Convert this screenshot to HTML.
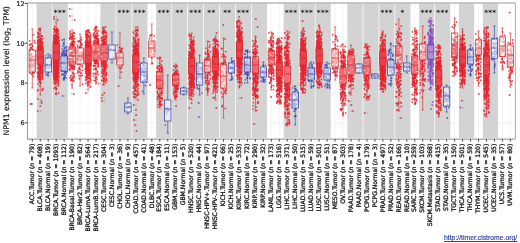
<!DOCTYPE html>
<html><head><meta charset="utf-8"><title>NPM1 expression</title>
<style>
html,body{margin:0;padding:0;background:#fff;}
body{width:520px;height:243px;position:relative;overflow:hidden;}
a.src{position:absolute;left:444px;top:233.8px;font-family:"Liberation Sans",Arial,sans-serif;font-size:6.84px;color:#2a3f9e;text-decoration:underline;text-decoration-skip-ink:none;-webkit-text-stroke:0.15px #2a3f9e;white-space:nowrap;}
</style></head><body>
<svg width="520" height="243" viewBox="0 0 520 243" style="position:absolute;left:0;top:0;filter:blur(0.4px)">
<rect x="0" y="0" width="520" height="243" fill="#fff"/>
<path d="M32.30 3.0V139.2M40.27 3.0V139.2M48.24 3.0V139.2M56.20 3.0V139.2M64.17 3.0V139.2M72.14 3.0V139.2M80.11 3.0V139.2M88.08 3.0V139.2M96.04 3.0V139.2M104.01 3.0V139.2M111.98 3.0V139.2M119.95 3.0V139.2M127.92 3.0V139.2M135.88 3.0V139.2M143.85 3.0V139.2M151.82 3.0V139.2M159.79 3.0V139.2M167.76 3.0V139.2M175.72 3.0V139.2M183.69 3.0V139.2M191.66 3.0V139.2M199.63 3.0V139.2M207.60 3.0V139.2M215.56 3.0V139.2M223.53 3.0V139.2M231.50 3.0V139.2M239.47 3.0V139.2M247.44 3.0V139.2M255.40 3.0V139.2M263.37 3.0V139.2M271.34 3.0V139.2M279.31 3.0V139.2M287.28 3.0V139.2M295.24 3.0V139.2M303.21 3.0V139.2M311.18 3.0V139.2M319.15 3.0V139.2M327.12 3.0V139.2M335.08 3.0V139.2M343.05 3.0V139.2M351.02 3.0V139.2M358.99 3.0V139.2M366.96 3.0V139.2M374.92 3.0V139.2M382.89 3.0V139.2M390.86 3.0V139.2M398.83 3.0V139.2M406.80 3.0V139.2M414.76 3.0V139.2M422.73 3.0V139.2M430.70 3.0V139.2M438.67 3.0V139.2M446.64 3.0V139.2M454.60 3.0V139.2M462.57 3.0V139.2M470.54 3.0V139.2M478.51 3.0V139.2M486.48 3.0V139.2M494.44 3.0V139.2M502.41 3.0V139.2M510.38 3.0V139.2" stroke="#f1f1f1" stroke-width="0.8" fill="none"/>
<path d="M27.5 122.75H515.0" stroke="#ececec" stroke-width="0.8"/>
<path d="M27.5 83.00H515.0" stroke="#ececec" stroke-width="0.8"/>
<path d="M27.5 43.25H515.0" stroke="#ececec" stroke-width="0.8"/>
<rect x="36.63" y="3.0" width="15.24" height="134.90" fill="#d3d3d3"/>
<rect x="52.57" y="3.0" width="15.24" height="134.90" fill="#d3d3d3"/>
<rect x="100.38" y="3.0" width="15.24" height="134.90" fill="#d3d3d3"/>
<rect x="116.31" y="3.0" width="15.24" height="134.90" fill="#d3d3d3"/>
<rect x="132.25" y="3.0" width="15.24" height="134.90" fill="#d3d3d3"/>
<rect x="156.15" y="3.0" width="15.24" height="134.90" fill="#d3d3d3"/>
<rect x="172.09" y="3.0" width="15.24" height="134.90" fill="#d3d3d3"/>
<rect x="188.03" y="3.0" width="15.24" height="134.90" fill="#d3d3d3"/>
<rect x="203.96" y="3.0" width="15.24" height="134.90" fill="#d3d3d3"/>
<rect x="219.90" y="3.0" width="15.24" height="134.90" fill="#d3d3d3"/>
<rect x="235.83" y="3.0" width="15.24" height="134.90" fill="#d3d3d3"/>
<rect x="251.77" y="3.0" width="15.24" height="134.90" fill="#d3d3d3"/>
<rect x="283.64" y="3.0" width="15.24" height="134.90" fill="#d3d3d3"/>
<rect x="299.58" y="3.0" width="15.24" height="134.90" fill="#d3d3d3"/>
<rect x="315.51" y="3.0" width="15.24" height="134.90" fill="#d3d3d3"/>
<rect x="347.39" y="3.0" width="15.24" height="134.90" fill="#d3d3d3"/>
<rect x="363.32" y="3.0" width="15.24" height="134.90" fill="#d3d3d3"/>
<rect x="379.26" y="3.0" width="15.24" height="134.90" fill="#d3d3d3"/>
<rect x="395.19" y="3.0" width="15.24" height="134.90" fill="#d3d3d3"/>
<rect x="419.10" y="3.0" width="15.24" height="134.90" fill="#d3d3d3"/>
<rect x="435.03" y="3.0" width="15.24" height="134.90" fill="#d3d3d3"/>
<rect x="458.94" y="3.0" width="15.24" height="134.90" fill="#d3d3d3"/>
<rect x="482.84" y="3.0" width="15.24" height="134.90" fill="#d3d3d3"/>
<path d="M30.3 59.8h0M34.3 59.3h0M32.6 71.4h0M34.3 64.1h0M31.5 48.0h0M30.4 66.2h0M30.9 54.5h0M31.0 61.6h0M31.6 64.6h0M33.3 76.5h0M33.3 56.8h0M33.8 61.1h0M31.7 58.2h0M33.0 72.3h0M30.7 65.6h0M29.9 73.0h0M30.1 61.1h0M34.3 61.5h0M31.0 67.6h0M30.3 65.1h0M32.1 67.2h0M30.2 51.3h0M34.1 72.9h0M34.7 64.0h0M32.5 46.0h0M34.9 42.9h0M31.0 43.9h0M41.0 47.7h0M42.6 59.1h0M39.4 79.7h0M42.8 65.1h0M39.2 48.0h0M38.5 60.0h0M42.5 66.6h0M42.5 66.7h0M38.3 51.1h0M39.4 65.3h0M39.0 76.6h0M41.6 59.4h0M40.4 42.2h0M37.9 36.4h0M38.2 59.8h0M42.2 46.8h0M38.9 50.3h0M42.7 72.9h0M37.7 50.3h0M42.4 47.2h0M37.6 90.5h0M42.0 44.5h0M38.9 73.4h0M40.4 66.3h0M41.5 48.6h0M40.0 60.3h0M41.8 40.9h0M41.1 49.5h0M38.9 41.9h0M38.2 58.6h0M40.7 59.4h0M40.8 60.4h0M40.1 41.0h0M42.3 51.2h0M38.9 53.3h0M39.2 56.2h0M41.2 40.7h0M41.2 56.5h0M37.8 42.9h0M41.3 50.0h0M41.6 56.0h0M42.8 48.6h0M38.8 52.4h0M39.2 61.9h0M38.6 62.8h0M41.2 38.9h0M39.7 65.7h0M38.3 53.3h0M39.7 50.5h0M41.5 52.6h0M39.3 75.4h0M41.6 54.8h0M39.6 72.4h0M38.5 79.2h0M39.5 55.9h0M42.8 58.8h0M42.0 66.6h0M37.8 56.6h0M42.5 49.0h0M42.4 75.0h0M42.0 59.2h0M37.8 58.7h0M39.0 53.3h0M39.4 48.5h0M40.9 52.6h0M39.3 57.4h0M41.6 60.4h0M42.7 49.8h0M40.1 71.4h0M39.7 66.5h0M40.2 59.0h0M41.9 61.7h0M41.7 43.6h0M39.3 46.1h0M38.0 68.5h0M38.9 39.8h0M40.6 54.6h0M42.3 60.5h0M38.0 59.8h0M41.4 35.5h0M39.8 57.5h0M41.6 58.9h0M38.2 89.9h0M40.6 54.2h0M38.6 56.6h0M38.4 66.7h0M39.3 55.7h0M40.3 62.5h0M41.1 67.7h0M40.1 73.7h0M42.5 46.0h0M38.2 48.4h0M40.7 69.0h0M42.2 54.0h0M41.8 42.7h0M40.8 50.6h0M39.6 68.6h0M38.9 42.2h0M38.7 53.8h0M41.2 58.3h0M38.7 65.3h0M37.9 44.3h0M40.5 79.6h0M38.5 42.1h0M39.1 75.9h0M39.3 62.0h0M39.8 62.8h0M39.5 54.8h0M38.7 48.3h0M39.9 44.8h0M42.3 56.5h0M37.6 72.4h0M42.5 54.8h0M39.6 39.3h0M39.1 43.2h0M38.2 75.1h0M42.8 59.2h0M42.7 63.0h0M37.9 56.0h0M42.5 54.1h0M38.4 52.3h0M39.8 30.7h0M38.6 48.2h0M40.4 58.1h0M38.9 57.7h0M37.8 50.9h0M37.8 56.4h0M40.8 78.0h0M39.2 30.5h0M39.9 85.9h0M39.9 47.9h0M40.2 58.7h0M41.8 65.8h0M40.1 72.0h0M39.9 81.8h0M40.3 83.1h0M38.0 99.0h0M40.3 106.0h0M54.0 53.7h0M56.5 42.0h0M58.7 53.2h0M56.9 40.0h0M56.4 93.8h0M55.2 58.2h0M56.3 74.9h0M57.2 56.6h0M58.3 55.4h0M55.1 60.2h0M54.5 70.5h0M56.8 62.1h0M56.9 74.4h0M57.8 53.5h0M53.5 63.7h0M56.7 61.8h0M56.2 58.0h0M57.0 60.2h0M56.6 38.3h0M54.4 56.8h0M54.0 44.7h0M57.9 30.3h0M53.8 47.9h0M55.2 44.9h0M54.4 61.2h0M58.4 29.7h0M55.9 63.3h0M58.3 43.0h0M55.9 66.3h0M53.7 73.2h0M55.2 55.7h0M55.1 37.6h0M56.2 59.5h0M55.6 67.6h0M55.2 38.3h0M57.8 55.5h0M55.4 65.3h0M55.1 37.3h0M56.4 81.4h0M53.9 58.7h0M55.4 50.2h0M55.0 52.8h0M57.1 47.6h0M57.3 70.5h0M58.0 41.2h0M58.0 54.5h0M55.4 64.8h0M58.7 62.7h0M56.2 58.0h0M54.2 58.8h0M58.4 61.8h0M54.8 56.6h0M58.2 50.8h0M56.4 60.5h0M55.6 37.2h0M55.2 58.6h0M54.5 62.0h0M57.1 64.8h0M55.5 62.4h0M53.9 60.0h0M54.2 58.1h0M55.7 54.5h0M58.3 85.2h0M55.0 54.8h0M57.1 63.7h0M57.1 52.8h0M58.1 80.6h0M54.5 57.3h0M57.5 76.6h0M53.7 42.9h0M55.1 49.6h0M55.2 61.6h0M58.0 53.6h0M54.9 51.2h0M55.4 53.2h0M57.7 60.9h0M58.1 66.7h0M54.8 78.7h0M54.6 58.3h0M54.0 45.2h0M57.5 51.1h0M54.0 57.6h0M58.5 48.1h0M58.0 66.8h0M53.8 49.6h0M56.3 51.5h0M57.6 63.0h0M57.9 51.0h0M58.7 51.2h0M54.9 50.2h0M55.7 66.1h0M54.2 56.3h0M54.8 55.7h0M55.9 62.5h0M55.1 60.2h0M56.5 60.2h0M56.5 59.6h0M57.1 39.9h0M57.6 58.5h0M55.1 55.5h0M53.8 63.7h0M57.3 59.6h0M55.3 42.7h0M54.4 49.6h0M58.9 60.0h0M57.4 38.5h0M54.1 40.4h0M54.5 40.8h0M58.5 66.8h0M58.6 45.1h0M54.8 66.0h0M57.7 50.1h0M54.5 28.8h0M58.5 43.5h0M58.0 42.8h0M54.5 44.7h0M55.5 54.3h0M58.0 57.5h0M56.6 55.9h0M57.3 55.4h0M56.2 63.2h0M55.1 56.2h0M57.2 28.3h0M58.7 60.8h0M55.9 63.2h0M53.5 47.9h0M57.8 53.7h0M57.1 42.6h0M55.3 44.6h0M58.0 73.2h0M55.1 75.7h0M55.4 56.7h0M55.3 57.8h0M58.4 57.3h0M58.7 58.6h0M53.8 38.9h0M55.1 53.7h0M56.1 58.4h0M55.4 42.0h0M54.5 73.9h0M54.0 62.6h0M56.6 58.8h0M56.6 78.5h0M54.5 69.8h0M54.1 39.4h0M54.0 61.3h0M56.1 43.1h0M56.6 68.4h0M56.7 65.8h0M53.9 69.7h0M56.5 68.1h0M54.1 57.9h0M54.1 45.6h0M54.4 63.3h0M57.7 72.0h0M53.8 55.1h0M53.6 45.3h0M55.1 71.4h0M58.3 59.5h0M56.5 49.2h0M54.4 48.2h0M57.6 58.1h0M54.2 62.0h0M58.6 51.0h0M56.8 65.1h0M57.8 74.4h0M57.2 46.5h0M55.9 42.3h0M54.1 53.6h0M57.8 53.3h0M55.1 58.3h0M54.3 43.2h0M57.2 31.2h0M53.6 43.9h0M56.2 46.6h0M53.7 37.2h0M57.2 61.6h0M54.4 72.2h0M58.2 73.5h0M55.3 56.5h0M56.7 62.0h0M55.5 60.7h0M55.6 55.6h0M56.6 32.9h0M56.0 57.7h0M54.3 88.5h0M55.0 58.9h0M56.6 58.6h0M58.9 57.1h0M57.7 62.1h0M56.9 52.4h0M55.0 58.0h0M58.6 60.6h0M57.6 69.0h0M56.9 65.6h0M55.7 65.4h0M55.2 52.7h0M55.5 44.0h0M55.4 62.0h0M58.2 66.0h0M56.6 61.3h0M53.9 54.0h0M57.4 46.0h0M55.3 46.6h0M53.9 28.6h0M58.8 55.9h0M55.8 53.9h0M56.1 30.8h0M54.9 42.7h0M55.0 66.0h0M55.7 41.9h0M58.2 56.9h0M57.5 69.6h0M53.9 59.7h0M55.3 37.8h0M56.4 53.5h0M58.5 39.8h0M57.6 70.2h0M57.2 49.3h0M55.7 58.7h0M55.3 44.8h0M54.9 57.2h0M58.5 58.3h0M53.8 58.7h0M55.3 41.8h0M54.3 50.4h0M57.9 64.1h0M56.7 45.7h0M56.8 56.3h0M54.9 61.1h0M57.7 66.1h0M58.8 69.1h0M56.3 81.2h0M53.6 58.3h0M57.7 30.8h0M54.7 34.8h0M53.7 64.9h0M56.2 61.6h0M58.6 66.2h0M54.5 48.4h0M54.4 52.1h0M54.8 54.6h0M56.9 74.3h0M56.0 65.2h0M54.1 65.6h0M57.0 59.2h0M53.8 76.0h0M58.5 63.2h0M54.7 61.1h0M55.8 73.0h0M57.6 52.1h0M58.9 51.3h0M54.4 66.9h0M54.9 64.8h0M55.0 76.2h0M58.3 60.1h0M56.7 79.2h0M58.3 52.7h0M55.4 78.0h0M54.5 47.4h0M55.1 40.1h0M58.8 63.7h0M54.3 50.6h0M54.4 50.1h0M55.3 53.9h0M58.3 63.3h0M54.8 61.9h0M53.7 56.4h0M55.8 60.3h0M58.9 66.1h0M54.2 54.6h0M55.8 50.7h0M54.3 63.9h0M54.1 78.8h0M58.5 62.6h0M58.7 49.3h0M55.0 67.6h0M53.9 61.9h0M55.7 38.1h0M53.6 71.1h0M56.4 57.3h0M58.8 51.2h0M55.7 52.9h0M58.8 40.8h0M55.7 64.5h0M53.5 66.3h0M54.9 59.6h0M54.8 56.2h0M58.1 46.9h0M53.8 56.0h0M57.0 55.4h0M58.8 52.1h0M58.1 49.0h0M58.9 57.0h0M57.5 35.5h0M55.6 42.2h0M57.2 61.1h0M56.4 64.3h0M54.9 54.3h0M57.4 57.8h0M54.7 47.7h0M56.4 76.5h0M57.9 53.4h0M57.9 47.2h0M58.0 65.6h0M53.7 61.4h0M57.9 48.1h0M54.9 68.1h0M57.8 68.1h0M54.0 76.6h0M57.3 64.6h0M57.8 78.7h0M57.2 45.4h0M54.8 26.7h0M55.6 53.3h0M56.6 47.2h0M57.4 62.4h0M54.8 77.5h0M56.9 28.9h0M55.8 75.8h0M55.5 60.7h0M55.5 54.8h0M55.7 49.3h0M55.4 29.8h0M58.5 67.0h0M57.3 31.9h0M55.3 56.2h0M55.6 60.7h0M58.4 64.4h0M56.7 57.2h0M58.0 50.4h0M58.3 52.2h0M56.3 44.0h0M57.5 46.8h0M57.2 65.6h0M57.7 55.4h0M53.9 76.2h0M54.0 47.1h0M53.8 56.2h0M56.1 79.4h0M55.8 58.6h0M57.9 56.5h0M55.3 87.3h0M58.8 51.1h0M55.2 42.1h0M56.5 37.3h0M53.8 36.6h0M57.8 50.1h0M54.6 74.6h0M55.5 44.8h0M56.7 53.3h0M54.6 68.5h0M53.8 66.1h0M55.7 53.8h0M55.0 52.9h0M57.3 65.3h0M56.0 59.7h0M58.2 42.8h0M57.0 71.3h0M53.9 73.1h0M58.5 69.2h0M56.2 71.9h0M55.1 83.7h0M54.3 29.2h0M54.0 17.0h0M58.6 93.0h0M73.9 73.7h0M70.1 63.5h0M72.7 43.3h0M72.7 68.5h0M70.6 61.2h0M73.1 66.3h0M71.4 80.0h0M74.0 44.5h0M72.8 51.6h0M69.8 58.9h0M73.8 55.4h0M70.0 34.8h0M71.3 66.5h0M70.6 64.7h0M74.0 74.5h0M69.6 70.2h0M72.2 44.2h0M72.8 47.0h0M71.6 67.1h0M70.7 80.0h0M73.8 49.4h0M74.8 61.9h0M70.2 55.5h0M73.3 61.2h0M70.5 65.2h0M70.5 53.8h0M71.8 49.4h0M70.5 45.7h0M73.2 72.5h0M74.6 38.8h0M73.3 51.0h0M69.5 62.4h0M72.8 58.5h0M70.3 66.5h0M71.1 55.0h0M71.4 59.1h0M71.9 85.1h0M70.3 64.9h0M74.8 50.0h0M72.0 61.3h0M70.0 64.6h0M70.6 80.3h0M74.3 42.1h0M74.7 61.7h0M71.5 39.0h0M70.2 46.0h0M72.6 45.9h0M73.9 48.8h0M69.7 62.6h0M69.8 77.8h0M74.2 69.0h0M70.6 37.7h0M71.5 63.3h0M70.1 31.1h0M72.6 57.3h0M71.8 48.4h0M69.7 59.3h0M73.1 77.6h0M72.9 43.1h0M70.2 63.5h0M69.8 32.4h0M70.7 80.4h0M73.9 32.5h0M69.6 9.0h0M73.8 94.0h0M78.8 58.2h0M79.2 60.1h0M82.7 51.9h0M81.5 58.5h0M81.5 53.2h0M79.6 63.9h0M82.2 66.9h0M81.6 73.3h0M81.7 57.8h0M81.9 44.7h0M79.4 48.3h0M78.3 50.2h0M80.3 58.2h0M82.3 65.6h0M77.9 58.7h0M82.3 53.5h0M81.3 55.8h0M79.8 55.3h0M81.4 54.0h0M78.8 57.9h0M78.5 41.7h0M80.9 61.5h0M80.6 45.9h0M77.8 46.9h0M79.4 41.0h0M80.1 72.5h0M78.9 75.7h0M89.8 58.0h0M86.6 67.5h0M86.6 54.7h0M87.7 50.8h0M90.4 59.7h0M87.2 37.9h0M88.3 63.5h0M86.1 51.4h0M88.4 51.4h0M90.3 59.9h0M90.1 46.2h0M86.5 60.0h0M90.2 77.2h0M88.1 70.5h0M86.2 55.4h0M87.7 54.6h0M86.9 52.8h0M87.9 46.7h0M87.2 46.7h0M86.7 44.7h0M86.3 43.3h0M86.5 58.5h0M89.4 36.6h0M86.8 58.9h0M85.7 57.1h0M85.8 58.6h0M89.0 70.0h0M88.8 59.3h0M89.5 77.2h0M86.2 50.8h0M87.0 56.0h0M85.8 49.1h0M88.1 67.7h0M87.8 50.7h0M90.5 60.6h0M88.6 60.3h0M85.8 56.3h0M87.6 43.3h0M87.3 54.6h0M86.2 70.0h0M85.4 69.2h0M87.3 48.7h0M87.5 61.9h0M88.4 72.0h0M90.5 56.2h0M90.0 58.0h0M89.0 30.1h0M88.3 66.3h0M86.0 57.0h0M85.5 57.4h0M88.1 59.7h0M87.3 55.5h0M88.8 50.0h0M87.5 70.8h0M86.8 67.7h0M87.3 55.5h0M86.9 37.4h0M86.2 62.5h0M86.4 59.5h0M86.2 53.2h0M86.8 56.2h0M90.3 48.5h0M90.4 42.6h0M87.7 52.9h0M90.0 81.5h0M90.1 56.9h0M90.7 80.0h0M86.0 62.8h0M88.8 47.0h0M86.4 61.7h0M90.6 63.8h0M87.7 53.6h0M86.6 48.4h0M89.2 46.6h0M86.2 37.1h0M85.7 64.6h0M85.6 45.1h0M88.5 56.3h0M88.6 50.8h0M90.5 49.9h0M88.4 63.6h0M87.4 62.8h0M89.7 43.9h0M85.4 61.6h0M89.0 65.0h0M87.6 44.8h0M90.4 63.2h0M87.4 43.6h0M89.7 58.5h0M90.7 52.2h0M89.5 78.6h0M86.2 44.5h0M86.9 62.5h0M90.4 64.5h0M89.5 70.3h0M88.5 51.1h0M85.8 54.0h0M86.9 56.0h0M87.8 64.4h0M89.3 74.9h0M88.0 77.3h0M88.9 54.2h0M90.3 50.0h0M87.7 56.8h0M89.5 58.3h0M87.5 42.1h0M86.0 54.0h0M89.0 55.9h0M88.3 62.3h0M88.8 44.1h0M89.8 62.0h0M85.8 64.7h0M85.6 62.8h0M89.3 60.9h0M90.4 60.7h0M89.8 52.6h0M88.1 54.8h0M90.4 51.4h0M86.7 57.4h0M90.3 40.9h0M89.5 58.5h0M90.0 47.3h0M90.3 58.6h0M89.4 58.4h0M89.8 73.6h0M86.2 58.8h0M87.6 54.9h0M87.9 47.5h0M87.4 65.5h0M88.6 52.3h0M87.4 49.7h0M86.1 46.1h0M87.5 47.9h0M85.5 50.5h0M86.9 65.2h0M90.5 51.2h0M90.5 60.3h0M90.0 82.4h0M88.6 65.5h0M86.7 74.2h0M85.4 42.3h0M88.1 81.9h0M89.0 58.7h0M90.7 59.2h0M85.4 68.6h0M90.6 65.2h0M85.4 60.6h0M88.6 61.6h0M86.5 75.8h0M85.9 60.8h0M90.1 36.3h0M90.6 49.0h0M85.7 73.2h0M86.0 63.4h0M86.2 62.5h0M90.5 46.9h0M88.7 51.2h0M89.3 66.8h0M90.2 76.5h0M86.2 39.1h0M89.7 68.8h0M88.5 67.2h0M88.3 51.2h0M87.7 82.3h0M86.7 71.3h0M85.9 83.3h0M87.2 35.0h0M89.0 48.8h0M88.1 49.9h0M86.4 60.4h0M87.2 35.6h0M87.7 74.4h0M90.4 39.4h0M87.0 42.5h0M89.2 73.8h0M85.6 58.0h0M88.9 61.2h0M85.7 58.1h0M85.9 57.5h0M88.1 43.3h0M87.7 49.1h0M90.3 46.9h0M87.5 46.0h0M89.1 52.9h0M86.8 41.4h0M87.5 68.3h0M86.2 80.8h0M90.7 80.7h0M98.1 44.6h0M96.7 58.5h0M93.8 52.6h0M94.0 57.6h0M95.1 63.3h0M95.2 46.6h0M95.3 51.4h0M96.9 60.5h0M95.5 57.5h0M95.8 47.9h0M97.3 42.1h0M98.5 57.5h0M96.0 27.0h0M94.3 65.9h0M94.7 60.2h0M96.7 63.4h0M95.0 40.5h0M96.0 27.4h0M95.0 27.8h0M96.7 37.6h0M94.5 62.4h0M96.4 53.7h0M95.8 51.7h0M96.9 58.1h0M93.5 73.4h0M97.3 42.5h0M94.3 45.2h0M93.4 35.8h0M97.8 38.8h0M98.0 40.6h0M95.2 63.2h0M93.7 54.4h0M94.0 34.0h0M94.8 48.5h0M98.0 56.5h0M97.6 33.4h0M97.7 47.2h0M93.8 69.5h0M96.7 37.4h0M97.1 32.1h0M95.8 37.0h0M94.9 42.3h0M94.7 50.7h0M94.6 73.8h0M95.3 73.5h0M93.5 59.7h0M98.1 56.5h0M95.2 38.4h0M95.5 54.6h0M98.3 64.1h0M97.6 40.7h0M95.3 53.0h0M94.8 36.6h0M95.4 69.0h0M95.7 68.7h0M94.7 62.9h0M96.6 38.5h0M97.5 54.5h0M97.6 58.0h0M95.7 61.3h0M94.4 44.6h0M96.1 73.9h0M98.0 42.7h0M94.3 56.2h0M95.9 58.2h0M96.1 60.7h0M98.4 66.7h0M97.5 52.2h0M94.5 51.8h0M97.3 57.6h0M96.8 58.6h0M93.7 76.1h0M94.2 80.3h0M101.9 73.2h0M102.7 49.9h0M102.0 52.9h0M103.1 53.7h0M103.7 37.0h0M102.2 46.6h0M101.7 50.0h0M103.9 31.3h0M103.5 74.5h0M104.5 69.0h0M104.0 81.7h0M104.0 51.9h0M106.7 60.3h0M101.4 65.1h0M103.6 44.1h0M106.5 57.1h0M104.4 56.5h0M102.7 72.9h0M104.2 40.0h0M103.5 40.6h0M105.6 48.1h0M104.5 71.1h0M105.4 67.1h0M104.9 68.8h0M105.8 47.8h0M104.4 42.1h0M105.4 68.9h0M104.2 65.8h0M106.2 47.4h0M101.5 62.5h0M105.2 42.0h0M103.9 50.4h0M105.1 64.4h0M103.0 33.2h0M105.6 51.9h0M105.6 56.8h0M102.5 32.2h0M104.6 60.5h0M106.5 79.0h0M102.6 69.8h0M103.2 63.0h0M104.3 51.8h0M101.4 50.1h0M106.4 65.7h0M103.5 63.6h0M101.7 53.9h0M102.0 57.7h0M104.4 58.9h0M104.1 62.8h0M105.7 52.7h0M105.7 48.4h0M106.0 56.9h0M105.5 36.6h0M105.8 44.5h0M105.8 57.1h0M105.0 50.1h0M104.4 65.1h0M104.2 64.8h0M106.1 52.5h0M104.9 61.2h0M105.5 49.7h0M102.8 51.9h0M105.7 47.3h0M103.2 59.2h0M101.7 65.6h0M104.9 46.6h0M104.9 57.9h0M103.7 64.8h0M102.6 36.8h0M105.5 65.7h0M102.0 58.8h0M102.8 45.2h0M103.1 46.3h0M104.8 75.3h0M106.3 52.3h0M104.4 52.0h0M102.7 43.6h0M105.5 56.5h0M106.7 64.7h0M105.8 64.0h0M102.0 59.7h0M106.3 49.8h0M104.1 70.3h0M103.8 40.8h0M106.3 62.8h0M102.1 41.2h0M106.0 55.1h0M101.4 62.2h0M103.3 55.9h0M105.4 39.4h0M102.4 63.8h0M101.8 80.4h0M103.3 71.0h0M106.1 60.4h0M103.3 45.6h0M104.1 51.7h0M106.6 72.3h0M103.6 40.7h0M104.5 41.7h0M102.7 27.6h0M103.7 78.8h0M102.4 95.0h0M120.7 49.9h0M118.5 57.1h0M119.6 55.1h0M121.1 51.6h0M121.1 48.4h0M119.1 59.4h0M121.7 56.7h0M122.6 64.5h0M117.4 62.6h0M121.4 60.5h0M121.5 49.6h0M119.9 62.8h0M118.4 86.0h0M135.1 58.0h0M137.8 62.6h0M135.1 69.2h0M137.5 89.9h0M134.2 87.8h0M137.6 61.3h0M136.1 55.9h0M133.7 78.1h0M133.9 69.4h0M137.5 65.3h0M133.5 73.5h0M137.4 69.2h0M137.3 50.0h0M138.0 58.2h0M135.8 86.4h0M137.4 55.8h0M137.1 78.5h0M135.1 83.1h0M135.6 59.0h0M136.0 56.0h0M138.0 57.3h0M137.8 50.8h0M137.0 61.4h0M138.6 70.2h0M133.8 75.1h0M134.9 74.8h0M133.6 67.9h0M136.2 69.2h0M136.4 76.2h0M138.3 55.6h0M133.6 69.7h0M133.9 40.7h0M137.7 94.2h0M134.4 78.8h0M133.5 56.1h0M136.8 57.9h0M134.8 68.3h0M137.0 50.4h0M134.7 56.2h0M136.5 44.4h0M137.9 83.6h0M135.8 41.5h0M137.2 43.2h0M133.2 51.1h0M136.4 61.9h0M135.0 61.8h0M134.8 88.9h0M136.4 73.4h0M136.1 62.1h0M138.2 69.8h0M138.6 54.0h0M134.6 56.4h0M134.6 63.0h0M136.3 84.0h0M137.9 68.4h0M133.3 50.4h0M134.6 50.7h0M134.5 65.3h0M133.7 74.0h0M136.9 70.1h0M133.6 54.4h0M135.7 49.4h0M138.2 42.8h0M136.0 53.2h0M136.8 76.9h0M136.2 82.0h0M137.8 40.1h0M136.3 30.2h0M135.6 44.3h0M136.4 63.4h0M133.7 74.4h0M134.6 48.9h0M137.9 72.9h0M137.3 64.9h0M133.3 47.2h0M136.4 54.8h0M133.6 65.5h0M134.4 49.1h0M134.9 74.3h0M134.1 61.8h0M134.9 45.8h0M133.7 71.8h0M138.1 56.5h0M136.8 45.7h0M136.5 61.8h0M135.7 41.1h0M135.5 82.1h0M136.2 74.6h0M136.2 85.2h0M136.6 70.3h0M136.9 54.9h0M138.3 53.4h0M137.9 49.4h0M138.5 74.7h0M135.8 47.0h0M138.2 76.6h0M133.6 74.2h0M133.3 50.7h0M134.3 56.1h0M138.4 61.2h0M136.1 57.4h0M133.2 65.7h0M137.9 78.6h0M134.8 41.2h0M133.8 53.2h0M136.0 81.3h0M138.5 48.7h0M137.2 73.5h0M133.4 46.1h0M136.6 68.7h0M138.2 44.8h0M135.0 57.1h0M138.5 73.2h0M133.2 57.1h0M137.1 74.7h0M137.5 68.3h0M133.7 47.5h0M136.0 68.7h0M133.8 57.4h0M138.5 64.7h0M137.5 75.0h0M137.4 79.2h0M133.6 88.0h0M134.9 71.4h0M133.5 59.5h0M138.6 61.6h0M136.0 62.1h0M135.4 68.9h0M138.0 57.6h0M137.2 52.3h0M136.2 91.1h0M134.9 63.5h0M137.1 65.4h0M134.3 58.0h0M136.5 59.9h0M135.3 40.8h0M137.9 71.9h0M134.1 80.9h0M133.5 47.2h0M135.8 59.0h0M136.6 76.0h0M135.2 43.8h0M137.5 78.3h0M134.4 90.8h0M133.3 49.9h0M134.6 55.5h0M133.2 69.5h0M134.9 46.4h0M134.9 76.9h0M137.2 72.4h0M134.4 94.3h0M134.3 94.5h0M133.8 105.0h0M133.8 120.0h0M150.7 50.8h0M150.6 54.9h0M150.6 50.0h0M149.7 48.0h0M149.5 49.2h0M153.0 45.1h0M153.9 47.9h0M151.7 34.7h0M150.5 54.3h0M149.4 38.7h0M152.2 49.1h0M151.7 44.4h0M150.5 47.7h0M151.9 44.1h0M154.3 44.4h0M153.8 41.5h0M149.9 85.0h0M160.1 80.8h0M161.8 93.7h0M158.1 79.7h0M159.6 66.3h0M160.6 73.5h0M157.5 90.9h0M162.1 77.1h0M160.9 68.5h0M160.0 74.8h0M158.9 83.2h0M159.6 58.6h0M160.9 105.4h0M159.7 85.9h0M158.6 101.9h0M161.3 95.6h0M159.7 80.7h0M157.3 71.8h0M159.7 76.5h0M158.1 80.6h0M158.8 85.9h0M159.8 63.1h0M159.2 78.6h0M159.0 69.5h0M162.0 80.7h0M161.7 91.0h0M160.6 88.6h0M158.5 76.0h0M161.2 67.0h0M159.3 81.4h0M161.8 86.8h0M160.0 102.7h0M159.0 96.9h0M159.8 96.9h0M160.7 68.1h0M162.0 80.7h0M159.9 76.3h0M157.5 79.7h0M161.2 64.6h0M162.1 85.3h0M161.7 67.7h0M160.6 101.4h0M160.4 81.5h0M161.9 66.2h0M161.3 80.2h0M157.5 68.3h0M159.1 79.2h0M158.1 97.3h0M160.1 88.5h0M161.2 84.9h0M161.4 95.1h0M160.0 75.6h0M160.5 88.1h0M158.9 77.3h0M161.3 72.3h0M157.4 77.1h0M157.5 68.2h0M159.2 82.0h0M160.5 79.2h0M162.3 99.7h0M159.7 104.8h0M159.8 58.1h0M175.5 77.7h0M176.6 78.1h0M173.2 74.7h0M173.5 73.9h0M177.8 71.3h0M177.1 69.7h0M176.2 84.4h0M175.8 85.6h0M175.2 85.8h0M176.8 86.0h0M176.0 75.7h0M173.5 70.0h0M177.7 76.3h0M177.4 85.1h0M174.0 78.8h0M176.9 65.4h0M177.7 75.0h0M174.2 85.0h0M175.0 75.5h0M173.1 81.9h0M176.0 96.7h0M173.4 74.8h0M177.6 83.0h0M174.5 92.5h0M174.7 73.7h0M174.3 78.5h0M175.8 92.0h0M176.0 89.0h0M176.3 78.9h0M174.0 76.1h0M177.4 92.1h0M174.6 78.6h0M176.0 86.8h0M174.5 73.3h0M175.6 80.9h0M173.9 77.3h0M174.7 98.0h0M175.0 73.0h0M178.2 83.0h0M177.1 79.7h0M173.1 81.6h0M173.5 92.6h0M177.0 80.8h0M177.6 82.5h0M177.9 73.3h0M173.9 90.3h0M174.1 93.0h0M177.2 71.8h0M173.5 79.0h0M176.4 96.9h0M175.2 96.4h0M192.8 45.3h0M191.2 74.0h0M191.8 66.5h0M190.8 94.7h0M193.3 66.0h0M193.5 66.4h0M189.0 79.1h0M194.1 67.6h0M191.6 63.3h0M191.8 42.2h0M189.2 84.4h0M194.3 77.7h0M193.2 61.3h0M189.1 53.3h0M193.5 57.5h0M193.7 51.3h0M189.2 77.0h0M189.6 60.5h0M192.1 65.9h0M189.3 34.4h0M191.5 81.2h0M190.1 68.5h0M192.4 44.6h0M193.1 78.5h0M192.6 76.9h0M191.6 68.0h0M191.3 73.2h0M194.1 86.1h0M194.2 86.4h0M189.5 89.1h0M193.9 50.1h0M194.1 75.1h0M192.2 50.1h0M193.0 64.8h0M192.0 71.0h0M193.7 82.1h0M193.4 56.0h0M191.3 58.3h0M193.7 77.9h0M190.1 72.4h0M193.2 63.9h0M192.8 65.7h0M193.5 80.9h0M191.3 44.8h0M191.8 56.7h0M189.3 58.7h0M192.7 43.5h0M189.1 77.3h0M192.0 84.3h0M191.8 75.8h0M194.2 61.4h0M192.5 67.0h0M193.5 68.0h0M192.6 70.8h0M193.4 72.0h0M193.2 75.3h0M191.1 73.3h0M189.3 59.5h0M192.8 69.0h0M192.9 86.0h0M193.8 68.7h0M191.6 57.1h0M190.5 81.9h0M189.8 53.3h0M192.9 63.8h0M191.0 49.5h0M194.3 68.1h0M189.1 57.9h0M192.5 67.5h0M190.4 71.0h0M191.8 58.3h0M189.4 56.7h0M193.1 64.7h0M193.6 66.4h0M189.0 79.1h0M191.4 54.4h0M190.2 77.0h0M189.3 63.7h0M190.5 63.9h0M191.0 54.2h0M189.7 63.2h0M191.4 55.8h0M193.7 75.8h0M189.6 73.9h0M191.3 59.3h0M194.2 87.0h0M192.4 78.6h0M193.7 59.4h0M189.9 87.8h0M193.1 53.4h0M189.1 34.2h0M190.7 80.9h0M194.4 66.6h0M190.7 58.7h0M190.9 61.9h0M191.3 74.5h0M192.9 59.2h0M193.6 49.5h0M193.3 80.5h0M192.8 65.0h0M194.1 79.3h0M189.0 70.4h0M189.0 91.9h0M194.0 66.4h0M193.2 69.1h0M191.6 63.5h0M193.1 72.0h0M193.3 81.8h0M191.6 79.2h0M190.8 57.7h0M192.6 51.8h0M194.0 56.8h0M190.9 72.7h0M189.1 77.9h0M189.3 61.4h0M194.3 69.5h0M193.0 96.1h0M193.6 63.3h0M190.1 61.3h0M190.9 67.6h0M194.3 59.9h0M193.9 60.0h0M191.0 78.1h0M193.0 66.5h0M191.0 48.3h0M192.4 67.3h0M189.0 55.5h0M192.4 54.0h0M191.0 74.3h0M192.9 91.3h0M191.2 74.5h0M191.2 49.0h0M194.3 60.5h0M192.4 66.9h0M193.7 68.4h0M190.1 75.4h0M192.4 64.4h0M190.0 61.0h0M192.1 75.2h0M190.7 81.9h0M190.9 61.4h0M191.0 44.3h0M191.9 49.7h0M191.9 54.3h0M194.2 64.8h0M193.9 76.3h0M189.0 65.9h0M192.1 58.5h0M193.5 69.9h0M189.2 84.3h0M191.8 94.0h0M190.5 61.3h0M190.9 42.5h0M189.2 72.0h0M189.7 70.2h0M189.3 64.4h0M189.8 35.5h0M189.4 91.4h0M193.9 54.3h0M192.1 68.4h0M191.6 80.0h0M190.6 87.5h0M194.2 83.5h0M191.1 70.1h0M193.2 68.8h0M190.5 57.9h0M189.6 62.4h0M192.5 82.5h0M190.2 63.6h0M193.8 69.3h0M191.1 52.8h0M191.4 62.4h0M191.1 35.2h0M190.6 99.1h0M207.5 60.0h0M208.7 61.6h0M208.7 73.5h0M207.4 75.3h0M205.4 73.6h0M209.9 58.9h0M208.4 56.2h0M207.9 91.0h0M207.5 78.7h0M206.2 83.6h0M205.2 59.1h0M207.2 61.3h0M209.4 56.9h0M207.3 60.0h0M209.4 73.4h0M206.6 65.4h0M207.7 51.7h0M209.5 72.5h0M205.1 61.2h0M205.6 72.2h0M205.2 59.0h0M207.9 53.2h0M206.7 63.0h0M209.1 41.7h0M207.4 53.9h0M206.8 69.5h0M205.0 77.4h0M207.8 76.1h0M208.1 54.2h0M208.8 59.6h0M209.0 71.9h0M208.9 89.2h0M208.6 88.7h0M217.5 75.0h0M215.2 61.4h0M216.8 68.4h0M215.6 70.4h0M216.0 73.1h0M218.2 65.1h0M213.4 81.7h0M214.2 57.3h0M216.7 63.8h0M217.1 68.3h0M215.7 77.2h0M215.9 79.1h0M213.2 98.0h0M215.0 66.8h0M214.9 79.6h0M216.2 80.6h0M216.5 58.9h0M215.8 63.1h0M214.0 40.8h0M214.9 73.7h0M216.5 54.2h0M217.8 50.6h0M218.2 66.6h0M214.2 66.0h0M214.1 73.5h0M216.2 56.8h0M214.3 79.3h0M212.9 77.0h0M214.5 62.1h0M215.8 60.7h0M217.6 62.7h0M217.8 51.1h0M213.6 75.5h0M214.9 73.8h0M216.1 54.2h0M217.1 57.3h0M217.0 54.4h0M214.0 56.1h0M214.9 70.6h0M214.3 56.7h0M215.2 73.8h0M213.7 59.5h0M215.9 68.4h0M217.9 63.1h0M215.1 67.1h0M214.3 40.7h0M217.7 51.4h0M213.6 53.3h0M214.5 74.5h0M215.7 64.4h0M214.3 68.3h0M217.1 62.4h0M213.6 65.0h0M213.4 56.3h0M214.3 62.7h0M217.8 65.4h0M214.1 75.0h0M214.5 76.8h0M213.1 53.7h0M213.7 83.7h0M216.2 60.3h0M217.0 64.8h0M217.9 79.2h0M215.8 83.3h0M215.5 65.9h0M217.7 74.1h0M214.9 58.9h0M215.8 76.3h0M213.0 61.2h0M217.5 83.6h0M215.7 51.4h0M218.0 74.9h0M216.1 57.4h0M217.9 49.2h0M215.8 76.4h0M215.0 86.9h0M216.6 52.3h0M217.8 73.5h0M213.9 43.7h0M214.8 67.7h0M214.7 55.5h0M212.9 58.2h0M217.6 73.3h0M215.2 67.1h0M218.0 69.1h0M213.2 78.9h0M216.8 55.0h0M218.0 65.5h0M217.0 63.8h0M215.0 70.3h0M217.8 74.8h0M213.8 68.6h0M214.3 55.4h0M215.9 52.0h0M213.5 58.0h0M218.1 44.8h0M215.2 48.2h0M217.3 77.0h0M213.4 64.9h0M213.9 58.7h0M214.0 65.0h0M212.9 62.6h0M213.0 63.7h0M215.4 47.4h0M214.0 52.9h0M217.3 58.9h0M214.9 71.4h0M217.1 77.8h0M215.3 72.2h0M214.7 46.8h0M217.6 61.5h0M216.1 50.5h0M216.1 52.7h0M215.9 65.5h0M216.8 57.0h0M214.9 65.0h0M214.1 85.8h0M213.8 39.2h0M214.9 74.2h0M215.7 66.8h0M215.8 74.6h0M215.6 89.2h0M214.0 64.1h0M213.1 67.8h0M213.5 72.6h0M216.2 68.2h0M216.5 56.9h0M214.3 62.2h0M214.1 79.0h0M213.5 39.9h0M213.1 61.2h0M216.5 71.0h0M214.6 75.0h0M212.9 76.7h0M217.7 61.5h0M217.7 45.0h0M213.3 58.9h0M216.2 60.5h0M217.3 41.3h0M215.1 41.1h0M216.5 108.0h0M225.5 62.7h0M222.5 66.7h0M222.0 56.7h0M224.4 56.7h0M225.5 76.5h0M222.1 71.7h0M226.0 83.4h0M222.6 54.5h0M226.1 88.9h0M223.5 75.0h0M223.2 79.2h0M222.4 71.2h0M221.7 81.2h0M221.4 63.5h0M225.3 91.8h0M224.5 85.9h0M221.5 48.9h0M222.8 72.3h0M222.1 106.8h0M225.9 71.4h0M223.5 75.4h0M222.1 105.4h0M240.0 31.6h0M241.8 37.5h0M237.2 53.7h0M238.5 53.8h0M237.0 47.2h0M238.4 30.9h0M241.1 42.7h0M241.9 47.6h0M242.1 42.1h0M241.6 44.6h0M236.9 27.0h0M236.8 66.1h0M239.9 39.8h0M239.2 57.3h0M242.0 48.6h0M241.1 60.9h0M238.6 21.0h0M240.7 36.1h0M240.7 59.9h0M237.7 46.0h0M240.4 40.9h0M238.0 30.4h0M238.7 59.3h0M241.1 33.8h0M240.5 62.2h0M238.9 46.0h0M240.3 48.2h0M241.4 57.8h0M241.3 48.7h0M237.6 47.7h0M237.4 44.1h0M239.8 49.9h0M241.6 46.5h0M240.0 58.4h0M238.0 58.2h0M236.9 45.0h0M241.4 42.7h0M241.4 50.5h0M240.6 44.9h0M237.6 49.7h0M241.7 65.4h0M239.6 74.6h0M239.5 72.2h0M239.0 47.2h0M239.7 61.3h0M238.6 38.3h0M242.2 31.9h0M239.2 74.8h0M239.7 73.6h0M238.7 35.8h0M238.1 57.6h0M239.8 49.5h0M239.6 52.8h0M239.0 51.0h0M241.5 53.3h0M239.1 74.5h0M237.9 39.6h0M238.2 62.2h0M240.1 55.9h0M241.0 48.2h0M240.1 46.0h0M241.3 58.1h0M240.2 55.8h0M241.3 68.5h0M238.9 38.8h0M241.4 47.8h0M238.1 59.3h0M237.3 48.0h0M239.4 35.9h0M238.1 20.3h0M238.2 44.3h0M238.3 72.3h0M238.0 67.6h0M238.9 39.2h0M237.7 51.4h0M240.2 63.0h0M239.5 47.7h0M239.6 65.2h0M238.8 41.4h0M241.1 50.9h0M238.2 30.4h0M238.9 47.1h0M241.4 44.7h0M239.1 68.6h0M238.2 35.8h0M240.7 54.4h0M241.9 57.7h0M238.7 59.8h0M241.3 81.3h0M239.0 35.4h0M237.7 68.6h0M239.0 78.1h0M237.0 48.7h0M237.1 55.8h0M240.3 33.9h0M239.4 44.5h0M239.9 33.5h0M237.5 45.6h0M239.3 67.7h0M239.9 50.8h0M237.2 70.6h0M239.0 58.1h0M239.1 86.5h0M237.6 72.7h0M238.8 59.9h0M237.5 50.0h0M242.1 42.3h0M240.5 52.7h0M237.6 44.6h0M238.4 28.1h0M241.8 64.1h0M239.7 32.7h0M240.6 38.3h0M238.1 42.3h0M238.0 55.9h0M240.3 71.0h0M239.0 63.2h0M237.3 46.7h0M237.0 60.6h0M240.1 60.7h0M239.1 56.6h0M237.6 44.5h0M238.6 63.8h0M237.8 60.9h0M239.5 65.0h0M239.2 67.8h0M240.5 60.9h0M237.2 63.5h0M239.3 37.0h0M238.1 59.7h0M238.0 61.0h0M239.3 57.4h0M241.4 32.6h0M238.0 22.1h0M241.8 44.9h0M241.9 83.3h0M238.2 26.2h0M242.1 46.6h0M239.4 33.0h0M241.6 47.4h0M239.5 51.3h0M241.5 38.3h0M241.7 61.8h0M241.1 36.0h0M240.5 36.4h0M241.1 72.5h0M238.8 39.9h0M241.4 63.5h0M238.2 57.7h0M236.8 50.8h0M240.0 55.7h0M237.2 53.1h0M239.1 57.7h0M238.0 78.0h0M240.6 64.3h0M238.3 48.4h0M241.7 49.4h0M237.3 63.4h0M240.6 36.2h0M237.6 37.1h0M238.3 49.1h0M237.7 61.1h0M240.2 26.5h0M238.4 61.4h0M240.3 48.1h0M237.0 49.7h0M237.8 55.7h0M240.4 42.0h0M241.7 63.7h0M240.5 73.7h0M241.8 49.4h0M238.1 68.9h0M237.4 30.7h0M238.4 46.2h0M242.1 59.8h0M241.2 40.1h0M237.1 22.1h0M241.4 78.6h0M253.3 53.3h0M257.6 79.2h0M255.3 74.5h0M255.6 54.5h0M253.1 105.8h0M253.7 52.4h0M257.5 62.9h0M256.8 52.8h0M254.7 51.6h0M255.9 82.0h0M254.6 64.1h0M255.1 93.8h0M256.1 96.5h0M256.2 70.4h0M256.3 73.8h0M254.7 59.8h0M257.7 96.4h0M254.6 71.3h0M257.5 75.5h0M256.4 52.8h0M253.4 79.8h0M253.9 68.1h0M255.6 81.9h0M253.9 72.8h0M258.0 62.0h0M253.3 83.0h0M253.2 88.0h0M258.0 89.5h0M252.7 88.7h0M257.5 67.5h0M254.5 69.7h0M257.7 70.6h0M254.1 71.5h0M254.3 61.7h0M252.7 90.3h0M253.6 79.8h0M256.7 76.6h0M254.4 62.7h0M253.8 88.3h0M257.9 69.8h0M256.8 70.5h0M257.4 61.8h0M253.7 51.3h0M254.9 52.2h0M253.8 68.3h0M254.1 57.6h0M254.8 92.6h0M257.9 72.7h0M253.7 69.1h0M258.0 69.7h0M253.8 78.4h0M253.2 65.8h0M254.2 80.2h0M256.8 97.5h0M253.4 63.6h0M253.1 60.0h0M257.6 52.8h0M255.5 42.3h0M255.2 58.5h0M255.1 62.2h0M256.7 70.0h0M253.1 78.9h0M256.8 67.0h0M256.9 78.7h0M255.3 63.1h0M257.6 81.3h0M256.6 73.7h0M257.9 75.5h0M258.0 96.3h0M255.7 94.7h0M255.8 58.0h0M257.6 60.0h0M255.7 76.9h0M253.3 78.9h0M257.2 78.0h0M255.4 64.2h0M255.8 65.1h0M256.3 83.7h0M253.8 66.9h0M253.8 79.8h0M253.7 80.4h0M256.5 59.7h0M254.9 73.2h0M256.7 90.9h0M254.7 71.4h0M252.8 40.9h0M257.2 64.4h0M256.5 82.3h0M253.5 77.9h0M253.6 94.8h0M252.8 63.2h0M257.5 78.6h0M257.3 89.2h0M254.3 68.2h0M257.3 69.7h0M253.5 102.7h0M256.3 41.6h0M257.7 27.0h0M269.9 64.9h0M273.4 76.0h0M272.6 49.5h0M268.7 76.2h0M271.1 56.8h0M269.8 67.0h0M271.3 78.7h0M272.7 51.5h0M268.9 55.2h0M270.7 37.6h0M270.3 49.7h0M270.6 68.8h0M273.5 40.8h0M270.9 81.2h0M269.4 58.3h0M269.0 48.2h0M272.3 64.9h0M270.9 38.9h0M270.9 57.9h0M270.5 49.0h0M271.2 46.1h0M273.2 57.8h0M270.3 40.6h0M270.6 65.5h0M273.3 68.6h0M268.8 42.1h0M271.3 58.7h0M270.7 59.2h0M273.6 89.6h0M272.6 36.1h0M269.2 52.3h0M271.2 87.1h0M269.7 71.6h0M274.0 53.8h0M271.4 45.8h0M270.3 63.0h0M270.7 37.2h0M274.0 75.4h0M271.7 73.9h0M271.9 54.6h0M272.2 72.7h0M272.2 58.0h0M271.7 58.8h0M268.6 59.7h0M269.7 61.2h0M271.1 66.3h0M273.2 68.9h0M272.4 63.8h0M270.3 57.3h0M268.9 73.9h0M273.9 70.5h0M270.5 40.5h0M273.0 64.1h0M270.1 48.8h0M271.3 54.7h0M269.7 57.4h0M272.3 33.5h0M269.6 82.8h0M278.6 49.6h0M282.0 85.6h0M276.6 91.5h0M278.2 101.5h0M278.6 75.0h0M280.2 57.3h0M278.0 64.7h0M280.2 67.8h0M278.8 52.0h0M281.9 71.1h0M281.2 89.4h0M278.9 48.5h0M278.1 47.8h0M281.7 82.1h0M280.2 78.3h0M279.7 66.9h0M279.8 68.8h0M281.8 65.6h0M279.0 49.8h0M278.5 56.0h0M281.8 65.7h0M276.7 53.9h0M276.8 64.4h0M281.6 68.1h0M280.4 70.1h0M281.6 42.6h0M281.1 65.2h0M277.3 80.5h0M278.4 71.1h0M281.0 48.5h0M279.4 75.8h0M277.5 83.7h0M279.4 55.2h0M276.7 81.2h0M280.6 76.5h0M278.4 82.8h0M277.1 61.4h0M279.7 95.4h0M279.4 69.5h0M280.2 102.3h0M277.0 60.2h0M277.4 63.7h0M281.6 74.2h0M277.1 53.0h0M280.1 67.4h0M281.0 54.6h0M281.8 82.8h0M278.8 86.1h0M279.3 68.6h0M279.1 91.1h0M279.2 79.7h0M280.4 77.1h0M281.3 84.6h0M277.6 63.5h0M277.1 49.0h0M280.3 63.0h0M278.1 68.3h0M281.2 51.1h0M279.4 65.9h0M277.0 43.5h0M276.6 55.0h0M280.7 83.8h0M278.6 76.1h0M278.3 56.7h0M278.7 43.1h0M278.5 56.0h0M280.3 76.9h0M278.8 101.7h0M276.7 48.1h0M276.8 59.8h0M277.4 74.7h0M279.6 80.7h0M277.7 67.1h0M277.7 88.2h0M278.2 74.3h0M278.7 77.2h0M281.7 48.4h0M278.7 85.6h0M280.5 60.4h0M278.6 72.4h0M282.0 83.1h0M279.2 71.1h0M279.7 58.8h0M278.1 89.9h0M277.6 49.9h0M278.5 52.3h0M279.4 50.4h0M278.7 79.0h0M281.3 68.9h0M277.9 67.2h0M280.3 85.8h0M281.4 85.4h0M281.7 64.5h0M278.3 94.1h0M280.3 60.8h0M279.7 50.4h0M281.7 78.1h0M278.5 67.2h0M277.8 74.9h0M280.0 63.1h0M281.3 96.8h0M276.7 51.9h0M276.6 63.4h0M281.3 74.4h0M277.1 94.2h0M280.9 96.9h0M279.0 55.8h0M278.3 61.1h0M278.6 75.3h0M279.3 65.7h0M278.9 58.2h0M278.5 70.0h0M281.5 74.7h0M277.3 55.1h0M280.7 65.7h0M278.8 90.0h0M278.8 73.7h0M279.0 73.5h0M279.6 81.9h0M278.3 50.8h0M277.6 68.4h0M277.2 67.3h0M281.5 61.9h0M277.4 90.8h0M280.7 77.1h0M279.0 56.2h0M277.4 72.8h0M281.9 82.8h0M280.3 101.5h0M276.6 57.2h0M279.5 89.1h0M279.5 84.9h0M281.6 57.3h0M280.5 72.6h0M280.3 91.6h0M280.2 88.1h0M277.4 51.2h0M279.8 91.2h0M280.1 99.7h0M277.8 64.8h0M281.3 59.6h0M279.8 62.7h0M280.8 89.8h0M277.7 75.2h0M281.8 53.0h0M279.2 72.2h0M278.7 101.8h0M277.6 78.6h0M279.4 69.0h0M280.7 73.7h0M281.6 63.3h0M279.1 69.7h0M281.7 73.5h0M276.9 86.3h0M276.9 81.2h0M276.8 86.0h0M280.5 49.9h0M278.3 52.6h0M279.9 63.8h0M279.3 74.5h0M280.0 68.2h0M279.3 71.1h0M279.8 48.5h0M279.3 80.2h0M277.2 41.7h0M279.5 79.2h0M276.7 63.0h0M281.8 75.0h0M280.2 63.2h0M279.2 71.7h0M277.8 40.2h0M277.9 101.5h0M287.1 95.6h0M286.1 47.6h0M284.8 62.1h0M287.8 77.0h0M288.8 54.5h0M284.9 33.0h0M285.5 66.7h0M289.6 100.0h0M285.9 81.0h0M286.4 45.2h0M288.0 48.0h0M286.3 62.3h0M287.8 45.2h0M286.5 73.4h0M285.7 97.8h0M286.4 90.8h0M287.6 80.6h0M288.1 77.4h0M285.1 58.3h0M287.1 43.4h0M286.0 42.4h0M284.7 106.8h0M286.2 117.9h0M288.3 73.2h0M287.5 94.4h0M288.5 58.5h0M289.0 71.6h0M284.6 54.9h0M287.0 68.3h0M289.4 94.8h0M288.6 36.6h0M288.1 75.3h0M287.5 56.4h0M285.8 77.0h0M286.9 68.0h0M286.2 72.0h0M287.4 88.2h0M285.5 99.0h0M284.9 68.5h0M287.8 64.5h0M287.7 72.9h0M289.8 78.3h0M286.3 77.5h0M288.0 67.7h0M286.6 102.0h0M285.6 94.1h0M286.7 71.5h0M284.7 112.8h0M287.3 58.2h0M287.5 38.6h0M288.0 78.1h0M286.5 96.3h0M286.9 90.3h0M288.6 57.1h0M285.5 68.8h0M284.9 47.7h0M287.5 48.0h0M284.9 112.8h0M289.1 75.1h0M289.3 96.7h0M285.6 54.0h0M288.1 64.8h0M287.9 50.4h0M285.4 100.2h0M288.8 57.3h0M286.4 85.3h0M285.3 74.3h0M288.1 89.1h0M285.8 88.5h0M288.3 83.2h0M285.5 58.6h0M285.3 71.5h0M286.9 89.8h0M285.1 63.1h0M286.4 61.8h0M286.8 57.5h0M285.4 103.0h0M284.9 112.2h0M287.7 63.6h0M287.3 63.3h0M289.0 89.5h0M287.7 106.6h0M286.3 92.9h0M285.6 86.1h0M286.8 65.6h0M285.5 78.9h0M284.7 76.2h0M285.7 76.3h0M287.9 66.7h0M287.3 72.0h0M288.4 51.2h0M284.7 66.4h0M287.0 78.2h0M287.5 81.5h0M287.7 81.5h0M286.6 78.7h0M288.2 70.4h0M289.3 77.9h0M286.6 96.3h0M289.8 75.3h0M290.0 82.1h0M286.5 35.2h0M286.7 58.2h0M285.6 64.6h0M289.0 70.8h0M286.8 80.5h0M288.7 55.6h0M289.4 71.2h0M288.6 82.5h0M284.6 68.7h0M285.6 113.5h0M286.5 97.1h0M288.3 33.7h0M286.6 123.9h0M289.2 120.2h0M286.6 83.9h0M285.6 66.2h0M286.4 50.3h0M287.9 62.6h0M289.3 92.7h0M289.2 114.5h0M288.5 82.6h0M289.5 124.3h0M289.5 121.8h0M301.5 61.2h0M302.6 56.5h0M303.1 61.6h0M300.6 79.2h0M305.4 49.2h0M301.9 58.5h0M304.5 80.8h0M301.1 63.4h0M305.5 57.7h0M303.3 35.5h0M304.9 64.7h0M301.1 57.5h0M305.1 69.9h0M300.8 57.3h0M304.3 80.2h0M302.3 56.6h0M302.4 39.0h0M305.4 75.0h0M301.2 58.2h0M300.7 54.3h0M302.3 77.8h0M305.9 59.4h0M304.6 60.2h0M302.5 64.4h0M304.4 72.4h0M303.8 79.9h0M303.1 62.4h0M302.3 64.7h0M301.4 39.9h0M305.3 64.2h0M304.5 45.4h0M303.1 65.8h0M302.5 90.2h0M301.0 61.9h0M304.8 63.8h0M301.6 45.8h0M305.1 78.2h0M304.3 58.5h0M305.5 53.3h0M301.3 40.1h0M305.5 68.9h0M301.9 83.4h0M303.0 46.3h0M301.6 33.1h0M304.2 59.7h0M302.2 58.2h0M301.9 42.9h0M304.1 65.1h0M302.0 40.7h0M305.9 59.1h0M304.6 56.9h0M305.6 62.8h0M303.5 62.2h0M303.9 63.4h0M305.2 45.6h0M305.2 54.5h0M305.6 89.8h0M301.7 62.3h0M302.8 65.3h0M302.8 53.9h0M304.3 52.3h0M303.1 59.4h0M304.5 45.1h0M305.1 70.3h0M303.5 29.1h0M303.4 77.0h0M303.1 47.0h0M302.6 58.0h0M304.5 60.0h0M304.5 60.9h0M304.5 56.3h0M302.2 44.9h0M305.8 69.7h0M305.5 85.1h0M302.8 49.5h0M305.1 63.8h0M300.8 39.6h0M303.4 54.2h0M300.5 84.9h0M302.8 72.6h0M301.7 55.6h0M301.7 55.5h0M305.4 59.1h0M305.5 60.6h0M302.5 65.1h0M304.0 61.2h0M305.1 48.6h0M301.6 59.8h0M305.8 72.7h0M302.9 74.8h0M304.5 70.4h0M304.8 64.0h0M304.9 65.0h0M305.5 54.1h0M300.7 60.0h0M302.9 63.6h0M302.5 48.5h0M305.0 66.6h0M305.2 57.0h0M301.3 70.5h0M305.2 55.9h0M304.0 54.1h0M301.4 46.8h0M302.9 59.0h0M302.7 41.8h0M302.1 43.8h0M301.3 68.9h0M305.5 55.3h0M305.7 43.0h0M304.5 54.2h0M301.1 61.9h0M302.7 57.4h0M303.5 76.6h0M304.9 52.5h0M301.7 57.0h0M302.7 57.3h0M300.7 73.3h0M304.8 63.3h0M303.9 57.0h0M304.1 59.1h0M302.7 91.0h0M304.6 60.1h0M301.6 38.2h0M302.9 60.1h0M305.4 44.4h0M301.3 51.4h0M302.1 35.6h0M305.9 65.9h0M304.0 69.3h0M305.0 51.6h0M302.4 79.2h0M301.1 56.3h0M305.2 65.4h0M301.9 46.0h0M302.9 63.4h0M301.4 39.7h0M302.3 33.9h0M304.0 85.6h0M302.3 67.7h0M303.5 63.1h0M302.9 46.8h0M300.8 50.9h0M305.5 61.7h0M301.7 47.5h0M302.7 62.7h0M302.7 61.1h0M301.8 70.1h0M301.6 76.5h0M305.9 67.2h0M303.5 85.4h0M300.6 82.9h0M304.2 47.2h0M301.3 42.6h0M301.3 68.9h0M301.5 65.1h0M300.6 65.2h0M305.2 40.3h0M304.7 59.2h0M304.8 64.4h0M302.0 53.4h0M304.0 49.9h0M303.2 73.7h0M300.6 60.1h0M301.4 60.9h0M304.2 43.3h0M304.6 62.3h0M303.3 68.1h0M301.5 61.8h0M300.8 82.3h0M301.4 33.2h0M304.3 33.9h0M302.4 21.0h0M317.4 51.2h0M318.4 44.3h0M317.1 70.3h0M321.5 70.6h0M319.3 65.2h0M320.9 51.9h0M317.7 69.7h0M317.6 68.2h0M320.0 60.9h0M321.3 42.6h0M320.4 57.7h0M316.9 45.7h0M321.6 51.7h0M321.3 58.4h0M320.7 67.9h0M316.7 56.6h0M319.3 53.2h0M318.1 83.7h0M320.0 52.4h0M321.2 52.2h0M320.0 32.4h0M317.6 65.2h0M321.5 73.9h0M320.6 49.8h0M316.5 50.6h0M320.9 39.1h0M320.5 56.6h0M320.7 42.6h0M317.2 65.2h0M319.1 61.5h0M320.2 30.6h0M319.8 72.0h0M319.4 67.0h0M317.7 51.7h0M320.0 58.1h0M318.5 75.9h0M320.6 53.2h0M318.9 53.5h0M321.0 48.2h0M317.4 69.3h0M321.2 47.6h0M318.4 66.2h0M316.6 51.8h0M319.1 54.4h0M320.4 72.8h0M316.5 53.8h0M319.9 51.6h0M318.9 35.0h0M318.8 67.3h0M317.4 47.6h0M320.8 46.2h0M320.8 64.5h0M317.9 54.6h0M317.6 56.8h0M320.4 60.2h0M318.1 50.9h0M320.4 49.4h0M318.9 55.5h0M319.1 39.8h0M318.8 59.8h0M320.7 51.7h0M318.9 68.8h0M316.5 64.2h0M317.4 71.0h0M320.2 70.6h0M316.9 47.2h0M318.6 54.9h0M316.6 57.6h0M321.7 59.3h0M321.5 59.1h0M321.6 58.2h0M319.6 50.8h0M319.2 50.7h0M318.3 43.5h0M317.4 64.2h0M319.0 68.8h0M317.7 57.7h0M319.7 56.9h0M317.8 62.9h0M317.9 47.6h0M317.0 48.3h0M320.1 60.0h0M319.1 85.3h0M318.8 63.4h0M318.9 44.7h0M319.4 44.9h0M317.8 40.6h0M317.9 61.8h0M317.7 84.6h0M318.0 59.2h0M318.1 83.9h0M318.5 70.6h0M317.3 42.4h0M319.5 65.9h0M321.2 62.0h0M319.4 67.6h0M317.8 71.9h0M317.1 66.5h0M320.2 73.0h0M321.1 38.8h0M318.2 55.3h0M318.4 68.6h0M320.2 72.9h0M317.6 66.4h0M318.0 78.0h0M317.6 38.4h0M316.9 56.9h0M318.4 66.5h0M317.4 58.0h0M319.9 56.1h0M320.8 51.0h0M317.5 31.4h0M320.5 65.1h0M317.3 60.4h0M321.5 64.2h0M317.9 34.8h0M320.7 62.1h0M319.6 49.2h0M318.3 66.0h0M321.3 67.3h0M320.6 53.5h0M318.9 26.0h0M318.1 82.2h0M318.6 66.0h0M316.5 49.9h0M320.0 55.4h0M316.7 33.1h0M317.5 63.3h0M320.1 31.3h0M318.7 47.2h0M321.5 63.2h0M316.6 68.2h0M318.3 50.0h0M319.4 43.8h0M319.3 59.8h0M320.4 49.0h0M321.3 69.8h0M319.3 50.1h0M318.0 58.8h0M321.7 56.0h0M317.8 78.8h0M317.8 52.3h0M319.1 56.7h0M316.6 58.0h0M318.0 50.1h0M318.1 53.4h0M318.6 41.1h0M317.1 44.9h0M319.4 61.5h0M319.5 54.8h0M317.4 66.5h0M317.7 53.7h0M320.4 53.7h0M320.8 56.8h0M319.6 62.0h0M320.3 66.0h0M321.5 66.5h0M317.0 44.2h0M319.2 71.2h0M319.9 51.6h0M319.8 66.8h0M320.6 61.0h0M319.6 45.4h0M321.0 83.4h0M319.8 64.1h0M317.5 83.9h0M318.8 84.1h0M337.4 66.8h0M335.5 50.7h0M335.5 67.8h0M334.6 71.6h0M332.5 49.3h0M337.1 62.1h0M335.7 35.7h0M335.2 48.5h0M337.4 46.3h0M332.9 41.8h0M337.7 58.4h0M337.2 72.0h0M335.7 74.7h0M333.0 72.7h0M333.2 50.5h0M337.5 65.4h0M337.2 65.5h0M332.6 34.6h0M333.6 63.9h0M337.5 55.7h0M337.7 61.1h0M337.5 58.5h0M333.0 67.6h0M335.3 45.0h0M334.0 53.8h0M333.3 62.1h0M333.1 49.0h0M335.4 75.4h0M337.3 75.1h0M344.3 80.7h0M341.8 69.2h0M342.2 88.9h0M345.6 95.7h0M340.7 81.6h0M345.0 89.0h0M344.1 85.1h0M344.3 49.8h0M342.5 73.3h0M340.5 46.3h0M340.9 75.8h0M345.1 76.5h0M345.0 86.2h0M344.5 73.9h0M345.2 77.7h0M341.5 68.4h0M343.7 63.8h0M345.3 93.7h0M342.0 63.9h0M340.8 71.5h0M341.2 70.7h0M343.9 85.1h0M342.9 114.3h0M342.5 76.3h0M343.2 72.0h0M341.1 71.4h0M343.7 98.9h0M345.6 76.8h0M341.3 67.6h0M343.8 100.0h0M341.1 68.4h0M341.0 93.1h0M341.2 56.7h0M341.9 72.4h0M343.6 73.3h0M344.8 75.6h0M341.1 72.8h0M345.4 74.7h0M344.5 92.3h0M341.3 67.6h0M343.7 79.8h0M342.1 45.0h0M344.8 65.9h0M345.1 66.3h0M341.5 76.7h0M345.2 46.5h0M342.1 87.9h0M341.3 69.4h0M342.5 71.1h0M341.9 61.3h0M342.6 73.7h0M344.6 92.0h0M341.6 83.9h0M344.7 103.1h0M341.2 68.5h0M342.6 82.2h0M343.6 61.4h0M343.6 55.0h0M343.6 65.2h0M342.4 76.5h0M342.7 94.0h0M342.9 82.4h0M341.9 86.0h0M341.1 85.0h0M344.0 58.2h0M345.3 60.5h0M342.8 82.3h0M341.3 86.1h0M340.7 93.2h0M345.7 78.2h0M340.7 70.9h0M340.9 73.7h0M345.1 83.1h0M344.1 78.3h0M341.4 86.3h0M341.9 86.1h0M343.4 69.5h0M340.8 71.8h0M344.3 60.8h0M341.3 65.5h0M342.8 89.7h0M340.6 76.6h0M343.1 57.6h0M345.6 76.6h0M342.3 75.3h0M343.1 70.6h0M344.5 79.4h0M343.3 77.2h0M345.3 65.7h0M343.1 78.4h0M341.9 84.2h0M341.2 85.4h0M342.2 105.7h0M342.9 89.0h0M343.2 66.2h0M342.9 69.3h0M341.0 61.0h0M341.0 78.0h0M344.9 74.9h0M341.5 109.2h0M340.8 108.8h0M351.7 68.7h0M350.2 51.5h0M353.5 63.3h0M352.1 67.5h0M348.9 57.8h0M351.1 69.2h0M348.9 67.3h0M348.5 53.7h0M351.2 79.5h0M348.7 74.5h0M349.1 57.1h0M350.3 75.3h0M353.6 52.8h0M352.6 58.5h0M351.3 74.9h0M352.4 72.9h0M353.6 60.8h0M352.3 74.4h0M352.7 64.3h0M352.7 63.2h0M349.7 75.3h0M350.6 74.4h0M351.5 77.1h0M348.4 62.2h0M348.8 76.6h0M352.3 78.6h0M353.4 49.7h0M352.0 63.6h0M351.3 57.5h0M349.3 67.1h0M350.7 60.4h0M351.8 61.8h0M349.3 70.0h0M352.3 62.2h0M350.2 56.5h0M351.6 74.8h0M353.4 51.1h0M348.4 80.9h0M352.1 84.8h0M349.8 61.4h0M351.2 53.9h0M352.9 55.7h0M348.8 80.0h0M349.2 60.1h0M351.0 61.6h0M349.0 66.1h0M350.1 61.9h0M351.6 65.2h0M349.1 54.7h0M351.0 76.1h0M352.0 72.6h0M349.6 55.8h0M350.4 60.9h0M351.7 60.6h0M350.9 84.9h0M351.6 59.7h0M353.2 73.9h0M348.8 87.1h0M349.3 85.8h0M351.5 105.0h0M364.9 68.0h0M367.8 54.5h0M365.3 79.4h0M367.1 70.2h0M366.5 61.6h0M369.5 70.6h0M364.9 74.9h0M364.4 76.4h0M365.8 54.5h0M368.6 64.0h0M368.2 84.2h0M367.8 67.8h0M366.9 80.9h0M368.2 46.8h0M366.3 67.8h0M366.4 74.8h0M367.1 49.1h0M368.3 79.4h0M369.5 72.4h0M368.0 71.4h0M368.2 75.4h0M366.5 65.3h0M365.5 83.7h0M366.1 80.0h0M364.5 84.9h0M367.9 53.5h0M369.5 70.1h0M365.8 62.6h0M366.2 82.4h0M369.4 66.7h0M368.2 88.8h0M368.8 49.7h0M369.6 65.6h0M367.5 75.9h0M365.9 80.3h0M365.7 57.4h0M367.1 52.5h0M369.1 57.7h0M367.6 80.4h0M364.9 62.8h0M369.1 68.4h0M366.3 67.8h0M364.7 65.7h0M367.0 69.8h0M367.9 66.6h0M366.6 90.2h0M369.4 57.7h0M368.8 99.2h0M368.5 86.3h0M368.5 56.4h0M364.9 59.1h0M366.2 68.5h0M369.6 62.1h0M369.6 46.5h0M366.8 48.1h0M364.8 73.9h0M364.9 80.9h0M367.4 71.0h0M369.6 95.3h0M368.0 96.8h0M385.2 53.4h0M383.9 58.0h0M381.5 66.6h0M381.0 88.9h0M381.7 57.9h0M382.0 58.9h0M382.5 58.2h0M384.0 51.8h0M382.4 49.0h0M380.2 45.6h0M385.0 66.9h0M380.9 50.1h0M385.5 50.3h0M382.7 78.2h0M384.1 61.6h0M383.8 56.1h0M380.2 58.4h0M382.4 66.5h0M383.0 55.4h0M383.3 64.6h0M383.2 53.9h0M384.3 54.4h0M381.7 73.1h0M382.2 53.7h0M381.6 54.0h0M384.1 62.6h0M381.6 78.3h0M383.3 62.8h0M381.9 34.2h0M381.1 52.4h0M383.4 63.3h0M380.8 53.4h0M384.6 73.6h0M383.9 63.9h0M384.4 40.4h0M381.3 66.2h0M384.5 55.7h0M384.9 53.9h0M385.1 84.2h0M384.1 59.1h0M383.2 75.1h0M383.3 64.5h0M381.4 65.9h0M382.8 73.6h0M381.3 60.9h0M382.2 60.0h0M382.0 84.3h0M382.8 80.8h0M381.0 53.6h0M381.5 71.5h0M382.9 56.3h0M381.0 52.6h0M384.1 56.8h0M380.9 83.3h0M384.9 64.5h0M384.2 70.8h0M382.8 49.2h0M383.7 86.7h0M385.6 82.2h0M380.7 66.2h0M384.3 52.8h0M383.1 50.1h0M385.1 80.2h0M380.7 55.2h0M385.2 46.9h0M383.0 64.7h0M384.1 79.7h0M384.9 59.0h0M380.6 61.6h0M383.3 74.3h0M380.7 57.5h0M381.2 71.4h0M383.7 62.2h0M381.6 54.7h0M384.5 61.5h0M384.1 55.0h0M385.4 60.3h0M381.5 68.3h0M380.9 55.1h0M385.3 88.5h0M383.8 66.9h0M382.8 67.7h0M385.1 78.3h0M382.0 81.4h0M385.4 43.8h0M382.7 70.0h0M382.8 68.3h0M385.1 52.7h0M385.6 79.3h0M383.9 74.9h0M380.7 82.4h0M384.9 49.3h0M383.4 76.3h0M380.2 67.3h0M385.3 80.5h0M380.4 68.0h0M380.6 60.0h0M380.2 79.1h0M382.9 83.2h0M384.9 56.0h0M383.9 62.3h0M384.2 69.5h0M385.3 48.9h0M383.0 75.1h0M383.5 54.4h0M382.6 84.8h0M380.7 69.6h0M385.4 78.2h0M382.9 39.9h0M380.9 83.3h0M383.0 51.8h0M383.7 64.3h0M383.0 76.8h0M382.0 81.3h0M385.1 87.3h0M380.3 62.2h0M380.8 74.9h0M380.9 73.6h0M383.2 73.7h0M385.5 57.7h0M381.9 74.8h0M381.4 70.7h0M384.8 57.2h0M381.8 49.4h0M381.4 75.7h0M384.8 85.8h0M383.6 64.4h0M382.3 73.1h0M382.2 79.8h0M384.6 66.9h0M385.3 72.5h0M383.8 62.1h0M382.0 64.6h0M383.7 57.5h0M382.0 59.2h0M380.2 55.2h0M381.9 36.3h0M384.8 66.6h0M384.9 39.6h0M381.2 68.1h0M381.6 81.3h0M381.3 63.7h0M381.6 73.0h0M382.5 77.3h0M382.5 80.2h0M385.3 61.9h0M381.9 63.9h0M381.0 64.1h0M380.3 75.8h0M382.9 67.4h0M380.4 70.5h0M384.3 64.8h0M384.7 62.1h0M381.6 65.7h0M383.5 78.6h0M383.2 72.7h0M381.3 74.2h0M383.8 53.9h0M381.9 74.9h0M382.1 66.9h0M381.4 56.1h0M384.6 50.2h0M384.2 57.8h0M384.4 65.1h0M382.9 89.4h0M385.2 88.3h0M401.2 74.6h0M396.5 49.0h0M396.4 50.2h0M397.3 81.3h0M398.3 79.1h0M397.7 59.7h0M397.2 64.1h0M399.6 68.9h0M398.7 52.3h0M399.4 51.1h0M399.9 55.5h0M401.4 66.8h0M398.6 82.8h0M396.8 47.3h0M400.6 59.6h0M396.2 78.7h0M398.3 77.9h0M399.0 66.5h0M398.4 56.2h0M401.2 57.5h0M397.4 85.9h0M397.1 41.1h0M400.9 80.7h0M400.3 73.9h0M399.3 87.0h0M399.5 73.1h0M400.3 83.9h0M397.6 83.0h0M399.3 90.9h0M400.1 47.6h0M401.4 33.1h0M399.8 46.5h0M400.7 81.0h0M396.2 53.7h0M401.0 69.1h0M396.4 74.9h0M396.5 67.9h0M399.3 95.3h0M396.2 53.2h0M401.3 106.7h0M399.6 65.2h0M400.5 37.2h0M396.5 41.6h0M400.0 36.9h0M396.7 84.2h0M399.9 54.1h0M400.1 32.5h0M396.6 82.7h0M396.2 96.7h0M399.7 91.7h0M399.6 28.8h0M398.8 68.1h0M396.9 56.0h0M396.1 103.3h0M400.4 102.2h0M414.0 73.8h0M416.3 60.5h0M414.3 65.0h0M415.8 90.7h0M416.8 81.4h0M415.7 57.0h0M416.5 66.0h0M417.2 68.9h0M412.4 78.5h0M417.2 59.3h0M415.3 76.6h0M414.6 66.6h0M414.6 65.7h0M414.5 51.9h0M413.3 65.5h0M414.3 68.0h0M413.8 75.4h0M415.3 47.1h0M412.8 82.5h0M415.2 78.3h0M416.9 89.5h0M413.5 58.8h0M414.7 67.8h0M412.2 65.3h0M416.1 63.3h0M412.6 84.0h0M412.8 50.4h0M417.1 61.8h0M412.7 60.6h0M412.3 59.5h0M413.8 49.3h0M412.6 75.4h0M417.1 72.4h0M412.9 81.3h0M412.3 77.5h0M413.1 58.4h0M412.1 83.9h0M413.5 82.6h0M414.6 77.2h0M416.8 94.6h0M417.0 67.6h0M416.9 40.6h0M413.6 56.1h0M412.9 81.3h0M416.5 72.7h0M413.7 72.0h0M415.3 49.3h0M413.8 55.4h0M414.5 57.1h0M413.3 63.7h0M415.9 66.7h0M415.2 62.0h0M413.2 64.6h0M415.5 76.6h0M413.5 82.2h0M416.6 82.9h0M414.2 95.0h0M417.1 72.8h0M415.2 76.7h0M415.2 74.1h0M412.9 44.4h0M412.1 87.1h0M417.3 44.1h0M414.2 81.5h0M413.7 71.2h0M414.3 70.9h0M416.5 92.4h0M414.2 52.9h0M415.4 77.4h0M414.3 58.4h0M414.9 55.8h0M412.5 68.8h0M414.1 71.8h0M417.4 44.9h0M413.3 75.3h0M412.1 94.5h0M415.9 38.6h0M413.2 61.4h0M414.3 53.5h0M415.1 89.3h0M416.1 84.5h0M412.2 64.3h0M417.0 70.2h0M416.5 63.9h0M416.1 58.3h0M412.4 31.8h0M415.3 30.5h0M421.5 67.8h0M422.4 62.1h0M424.5 38.0h0M422.1 68.7h0M422.8 64.4h0M422.5 80.5h0M422.9 62.3h0M421.2 61.3h0M422.4 56.1h0M423.0 85.1h0M420.4 79.9h0M421.6 57.9h0M420.1 73.5h0M420.1 70.4h0M423.3 59.9h0M424.5 71.4h0M424.3 55.0h0M422.3 64.5h0M423.4 75.8h0M421.4 51.8h0M421.5 50.3h0M423.9 47.5h0M422.5 59.3h0M423.4 73.7h0M422.5 54.2h0M423.3 66.2h0M425.2 79.2h0M421.7 43.3h0M423.6 47.9h0M423.9 79.6h0M422.1 78.5h0M425.0 81.0h0M420.3 93.1h0M420.2 85.2h0M437.3 64.8h0M439.4 97.7h0M438.2 75.7h0M436.5 88.9h0M441.3 69.2h0M439.1 106.8h0M436.1 82.4h0M438.8 103.3h0M437.1 101.7h0M441.3 89.8h0M439.4 93.1h0M437.5 73.5h0M441.3 76.5h0M439.8 74.8h0M441.2 105.5h0M437.3 76.3h0M439.7 81.0h0M439.2 83.4h0M439.7 76.1h0M437.2 75.4h0M439.0 76.2h0M439.7 103.2h0M437.0 82.2h0M436.9 53.5h0M440.4 95.2h0M438.9 85.0h0M436.7 68.3h0M437.0 66.6h0M437.1 71.9h0M438.6 85.4h0M438.5 71.0h0M437.7 90.8h0M437.8 84.2h0M439.4 63.0h0M439.9 77.3h0M437.9 65.8h0M438.2 71.0h0M437.3 72.4h0M437.4 91.4h0M440.7 57.5h0M438.9 70.6h0M437.2 72.7h0M440.9 54.4h0M437.7 87.7h0M437.2 84.2h0M440.6 90.9h0M439.0 85.4h0M439.1 47.7h0M437.4 54.9h0M439.5 80.5h0M436.3 67.3h0M438.1 82.0h0M441.2 72.0h0M438.5 58.1h0M440.2 95.2h0M440.1 99.7h0M437.7 88.9h0M438.9 65.0h0M437.1 63.5h0M440.2 65.1h0M439.2 92.3h0M436.4 81.4h0M440.5 84.7h0M438.5 70.2h0M441.3 79.0h0M437.0 72.1h0M440.0 63.9h0M439.9 96.8h0M440.2 103.3h0M440.9 77.8h0M438.4 77.5h0M439.8 69.9h0M441.2 66.7h0M439.5 60.2h0M439.2 62.0h0M439.1 113.1h0M436.3 104.5h0M440.4 69.7h0M438.2 102.4h0M440.8 73.3h0M440.3 61.2h0M436.3 80.9h0M437.5 54.7h0M439.5 91.9h0M437.8 93.8h0M436.7 90.4h0M438.3 82.3h0M436.6 71.5h0M440.3 79.6h0M437.9 48.3h0M440.2 59.2h0M437.5 80.5h0M440.6 68.4h0M436.8 66.1h0M436.5 70.2h0M439.0 51.2h0M438.8 95.8h0M437.5 72.1h0M439.6 81.5h0M439.9 68.8h0M438.0 100.8h0M437.5 86.6h0M436.8 86.9h0M436.1 51.3h0M439.2 62.7h0M440.5 85.6h0M438.6 100.1h0M438.0 94.2h0M437.2 84.8h0M436.0 100.6h0M437.7 82.3h0M438.7 84.8h0M440.4 72.8h0M438.7 75.6h0M441.2 70.9h0M438.0 81.1h0M436.1 59.4h0M439.5 61.5h0M440.4 74.9h0M440.4 73.4h0M440.1 87.2h0M437.4 65.7h0M440.6 83.6h0M439.3 85.1h0M439.0 69.9h0M436.6 83.1h0M436.0 65.6h0M439.1 72.9h0M438.0 76.9h0M440.3 63.9h0M441.1 70.1h0M440.8 69.0h0M438.0 67.8h0M438.9 79.0h0M438.0 73.7h0M436.3 79.6h0M438.8 112.4h0M439.7 109.7h0M453.4 43.9h0M452.2 51.4h0M455.9 38.8h0M452.8 53.7h0M453.8 45.4h0M456.3 49.3h0M453.7 60.4h0M453.1 44.1h0M455.0 46.0h0M455.9 54.9h0M457.0 46.9h0M454.8 42.0h0M453.5 40.2h0M456.9 58.2h0M454.8 48.9h0M452.7 45.3h0M455.7 57.2h0M456.7 42.7h0M454.3 50.2h0M451.9 53.1h0M452.0 47.8h0M453.1 53.8h0M455.2 40.5h0M454.4 62.7h0M454.0 52.9h0M454.3 45.0h0M454.5 57.4h0M455.6 57.6h0M456.9 54.7h0M453.5 45.8h0M453.1 63.6h0M452.1 55.7h0M453.7 66.2h0M455.4 66.7h0M454.9 37.1h0M453.8 48.7h0M454.4 68.9h0M455.9 54.2h0M454.4 49.6h0M455.2 49.0h0M455.6 62.9h0M455.2 51.2h0M456.9 53.4h0M456.4 57.7h0M455.8 50.7h0M454.0 28.1h0M453.0 60.3h0M457.1 61.7h0M457.1 70.3h0M455.3 25.5h0M464.9 47.8h0M463.1 53.4h0M462.0 55.3h0M459.9 70.5h0M461.8 52.8h0M463.6 52.8h0M464.2 63.4h0M463.8 56.0h0M460.7 66.1h0M460.1 57.3h0M460.7 53.4h0M461.2 55.0h0M463.2 58.8h0M463.4 63.8h0M461.7 38.3h0M461.3 66.5h0M460.0 62.0h0M464.5 61.2h0M464.4 55.4h0M461.9 44.0h0M465.0 76.0h0M464.4 57.6h0M462.0 58.4h0M464.3 61.6h0M459.9 45.1h0M464.8 54.9h0M462.0 82.1h0M462.8 68.5h0M464.5 44.0h0M460.8 61.2h0M460.5 71.4h0M462.9 55.8h0M464.4 66.6h0M463.9 60.8h0M462.4 51.3h0M461.2 71.5h0M462.2 74.4h0M459.9 61.8h0M462.4 65.2h0M463.6 57.9h0M461.8 55.4h0M464.9 75.4h0M461.1 47.6h0M460.7 53.7h0M461.9 56.4h0M462.4 66.2h0M463.7 65.0h0M464.2 57.4h0M460.3 87.1h0M463.0 53.5h0M463.2 62.3h0M461.3 47.0h0M464.3 76.5h0M462.2 37.0h0M462.2 60.6h0M462.5 71.1h0M464.9 63.7h0M460.8 58.9h0M463.8 54.2h0M459.9 69.9h0M461.3 54.2h0M461.7 80.4h0M461.3 49.2h0M460.2 58.7h0M463.4 57.0h0M462.7 44.8h0M463.6 73.9h0M462.8 62.1h0M463.3 56.0h0M460.3 53.7h0M461.6 52.0h0M462.1 61.0h0M461.8 65.3h0M465.2 57.4h0M463.6 57.7h0M464.4 72.6h0M460.9 64.2h0M462.8 50.3h0M463.1 46.3h0M462.9 72.6h0M460.0 65.1h0M460.1 57.1h0M464.8 61.8h0M462.0 52.0h0M460.6 47.8h0M462.5 55.9h0M463.8 53.8h0M464.5 50.8h0M461.8 61.2h0M464.2 54.4h0M461.1 68.0h0M463.1 50.5h0M461.8 57.3h0M460.1 57.2h0M461.1 67.7h0M463.6 48.0h0M463.0 55.8h0M461.9 46.5h0M462.5 58.1h0M463.7 45.9h0M461.7 52.0h0M465.2 76.6h0M462.2 54.0h0M461.9 69.1h0M462.7 67.6h0M461.9 47.3h0M463.2 67.0h0M461.2 45.0h0M460.6 67.6h0M464.1 60.5h0M462.0 53.3h0M460.0 76.1h0M460.5 74.4h0M460.4 61.1h0M463.7 59.3h0M463.2 55.8h0M460.7 64.2h0M462.9 61.1h0M460.4 54.9h0M461.3 43.7h0M464.5 53.5h0M462.6 69.9h0M464.3 50.4h0M460.0 69.4h0M460.5 49.0h0M464.4 63.0h0M464.9 70.8h0M462.7 55.1h0M464.0 47.2h0M464.9 66.7h0M464.5 81.7h0M463.0 66.6h0M460.7 70.6h0M463.4 72.1h0M461.8 47.4h0M461.2 71.4h0M460.6 66.2h0M463.4 63.1h0M464.6 46.3h0M462.5 32.0h0M462.7 74.9h0M460.8 62.5h0M461.5 50.5h0M460.9 60.5h0M461.8 53.7h0M462.6 64.2h0M464.5 56.0h0M463.0 64.5h0M460.6 58.9h0M461.4 51.9h0M460.8 58.8h0M464.0 46.9h0M461.4 67.0h0M461.3 58.3h0M460.8 50.1h0M462.8 56.7h0M464.2 61.0h0M461.6 51.9h0M460.9 60.5h0M465.0 48.4h0M462.7 49.4h0M460.2 70.4h0M464.0 61.8h0M464.5 74.2h0M460.9 55.1h0M461.7 82.6h0M462.9 38.8h0M461.9 100.7h0M479.7 38.1h0M479.3 51.2h0M476.3 71.4h0M479.7 46.2h0M476.2 55.9h0M478.0 53.4h0M476.0 65.7h0M475.9 74.9h0M476.1 60.9h0M478.8 54.6h0M479.7 58.4h0M478.7 55.3h0M480.1 54.7h0M476.6 56.8h0M479.1 53.9h0M480.7 48.8h0M476.9 39.3h0M476.6 58.4h0M480.1 48.8h0M480.0 59.4h0M480.3 49.6h0M479.1 77.9h0M480.6 65.5h0M478.5 67.5h0M476.0 54.0h0M477.4 51.6h0M481.1 73.5h0M478.3 48.1h0M477.3 63.8h0M479.7 52.5h0M480.9 45.8h0M478.3 59.0h0M476.3 73.5h0M476.9 70.2h0M479.8 73.5h0M479.8 42.4h0M480.9 49.2h0M478.4 73.5h0M477.2 80.4h0M475.8 33.9h0M488.7 98.1h0M484.1 73.6h0M485.5 57.7h0M487.6 54.5h0M484.9 80.9h0M486.9 57.9h0M484.2 78.3h0M486.2 57.4h0M488.8 74.8h0M487.7 79.4h0M486.6 95.8h0M485.5 75.0h0M484.9 53.9h0M484.8 80.5h0M486.5 66.5h0M484.0 57.2h0M485.0 71.9h0M486.6 60.6h0M487.3 83.2h0M487.9 53.0h0M484.5 72.9h0M484.7 41.2h0M485.1 53.6h0M488.6 58.6h0M487.1 65.5h0M484.1 62.3h0M486.6 80.3h0M486.1 83.1h0M486.3 42.6h0M483.9 58.2h0M486.2 82.0h0M486.7 90.6h0M488.3 83.9h0M484.1 85.3h0M484.4 66.2h0M487.0 61.5h0M486.1 79.5h0M486.3 59.3h0M484.8 74.0h0M488.9 69.1h0M485.2 70.5h0M487.2 78.2h0M488.8 96.5h0M486.5 96.0h0M484.8 73.7h0M486.5 67.1h0M484.7 29.2h0M486.4 113.7h0M488.5 65.7h0M486.3 63.2h0M487.9 65.8h0M486.4 51.6h0M484.7 87.9h0M484.5 66.6h0M487.8 81.7h0M486.3 56.4h0M487.4 74.3h0M487.8 70.7h0M487.5 62.9h0M487.8 83.1h0M485.3 81.4h0M487.9 69.8h0M488.8 81.9h0M484.0 56.0h0M485.3 88.9h0M486.2 61.9h0M483.9 81.2h0M489.0 62.4h0M486.2 57.7h0M484.7 57.5h0M484.6 92.7h0M484.2 80.4h0M488.5 33.4h0M484.4 99.7h0M485.7 71.6h0M484.3 82.2h0M489.1 65.7h0M484.7 54.4h0M488.0 87.9h0M488.2 74.8h0M486.9 89.7h0M486.5 31.4h0M483.9 53.1h0M485.3 58.8h0M487.7 61.1h0M484.7 114.1h0M487.1 58.5h0M485.5 88.9h0M488.4 95.9h0M484.4 37.4h0M486.3 63.3h0M485.3 60.3h0M484.4 48.5h0M485.9 72.0h0M487.2 104.1h0M488.9 68.3h0M488.0 89.8h0M485.1 60.0h0M486.5 85.5h0M485.8 96.9h0M484.7 58.5h0M484.0 49.1h0M485.9 68.4h0M488.9 40.7h0M488.7 74.7h0M487.6 56.8h0M485.7 51.7h0M488.5 89.4h0M486.4 76.8h0M484.2 56.9h0M487.4 92.0h0M484.8 71.8h0M487.1 80.4h0M486.7 64.9h0M485.4 81.4h0M487.3 43.7h0M488.2 86.5h0M489.0 84.6h0M487.9 44.2h0M488.2 82.9h0M488.7 50.6h0M486.3 82.6h0M487.5 88.3h0M487.2 69.2h0M484.5 70.2h0M487.5 71.4h0M488.6 46.4h0M484.2 90.8h0M483.9 83.9h0M484.0 64.1h0M488.9 63.6h0M489.1 66.1h0M484.1 80.2h0M486.9 95.1h0M485.3 51.5h0M487.6 55.9h0M485.2 66.0h0M486.2 70.6h0M488.0 65.7h0M486.2 61.2h0M486.8 78.8h0M489.2 89.1h0M486.4 62.1h0M484.7 51.3h0M487.9 48.5h0M485.5 77.5h0M488.5 47.3h0M486.6 61.1h0M486.7 71.5h0M486.4 47.6h0M486.8 69.8h0M484.5 68.6h0M484.9 78.6h0M488.7 44.1h0M484.1 88.9h0M489.0 51.3h0M488.4 57.1h0M488.4 60.1h0M488.0 77.5h0M487.5 69.6h0M487.8 52.8h0M484.1 91.1h0M487.8 65.9h0M486.4 66.8h0M488.5 111.8h0M488.6 64.6h0M489.1 84.7h0M487.4 82.4h0M485.2 89.2h0M486.0 90.0h0M488.5 42.2h0M486.7 97.2h0M485.9 53.2h0M486.0 104.4h0M488.6 54.5h0M485.2 74.3h0M488.1 27.3h0M487.0 61.9h0M484.3 95.4h0M484.8 50.9h0M484.9 29.6h0M488.7 34.5h0M500.5 50.7h0M501.7 61.8h0M501.1 48.6h0M502.3 50.5h0M501.3 56.6h0M504.7 35.5h0M504.3 50.5h0M500.3 50.2h0M501.8 50.8h0M504.5 54.2h0M500.6 39.5h0M501.2 50.0h0M503.1 50.4h0M502.9 68.3h0M500.1 55.3h0M503.8 62.2h0M504.6 44.4h0M502.4 50.0h0M501.0 35.8h0M511.4 52.3h0M508.2 61.0h0M509.1 74.1h0M507.7 62.4h0M511.3 55.5h0M511.9 54.1h0M508.9 54.4h0M512.1 54.9h0M512.1 71.5h0M511.4 63.4h0M511.5 63.4h0M511.7 66.6h0M509.8 43.8h0M510.5 62.0h0M509.7 56.4h0M509.4 55.4h0M508.1 57.5h0M508.8 53.5h0M511.4 70.0h0M509.9 59.2h0M511.3 66.2h0M510.4 68.7h0M509.4 62.7h0M511.3 52.7h0M509.7 75.7h0M511.6 84.5h0M512.8 40.0h0" stroke="#e82430" stroke-opacity="0.85" stroke-width="1.8" stroke-linecap="round" fill="none"/>
<path d="M30.9 66.3h0M30.0 54.2h0M34.4 65.6h0M31.1 65.3h0M34.4 69.2h0M30.6 47.8h0M32.2 58.1h0M29.6 66.4h0M32.7 65.3h0M32.4 66.7h0M29.9 55.8h0M34.3 67.3h0M31.8 53.9h0M29.9 55.2h0M30.5 49.5h0M29.6 45.0h0M31.6 55.1h0M32.9 49.7h0M31.5 70.0h0M34.2 63.0h0M32.2 56.8h0M31.5 53.9h0M30.5 44.9h0M32.5 74.2h0M29.7 40.8h0M34.3 40.6h0M31.6 104.0h0M39.1 59.1h0M38.3 45.9h0M39.2 81.6h0M39.0 35.1h0M40.6 45.2h0M38.4 57.5h0M40.3 45.8h0M42.9 88.4h0M38.6 63.7h0M38.1 62.0h0M40.6 42.8h0M39.8 58.6h0M39.6 33.6h0M39.1 49.2h0M40.3 46.0h0M38.7 64.8h0M39.7 60.2h0M42.2 79.3h0M37.7 73.4h0M40.1 50.6h0M39.7 60.0h0M42.2 69.3h0M38.2 40.0h0M41.3 54.5h0M41.1 51.9h0M40.5 67.0h0M38.8 61.3h0M39.2 70.0h0M41.0 53.9h0M37.9 57.5h0M39.7 49.6h0M37.6 46.5h0M42.7 55.1h0M40.1 48.1h0M42.8 78.4h0M37.7 58.7h0M39.8 63.1h0M42.6 52.1h0M39.4 54.0h0M38.6 78.5h0M40.3 73.1h0M39.3 61.2h0M38.8 58.7h0M42.7 46.3h0M38.8 52.6h0M42.7 73.3h0M38.7 55.2h0M37.8 60.1h0M42.4 43.2h0M43.0 64.1h0M38.6 72.9h0M37.7 57.9h0M39.6 52.4h0M37.6 54.9h0M42.7 56.6h0M38.7 47.1h0M42.0 76.8h0M40.1 64.2h0M38.6 55.3h0M37.7 63.8h0M41.7 73.6h0M37.9 52.0h0M41.6 66.0h0M39.0 70.6h0M39.0 67.6h0M39.1 63.1h0M42.5 60.3h0M37.7 77.1h0M42.7 62.1h0M38.9 58.1h0M42.6 49.2h0M41.6 75.3h0M40.8 63.1h0M39.5 37.7h0M38.6 55.7h0M37.9 48.6h0M39.3 60.5h0M42.9 56.4h0M38.1 61.5h0M40.0 52.1h0M40.9 67.5h0M42.1 47.7h0M42.1 48.9h0M39.6 67.6h0M38.9 57.5h0M42.3 48.5h0M39.7 57.0h0M38.8 54.0h0M42.9 58.5h0M42.0 36.3h0M37.8 40.2h0M38.6 40.2h0M42.6 73.4h0M40.0 70.6h0M42.7 42.3h0M40.9 42.2h0M38.3 37.3h0M40.8 72.0h0M37.6 48.4h0M38.6 53.2h0M41.9 43.1h0M38.1 50.8h0M41.0 57.5h0M41.3 38.9h0M39.2 65.3h0M40.6 55.0h0M42.2 76.9h0M38.6 46.3h0M37.6 37.3h0M42.0 63.3h0M40.1 77.8h0M40.5 61.5h0M38.0 75.7h0M40.3 53.1h0M40.4 60.1h0M40.2 67.9h0M38.6 56.1h0M42.8 70.5h0M42.6 65.6h0M40.9 50.9h0M41.8 72.7h0M42.1 55.6h0M38.7 68.7h0M39.6 57.2h0M41.5 54.8h0M40.6 66.1h0M42.1 57.1h0M40.5 76.8h0M39.8 54.0h0M41.1 46.9h0M37.7 61.4h0M38.8 62.3h0M40.0 53.2h0M38.1 61.5h0M38.1 83.9h0M37.8 32.3h0M41.5 101.0h0M37.9 111.0h0M55.5 41.4h0M56.6 51.6h0M56.1 74.0h0M58.9 70.3h0M57.9 46.9h0M58.8 44.0h0M54.1 78.4h0M57.9 74.3h0M55.8 51.6h0M56.3 57.0h0M54.5 43.8h0M55.4 53.1h0M53.7 57.9h0M55.2 61.5h0M55.1 43.0h0M57.1 73.2h0M56.5 65.3h0M56.4 61.4h0M55.7 59.5h0M57.6 58.8h0M54.4 46.7h0M56.8 66.9h0M53.6 60.0h0M57.4 54.6h0M54.9 57.3h0M56.6 47.9h0M55.6 45.8h0M56.7 39.8h0M56.9 55.8h0M58.5 43.4h0M58.4 68.2h0M56.8 61.3h0M58.6 63.9h0M57.4 59.6h0M58.2 67.8h0M54.8 72.3h0M54.5 47.6h0M56.5 32.6h0M55.6 66.4h0M54.2 76.9h0M54.8 45.4h0M54.8 64.9h0M55.3 50.7h0M54.0 55.2h0M54.2 65.1h0M57.9 41.5h0M57.4 53.5h0M54.6 53.4h0M54.7 67.0h0M57.3 59.3h0M56.7 44.5h0M56.8 52.6h0M54.2 66.2h0M55.0 54.2h0M57.1 62.4h0M55.6 62.7h0M58.1 63.5h0M54.1 41.8h0M56.2 73.6h0M55.2 67.2h0M57.4 56.6h0M58.4 45.7h0M58.2 33.4h0M53.7 54.9h0M55.4 58.6h0M57.3 42.6h0M55.4 75.9h0M54.1 57.5h0M57.4 58.1h0M54.4 57.8h0M55.6 45.8h0M57.0 48.8h0M56.6 61.1h0M55.9 57.1h0M53.5 61.4h0M55.1 40.4h0M56.8 36.9h0M54.1 70.1h0M58.4 54.8h0M57.3 56.9h0M58.0 42.5h0M58.6 36.8h0M57.2 53.7h0M56.9 42.1h0M57.3 37.7h0M58.5 54.0h0M53.7 57.6h0M54.9 74.9h0M56.9 62.1h0M53.8 70.0h0M54.6 69.3h0M57.3 51.4h0M54.8 31.0h0M58.6 38.1h0M58.3 53.3h0M55.3 68.6h0M57.6 61.7h0M56.7 56.9h0M58.0 47.2h0M55.5 30.6h0M55.0 56.9h0M55.9 76.2h0M56.0 49.7h0M53.9 41.3h0M57.6 53.2h0M58.8 67.2h0M56.1 57.0h0M56.4 61.7h0M57.0 64.0h0M57.0 39.7h0M54.3 60.3h0M58.0 55.1h0M56.9 51.5h0M54.4 50.2h0M57.5 42.4h0M58.0 55.3h0M56.5 52.2h0M54.8 50.8h0M56.9 66.1h0M58.4 58.2h0M56.2 53.4h0M56.6 65.6h0M54.4 48.6h0M54.0 45.6h0M54.5 60.7h0M58.0 46.8h0M55.8 68.0h0M56.3 39.9h0M55.9 52.8h0M58.4 73.2h0M55.9 55.7h0M54.6 69.8h0M56.0 55.3h0M58.2 67.3h0M56.9 45.4h0M57.2 78.2h0M56.6 69.4h0M57.0 50.5h0M58.3 58.8h0M57.2 51.7h0M57.1 62.5h0M55.8 46.0h0M55.6 58.9h0M58.3 46.5h0M58.2 73.8h0M56.4 50.2h0M56.5 56.3h0M54.1 46.6h0M53.9 66.0h0M55.9 61.9h0M57.4 41.9h0M58.9 55.9h0M58.0 40.5h0M58.7 47.1h0M54.2 72.3h0M54.8 54.8h0M56.7 66.9h0M57.3 55.3h0M56.9 75.8h0M58.5 49.2h0M57.5 42.4h0M57.2 48.7h0M55.5 35.6h0M57.4 78.9h0M54.0 55.0h0M54.1 54.2h0M54.9 52.8h0M58.0 48.1h0M53.6 52.7h0M54.5 55.9h0M57.2 67.1h0M58.2 45.8h0M57.9 44.2h0M55.4 43.6h0M58.2 61.2h0M54.5 62.4h0M55.6 77.3h0M58.1 47.9h0M56.8 60.5h0M54.7 67.3h0M53.7 41.3h0M56.0 55.4h0M55.4 73.2h0M55.3 44.6h0M58.8 44.7h0M57.1 44.0h0M56.2 71.0h0M56.4 63.8h0M53.7 54.5h0M58.2 55.9h0M56.9 76.2h0M57.8 76.7h0M57.2 59.9h0M57.5 41.6h0M55.4 53.6h0M53.8 53.2h0M58.8 59.1h0M54.8 38.9h0M54.2 56.1h0M56.0 46.3h0M55.1 45.4h0M55.1 50.9h0M56.5 46.5h0M58.5 62.9h0M54.5 60.4h0M55.4 61.1h0M58.2 62.1h0M58.4 36.4h0M53.6 52.4h0M57.3 49.4h0M54.6 74.5h0M57.0 57.7h0M58.7 37.9h0M57.9 54.7h0M54.2 67.6h0M58.2 80.4h0M54.7 66.6h0M57.0 64.8h0M55.3 57.0h0M53.7 73.5h0M56.2 59.5h0M56.0 35.6h0M56.6 64.2h0M56.8 72.8h0M54.0 43.4h0M57.6 52.8h0M55.8 53.5h0M56.5 52.2h0M55.3 68.5h0M57.3 42.7h0M55.2 70.6h0M56.0 60.1h0M58.6 55.5h0M56.1 55.5h0M55.5 70.1h0M57.6 66.0h0M54.2 58.9h0M56.5 71.7h0M55.5 47.3h0M57.5 72.0h0M53.7 60.7h0M58.8 41.1h0M55.4 52.1h0M55.3 73.9h0M57.5 56.6h0M55.7 41.4h0M56.6 44.0h0M58.6 52.6h0M54.9 56.6h0M54.8 73.9h0M57.0 72.4h0M54.7 52.8h0M58.2 66.8h0M57.6 68.3h0M55.3 58.5h0M54.4 64.7h0M56.0 47.2h0M54.6 51.8h0M57.7 46.9h0M58.2 45.0h0M53.6 59.4h0M53.6 74.9h0M57.5 54.8h0M57.2 51.0h0M58.5 80.0h0M58.8 46.4h0M57.8 53.6h0M56.2 71.2h0M54.1 70.4h0M55.2 60.4h0M56.1 61.9h0M54.5 82.0h0M57.5 47.9h0M55.4 59.2h0M55.4 79.9h0M58.3 55.7h0M54.5 60.1h0M53.7 62.8h0M56.5 58.6h0M57.2 65.7h0M56.5 61.5h0M58.2 35.7h0M55.2 75.0h0M55.6 67.6h0M54.3 45.1h0M56.8 46.4h0M56.8 32.7h0M54.6 64.7h0M57.7 63.0h0M57.3 56.3h0M56.5 50.9h0M53.5 35.3h0M56.3 54.1h0M54.8 52.7h0M55.5 42.5h0M56.3 54.1h0M55.2 58.3h0M54.7 62.5h0M58.4 72.4h0M56.3 59.2h0M54.3 38.3h0M56.3 71.7h0M54.8 67.1h0M56.0 57.0h0M58.3 67.6h0M55.6 51.8h0M54.2 68.6h0M54.1 52.4h0M56.3 45.0h0M55.6 49.4h0M55.9 50.4h0M57.6 54.4h0M55.5 59.3h0M55.5 53.7h0M53.6 41.9h0M53.8 68.2h0M55.0 54.5h0M58.0 81.6h0M58.1 42.2h0M57.8 40.3h0M53.7 55.2h0M57.4 72.0h0M57.0 56.9h0M55.6 69.0h0M54.5 53.3h0M55.5 40.1h0M53.9 42.4h0M56.3 62.0h0M57.6 48.7h0M56.0 62.2h0M55.7 44.9h0M55.9 50.4h0M58.0 41.1h0M55.7 59.0h0M56.5 45.1h0M54.1 56.0h0M57.9 58.1h0M57.6 57.5h0M57.2 58.0h0M53.8 67.0h0M56.7 47.1h0M58.2 51.2h0M56.3 56.5h0M55.0 66.6h0M54.9 70.2h0M56.3 54.8h0M55.1 36.0h0M58.1 31.0h0M53.8 77.6h0M56.0 49.7h0M55.5 38.6h0M58.5 45.1h0M55.2 38.3h0M56.6 68.6h0M57.8 47.7h0M57.8 45.5h0M58.6 54.7h0M53.8 49.7h0M53.8 46.6h0M56.7 31.0h0M56.5 58.5h0M57.1 61.6h0M54.6 83.9h0M58.5 85.7h0M54.0 19.0h0M55.7 94.0h0M72.9 48.3h0M73.2 60.4h0M70.9 44.1h0M73.9 67.8h0M70.6 59.3h0M74.7 52.5h0M73.2 36.2h0M71.2 64.1h0M70.2 63.2h0M71.8 49.3h0M69.7 68.4h0M70.7 61.6h0M71.2 67.6h0M73.7 44.7h0M73.8 69.3h0M73.6 63.1h0M71.7 68.8h0M73.4 37.9h0M72.2 47.8h0M74.1 76.5h0M74.6 41.7h0M69.8 70.3h0M71.9 52.3h0M71.9 79.4h0M71.6 67.9h0M73.4 40.2h0M70.5 48.0h0M70.9 43.6h0M74.7 53.2h0M74.4 33.3h0M69.8 37.9h0M74.1 35.8h0M70.9 45.0h0M72.9 60.6h0M69.7 48.3h0M74.3 52.1h0M70.0 49.2h0M73.6 62.9h0M74.4 67.0h0M73.9 46.3h0M72.5 53.4h0M70.8 34.0h0M73.3 39.9h0M71.8 56.1h0M73.8 49.1h0M69.5 38.3h0M71.5 53.7h0M73.7 56.0h0M74.2 41.9h0M71.2 54.6h0M72.1 61.8h0M70.8 37.1h0M70.0 62.0h0M70.5 43.4h0M72.9 43.8h0M69.8 49.1h0M72.0 45.2h0M73.3 41.4h0M73.2 33.2h0M74.3 66.7h0M70.7 55.2h0M71.6 78.8h0M72.9 80.9h0M69.9 16.0h0M79.8 47.0h0M79.0 58.8h0M77.9 71.0h0M80.9 63.8h0M81.9 59.0h0M78.9 71.8h0M77.5 72.9h0M82.4 70.2h0M81.6 44.4h0M80.3 41.4h0M79.1 57.3h0M80.3 60.2h0M80.3 55.3h0M82.5 57.4h0M81.1 42.7h0M78.6 53.8h0M77.5 59.4h0M82.8 55.0h0M81.1 39.7h0M81.5 52.2h0M77.6 52.3h0M78.8 57.6h0M80.6 59.6h0M81.2 47.4h0M77.8 64.5h0M78.2 55.7h0M82.6 84.1h0M81.6 39.8h0M89.6 60.6h0M89.4 50.5h0M90.1 50.0h0M87.4 57.0h0M86.5 47.7h0M89.3 50.7h0M88.1 56.0h0M90.5 46.6h0M89.7 48.9h0M88.4 67.6h0M87.3 42.4h0M85.5 79.6h0M90.2 78.7h0M90.4 69.6h0M88.8 67.3h0M88.6 55.7h0M87.6 67.3h0M85.9 58.5h0M89.2 63.3h0M86.8 58.2h0M88.6 35.3h0M88.5 49.8h0M89.2 60.4h0M89.9 47.9h0M90.5 68.7h0M85.8 46.6h0M86.1 49.4h0M90.8 54.9h0M86.7 32.4h0M87.6 69.7h0M86.3 63.1h0M86.4 63.9h0M86.4 49.2h0M90.6 45.2h0M87.9 73.0h0M86.2 69.6h0M89.2 57.2h0M87.3 69.3h0M89.1 40.2h0M90.0 41.3h0M90.0 73.1h0M88.8 62.9h0M87.7 51.0h0M89.0 59.7h0M86.2 58.8h0M89.6 62.9h0M87.2 40.9h0M87.5 85.5h0M90.2 69.5h0M87.1 49.2h0M87.3 48.3h0M88.2 60.2h0M88.0 66.9h0M88.7 67.3h0M87.4 75.3h0M90.3 54.8h0M87.2 48.1h0M89.1 78.3h0M85.7 60.9h0M86.6 58.7h0M89.3 63.0h0M90.5 33.7h0M85.9 34.6h0M86.4 67.3h0M87.5 64.2h0M89.4 53.0h0M85.6 50.3h0M85.5 68.6h0M86.0 43.3h0M88.7 46.5h0M87.3 30.4h0M87.5 78.9h0M90.6 52.2h0M86.3 56.5h0M87.3 52.7h0M88.2 45.6h0M87.7 35.9h0M87.8 47.0h0M87.2 49.3h0M90.0 56.9h0M86.1 53.3h0M89.1 50.2h0M89.6 44.6h0M89.7 61.8h0M88.5 62.0h0M90.6 62.7h0M88.7 70.7h0M86.8 70.7h0M89.6 53.2h0M89.1 49.0h0M86.8 58.0h0M90.0 41.8h0M90.4 75.4h0M89.5 62.8h0M88.5 35.1h0M87.7 70.7h0M89.6 45.8h0M86.0 64.4h0M89.3 55.7h0M88.9 57.9h0M89.3 74.5h0M86.9 47.8h0M90.5 67.1h0M88.5 60.4h0M87.8 60.1h0M90.5 53.7h0M89.4 44.3h0M85.7 69.8h0M89.4 57.8h0M87.4 53.7h0M85.6 34.2h0M90.0 62.5h0M87.9 34.9h0M89.3 47.2h0M86.4 61.7h0M86.0 49.4h0M87.2 68.5h0M87.9 75.0h0M90.3 65.6h0M88.7 35.5h0M88.8 65.7h0M87.8 60.4h0M89.7 32.5h0M86.6 45.3h0M90.6 71.4h0M89.1 57.6h0M86.3 78.5h0M88.0 57.5h0M88.4 43.9h0M86.3 40.7h0M90.6 66.6h0M88.5 56.5h0M88.3 49.6h0M86.5 34.9h0M88.8 81.4h0M89.1 51.5h0M88.8 54.9h0M89.0 52.3h0M87.0 47.9h0M90.6 64.1h0M88.4 66.1h0M86.0 73.2h0M89.1 56.2h0M89.0 58.4h0M85.6 59.3h0M87.1 74.2h0M87.6 62.1h0M89.8 54.4h0M86.3 76.3h0M90.4 47.4h0M88.2 59.8h0M87.6 66.3h0M89.9 69.6h0M89.4 55.0h0M87.3 55.1h0M90.7 65.0h0M88.9 62.2h0M88.4 66.0h0M86.8 56.9h0M86.2 66.0h0M86.2 36.9h0M88.4 47.4h0M85.5 59.6h0M86.7 40.6h0M89.8 42.0h0M88.0 68.1h0M89.5 59.1h0M89.9 45.4h0M90.4 44.6h0M85.8 45.2h0M85.9 60.4h0M87.0 47.8h0M86.7 79.4h0M87.1 51.5h0M87.7 60.5h0M86.0 66.5h0M86.2 54.2h0M88.1 47.0h0M89.4 55.0h0M86.3 58.5h0M88.9 71.8h0M85.4 71.8h0M86.4 78.8h0M90.7 35.7h0M89.0 53.8h0M89.1 51.2h0M85.8 31.9h0M90.3 86.7h0M95.3 37.4h0M96.4 69.7h0M98.5 44.3h0M96.9 38.9h0M95.1 65.4h0M95.6 36.3h0M95.5 47.1h0M96.9 59.3h0M94.6 50.0h0M97.8 40.6h0M93.5 65.4h0M97.0 52.1h0M95.9 47.2h0M96.8 37.6h0M96.8 51.5h0M94.3 55.1h0M96.3 77.1h0M96.7 34.4h0M97.0 44.3h0M97.6 50.3h0M95.7 35.2h0M97.4 62.0h0M98.6 35.7h0M93.9 66.3h0M98.4 45.7h0M94.8 51.0h0M97.8 44.6h0M98.2 63.5h0M97.1 51.0h0M94.4 55.5h0M93.5 52.6h0M93.7 60.9h0M94.2 44.0h0M98.3 42.5h0M98.7 83.6h0M94.9 49.1h0M97.3 53.5h0M98.3 66.2h0M98.0 45.2h0M95.8 53.6h0M94.4 61.2h0M97.4 57.2h0M97.1 57.6h0M94.5 40.4h0M96.1 62.3h0M97.4 72.3h0M95.3 63.1h0M97.3 62.2h0M96.2 42.5h0M95.9 52.8h0M94.4 44.4h0M97.7 54.4h0M96.8 49.7h0M96.5 30.2h0M93.4 42.1h0M97.8 54.5h0M96.7 45.6h0M94.9 62.6h0M97.0 57.1h0M97.0 51.2h0M93.9 41.5h0M94.1 57.3h0M95.4 54.4h0M96.5 51.7h0M96.2 36.5h0M97.9 38.7h0M94.4 59.8h0M96.4 38.4h0M97.6 43.5h0M94.6 52.1h0M95.4 78.3h0M96.8 27.4h0M105.4 32.7h0M104.7 67.9h0M105.0 53.1h0M102.0 58.6h0M106.4 48.5h0M105.6 69.8h0M106.6 53.3h0M103.8 58.5h0M103.5 62.0h0M105.9 58.1h0M102.6 44.1h0M103.4 67.1h0M103.1 32.2h0M102.4 39.9h0M101.8 63.4h0M105.8 38.7h0M105.8 53.5h0M101.4 49.0h0M104.7 55.1h0M103.3 39.7h0M101.9 60.6h0M104.5 32.3h0M106.0 42.3h0M101.6 54.9h0M102.8 49.4h0M106.1 43.5h0M103.4 30.1h0M104.6 67.2h0M106.3 73.9h0M104.4 59.1h0M103.8 47.2h0M106.5 51.4h0M104.7 44.3h0M106.4 50.7h0M106.0 35.7h0M101.5 59.2h0M102.6 59.2h0M105.1 61.2h0M103.1 39.3h0M105.5 42.4h0M104.1 50.0h0M105.7 47.3h0M105.5 48.4h0M102.8 46.4h0M102.2 54.5h0M104.3 60.5h0M103.1 58.3h0M103.0 45.9h0M102.0 40.7h0M102.1 55.2h0M102.5 47.0h0M102.5 31.5h0M105.8 55.8h0M105.5 51.1h0M106.6 53.2h0M106.3 43.5h0M105.0 71.6h0M102.8 43.5h0M102.0 63.4h0M102.6 43.5h0M102.0 46.4h0M103.0 84.5h0M105.5 77.1h0M102.2 72.0h0M106.1 37.4h0M105.4 57.6h0M101.8 47.2h0M106.0 68.9h0M101.5 62.1h0M105.6 61.3h0M104.2 49.8h0M103.4 45.8h0M105.3 42.2h0M102.8 65.2h0M103.9 48.0h0M106.4 58.2h0M106.0 32.2h0M101.9 60.5h0M102.2 38.5h0M103.9 60.7h0M106.1 36.8h0M104.7 44.7h0M104.9 58.2h0M102.9 57.2h0M106.2 75.5h0M103.9 51.4h0M106.3 58.1h0M103.5 52.7h0M105.9 50.7h0M105.8 69.8h0M103.8 45.3h0M105.6 65.5h0M106.6 51.2h0M103.6 73.6h0M106.4 34.1h0M101.9 62.3h0M104.5 66.2h0M103.5 32.5h0M102.2 40.2h0M104.2 42.3h0M103.0 78.2h0M106.6 80.2h0M101.6 98.0h0M117.8 60.4h0M121.8 66.4h0M121.9 51.5h0M118.9 56.7h0M118.9 54.3h0M121.4 55.8h0M122.6 48.3h0M117.3 58.0h0M120.2 68.5h0M118.9 50.6h0M120.2 52.1h0M117.4 44.8h0M137.2 53.3h0M136.9 61.6h0M137.3 53.7h0M134.7 50.2h0M134.8 38.1h0M138.4 55.8h0M136.0 64.9h0M135.4 74.5h0M138.2 65.2h0M136.8 51.0h0M136.9 61.0h0M133.2 72.4h0M134.0 62.5h0M134.0 66.9h0M137.2 60.2h0M134.7 49.0h0M136.9 58.5h0M135.8 48.5h0M137.9 65.6h0M136.2 51.6h0M138.4 51.7h0M137.0 53.8h0M134.0 72.5h0M137.6 58.1h0M136.7 73.8h0M133.6 87.1h0M134.6 67.7h0M138.1 88.4h0M135.6 54.3h0M135.1 58.7h0M137.1 68.5h0M133.9 59.7h0M135.5 62.4h0M138.4 85.5h0M133.3 60.2h0M136.0 47.9h0M136.2 76.5h0M137.2 45.9h0M135.7 59.1h0M133.4 62.9h0M134.2 81.6h0M137.8 74.5h0M134.1 97.6h0M138.5 70.4h0M135.1 97.1h0M133.8 67.0h0M138.1 51.9h0M134.1 52.0h0M137.6 74.3h0M137.1 57.9h0M133.7 62.4h0M136.1 62.0h0M133.3 45.5h0M136.2 34.6h0M138.2 85.8h0M134.6 63.7h0M135.4 46.4h0M135.2 58.8h0M137.0 56.1h0M138.2 73.9h0M135.1 30.8h0M138.6 38.7h0M137.5 61.1h0M136.1 55.4h0M138.5 46.4h0M137.7 70.4h0M137.8 78.0h0M133.3 66.0h0M134.0 49.2h0M134.2 47.1h0M135.5 42.3h0M137.0 48.0h0M137.5 57.0h0M134.1 33.8h0M136.4 64.0h0M135.5 42.8h0M138.5 71.0h0M136.9 74.3h0M135.6 65.5h0M134.9 68.5h0M135.4 86.5h0M137.5 53.9h0M136.6 32.9h0M133.8 37.5h0M135.2 65.9h0M137.3 56.7h0M136.9 30.2h0M134.2 53.7h0M138.0 52.2h0M135.0 51.6h0M137.2 51.4h0M138.6 77.4h0M135.5 59.9h0M134.3 52.6h0M133.5 72.7h0M137.2 60.3h0M136.8 76.5h0M133.4 37.9h0M136.0 61.4h0M137.8 64.3h0M135.1 79.1h0M134.6 65.4h0M134.5 76.1h0M135.9 48.0h0M136.5 78.7h0M137.4 72.9h0M135.5 59.9h0M138.1 61.4h0M137.0 52.8h0M137.7 52.1h0M134.9 75.1h0M136.1 87.0h0M135.1 64.9h0M138.1 71.2h0M135.4 72.9h0M137.6 46.9h0M133.8 39.2h0M137.7 66.0h0M134.5 72.8h0M134.9 48.4h0M135.4 62.8h0M136.3 61.4h0M138.2 77.7h0M137.2 60.4h0M135.0 89.2h0M135.5 57.2h0M135.9 69.0h0M137.3 51.5h0M137.2 77.8h0M134.9 73.7h0M136.3 47.0h0M133.6 69.9h0M133.8 81.1h0M137.1 57.8h0M137.1 63.4h0M134.4 58.9h0M134.6 46.3h0M136.6 76.6h0M134.6 77.4h0M134.8 75.3h0M138.1 70.0h0M136.3 73.2h0M133.2 56.3h0M133.9 74.3h0M136.7 49.9h0M135.9 35.9h0M135.2 59.1h0M134.6 72.2h0M135.4 73.1h0M133.3 70.3h0M135.8 53.3h0M138.0 29.4h0M137.6 31.3h0M135.9 110.0h0M134.9 125.0h0M154.1 45.7h0M153.9 46.7h0M151.7 42.0h0M150.3 51.5h0M151.4 52.0h0M153.4 54.6h0M151.0 49.7h0M153.9 43.4h0M149.9 45.0h0M150.0 49.4h0M153.8 50.5h0M151.7 52.4h0M154.1 35.8h0M152.4 42.9h0M152.3 63.2h0M150.0 36.1h0M157.1 78.7h0M162.2 69.4h0M157.7 96.3h0M158.9 95.7h0M157.3 92.4h0M162.0 84.8h0M161.8 92.5h0M159.7 76.8h0M158.0 85.8h0M162.0 75.8h0M160.7 98.0h0M158.6 94.2h0M158.3 82.5h0M160.6 84.4h0M162.3 70.7h0M158.7 85.0h0M161.8 71.0h0M160.9 101.3h0M160.7 85.0h0M160.8 98.4h0M161.7 77.5h0M160.9 88.5h0M160.1 83.3h0M157.3 71.6h0M160.6 83.9h0M158.6 85.8h0M160.4 58.2h0M161.6 97.8h0M161.6 69.0h0M159.0 84.9h0M160.8 84.6h0M161.8 71.6h0M160.8 78.6h0M158.5 88.8h0M158.9 88.1h0M162.3 88.4h0M157.7 93.8h0M159.8 72.0h0M159.1 69.5h0M157.4 79.9h0M157.5 81.1h0M159.2 71.1h0M159.9 104.0h0M158.9 82.1h0M160.6 80.1h0M157.5 75.5h0M159.6 75.8h0M160.5 75.5h0M161.1 86.9h0M162.3 72.4h0M162.2 75.3h0M161.5 72.6h0M160.7 81.2h0M158.8 88.1h0M158.7 86.0h0M157.4 99.7h0M162.2 72.4h0M161.7 61.0h0M159.5 79.9h0M158.6 75.3h0M157.9 106.8h0M161.4 104.6h0M175.2 74.3h0M175.9 74.7h0M173.1 79.7h0M177.6 79.3h0M174.2 83.7h0M176.7 78.0h0M176.0 83.9h0M175.9 77.2h0M176.8 77.9h0M178.0 88.4h0M174.9 78.2h0M175.9 71.3h0M174.0 73.9h0M175.6 88.2h0M174.8 78.4h0M175.4 75.7h0M175.1 80.5h0M175.6 77.4h0M176.6 94.4h0M178.2 79.5h0M178.2 88.7h0M174.1 75.2h0M175.8 75.0h0M175.8 92.1h0M177.9 78.2h0M176.3 95.7h0M176.5 74.4h0M174.7 85.4h0M177.9 82.5h0M174.0 94.4h0M173.4 84.2h0M175.5 72.1h0M177.0 88.3h0M176.4 78.1h0M175.9 88.7h0M177.6 86.3h0M177.6 85.2h0M178.2 75.0h0M174.1 80.6h0M173.9 80.4h0M173.7 74.8h0M175.6 80.4h0M175.7 89.8h0M173.9 79.2h0M176.1 82.7h0M174.8 85.7h0M176.3 86.6h0M176.1 72.6h0M177.6 77.8h0M174.3 65.9h0M176.9 96.3h0M192.1 70.2h0M189.0 65.9h0M190.8 75.9h0M193.5 49.3h0M191.6 56.6h0M189.6 83.9h0M191.6 77.3h0M194.0 59.9h0M189.5 63.4h0M189.9 60.1h0M190.0 46.1h0M189.7 67.3h0M190.8 53.4h0M190.2 65.8h0M189.5 60.6h0M194.2 67.1h0M191.6 81.3h0M190.3 48.0h0M189.7 66.2h0M194.0 79.1h0M194.2 75.9h0M190.3 64.0h0M192.2 73.9h0M191.8 61.7h0M194.1 47.9h0M189.7 67.8h0M193.5 71.5h0M192.1 61.8h0M193.3 60.3h0M193.9 78.4h0M194.0 62.6h0M192.2 75.4h0M190.2 73.5h0M191.4 67.4h0M190.4 85.4h0M192.3 82.8h0M191.3 56.3h0M190.9 77.1h0M190.6 63.9h0M189.0 51.3h0M190.7 59.3h0M190.7 41.4h0M189.7 78.1h0M190.4 64.8h0M191.8 68.4h0M192.4 51.3h0M191.1 52.4h0M189.7 69.6h0M191.8 43.0h0M189.0 88.7h0M193.7 65.4h0M191.7 82.5h0M192.4 47.4h0M193.9 72.6h0M190.7 71.4h0M194.2 41.3h0M191.8 77.6h0M191.9 90.2h0M190.8 75.9h0M191.0 55.8h0M191.0 62.5h0M193.5 50.0h0M191.1 73.3h0M194.2 52.2h0M191.2 84.3h0M192.0 65.3h0M192.1 56.6h0M190.3 66.1h0M189.9 81.4h0M192.0 82.2h0M193.0 51.8h0M192.5 41.9h0M194.0 64.2h0M190.2 78.4h0M193.4 54.3h0M191.6 57.8h0M192.7 82.6h0M190.4 84.0h0M190.5 73.6h0M194.1 58.3h0M190.2 39.4h0M190.5 72.7h0M189.3 67.4h0M190.6 60.1h0M190.9 55.9h0M194.2 65.6h0M189.7 48.3h0M193.7 65.2h0M193.8 94.3h0M189.3 77.2h0M192.9 84.1h0M189.0 97.9h0M192.3 42.9h0M193.3 67.2h0M190.2 65.3h0M191.3 87.4h0M194.3 70.9h0M191.1 83.2h0M194.2 44.3h0M193.4 70.3h0M191.8 44.7h0M191.8 77.1h0M194.3 64.8h0M189.0 63.3h0M192.6 68.9h0M189.5 59.0h0M191.5 66.4h0M191.6 43.1h0M192.9 49.5h0M193.2 54.2h0M191.0 83.2h0M193.2 73.1h0M191.3 58.7h0M191.9 57.4h0M193.8 45.4h0M192.9 54.2h0M191.2 52.2h0M193.7 72.3h0M191.7 82.0h0M191.6 49.9h0M192.3 84.3h0M189.9 62.1h0M192.2 64.1h0M190.6 82.2h0M193.2 71.8h0M194.3 64.9h0M193.8 79.3h0M193.4 44.0h0M194.3 68.8h0M193.5 47.6h0M190.9 72.7h0M193.5 77.1h0M193.2 80.3h0M190.6 66.8h0M191.0 83.1h0M190.3 74.3h0M191.4 73.3h0M189.0 55.0h0M190.0 74.9h0M190.4 74.5h0M193.0 79.5h0M189.1 95.2h0M192.1 66.4h0M193.9 64.9h0M192.3 85.5h0M193.8 67.5h0M192.3 54.2h0M193.4 65.2h0M190.6 74.6h0M189.5 93.7h0M194.0 84.6h0M191.0 83.8h0M192.6 75.3h0M192.1 53.4h0M189.2 71.4h0M194.0 63.8h0M191.2 52.7h0M190.9 86.1h0M193.0 72.0h0M191.7 76.5h0M191.1 92.0h0M191.2 41.1h0M190.8 54.5h0M190.1 56.5h0M190.0 63.6h0M192.1 52.6h0M191.6 46.4h0M192.6 62.6h0M190.6 70.7h0M193.7 37.4h0M191.4 60.4h0M194.1 41.9h0M190.0 96.2h0M191.6 103.0h0M209.3 83.6h0M205.3 68.7h0M206.9 77.7h0M205.7 65.0h0M208.8 84.3h0M205.5 61.3h0M206.0 80.9h0M208.2 57.5h0M209.4 64.2h0M206.7 69.0h0M207.5 70.0h0M204.9 65.0h0M207.4 84.9h0M205.2 69.6h0M209.0 81.9h0M205.3 68.7h0M209.0 54.2h0M210.3 51.8h0M205.6 82.3h0M209.8 70.3h0M210.3 74.9h0M208.1 67.7h0M206.9 80.6h0M208.6 55.0h0M209.8 63.2h0M208.2 82.6h0M208.6 60.1h0M209.4 47.0h0M206.6 59.1h0M207.1 87.9h0M208.7 68.1h0M210.0 44.8h0M215.6 69.5h0M215.1 59.7h0M217.0 91.9h0M218.2 54.1h0M216.9 70.4h0M215.1 60.8h0M215.9 71.0h0M215.9 70.8h0M217.0 70.7h0M214.4 61.1h0M213.0 79.2h0M214.2 78.8h0M216.9 82.4h0M214.1 58.8h0M217.0 55.8h0M216.0 69.3h0M216.4 54.1h0M213.6 56.5h0M217.8 52.7h0M216.8 68.1h0M216.6 63.0h0M214.0 66.3h0M215.2 73.4h0M214.7 59.9h0M215.5 56.3h0M216.8 63.3h0M215.1 77.8h0M215.4 65.8h0M217.5 70.0h0M217.9 53.7h0M213.6 72.0h0M217.3 70.7h0M214.1 60.7h0M216.4 74.2h0M216.7 69.1h0M215.1 66.3h0M213.9 83.3h0M215.2 72.2h0M213.6 40.3h0M215.9 79.9h0M213.7 83.1h0M213.7 63.6h0M214.1 38.9h0M217.1 69.5h0M216.7 51.7h0M215.2 69.0h0M217.6 72.5h0M217.4 66.9h0M215.1 75.1h0M214.2 75.8h0M215.8 78.3h0M216.3 74.9h0M217.6 62.3h0M215.9 67.7h0M216.7 77.0h0M214.2 50.2h0M214.8 77.8h0M215.4 68.4h0M216.1 71.0h0M213.5 52.1h0M215.8 70.6h0M217.6 44.4h0M213.5 81.5h0M216.1 57.0h0M215.2 57.2h0M216.7 54.2h0M215.7 57.0h0M213.0 56.3h0M217.0 59.8h0M216.8 57.3h0M215.9 57.8h0M217.0 60.9h0M213.2 50.3h0M216.5 67.3h0M214.0 68.7h0M214.8 49.5h0M217.6 81.6h0M215.9 71.9h0M214.2 74.3h0M216.6 70.8h0M213.5 65.9h0M215.8 79.7h0M213.1 67.5h0M213.3 53.8h0M217.4 66.4h0M213.4 63.6h0M216.1 58.0h0M217.8 51.7h0M217.7 64.3h0M217.8 74.5h0M217.0 62.7h0M215.2 45.3h0M214.3 76.6h0M217.7 57.9h0M214.5 57.2h0M217.3 67.5h0M214.4 65.0h0M214.9 78.1h0M216.5 59.6h0M213.9 68.0h0M215.9 53.6h0M217.6 59.9h0M212.9 71.6h0M215.9 53.9h0M216.2 40.2h0M217.4 71.4h0M217.9 75.0h0M215.8 61.4h0M213.8 66.8h0M215.8 85.3h0M212.9 68.6h0M213.4 63.4h0M217.4 87.2h0M218.0 46.4h0M214.7 84.3h0M216.5 50.6h0M216.7 76.7h0M213.4 89.9h0M214.4 79.5h0M215.1 78.2h0M215.8 68.2h0M217.3 64.4h0M214.8 68.0h0M213.3 78.8h0M215.1 79.3h0M216.9 62.6h0M215.2 65.0h0M213.5 62.0h0M216.9 68.7h0M213.0 62.7h0M214.2 59.5h0M215.1 57.7h0M217.1 53.8h0M213.3 62.0h0M214.3 64.7h0M213.4 57.0h0M216.0 77.3h0M213.2 48.5h0M213.2 70.6h0M212.9 93.1h0M216.2 41.6h0M224.7 61.9h0M224.4 62.5h0M224.0 54.9h0M221.2 77.0h0M222.4 88.5h0M221.6 82.9h0M225.7 84.3h0M222.9 63.9h0M222.7 77.5h0M226.2 72.4h0M224.4 79.4h0M225.8 57.1h0M222.8 72.1h0M222.2 97.0h0M225.7 79.1h0M223.6 76.4h0M223.2 81.5h0M222.1 48.3h0M224.4 77.2h0M225.6 73.1h0M225.0 90.4h0M225.3 108.5h0M223.4 25.0h0M237.5 24.6h0M239.6 50.3h0M238.2 36.8h0M238.3 21.8h0M241.0 73.2h0M236.9 42.5h0M240.9 34.9h0M240.2 32.8h0M240.5 42.2h0M240.0 61.7h0M237.9 56.6h0M237.8 53.0h0M237.5 43.2h0M241.0 56.1h0M237.8 56.9h0M238.6 64.5h0M240.2 71.9h0M238.3 43.2h0M241.2 63.7h0M237.9 42.7h0M240.6 43.5h0M239.4 39.9h0M240.0 55.5h0M237.9 75.1h0M238.0 44.3h0M237.0 44.8h0M241.2 35.5h0M240.4 62.5h0M240.0 59.0h0M238.0 35.1h0M238.9 38.5h0M241.2 68.7h0M241.3 38.3h0M237.8 52.1h0M237.9 42.6h0M241.1 66.1h0M237.2 76.0h0M238.8 57.6h0M239.6 47.7h0M237.4 46.6h0M237.0 36.1h0M238.2 46.8h0M238.2 39.5h0M241.1 60.1h0M241.1 61.4h0M241.8 63.1h0M238.4 69.7h0M241.3 40.1h0M239.5 48.8h0M237.5 65.7h0M237.3 25.8h0M241.1 51.8h0M238.0 45.4h0M239.0 68.5h0M242.2 41.5h0M241.2 48.4h0M239.3 81.8h0M240.9 23.8h0M238.4 38.4h0M241.0 63.1h0M237.7 45.4h0M241.0 52.8h0M237.7 53.8h0M236.9 44.8h0M240.5 49.8h0M241.8 50.8h0M237.4 46.6h0M242.0 40.9h0M237.1 32.6h0M240.9 34.4h0M237.5 60.1h0M239.9 58.8h0M237.5 48.9h0M239.2 51.3h0M237.4 75.4h0M240.5 57.8h0M237.8 59.5h0M239.2 47.6h0M242.1 64.8h0M237.4 26.8h0M238.0 60.7h0M240.2 50.8h0M237.6 41.1h0M241.0 79.9h0M241.6 37.2h0M239.6 47.4h0M240.8 39.7h0M238.4 46.2h0M241.6 48.4h0M241.9 66.9h0M237.7 54.6h0M238.8 64.6h0M238.6 67.3h0M239.4 40.7h0M241.9 51.4h0M236.9 54.9h0M241.3 51.6h0M240.9 39.0h0M237.5 56.8h0M240.6 66.7h0M241.3 52.0h0M238.6 61.6h0M237.2 49.6h0M236.9 49.0h0M239.2 44.6h0M241.6 64.3h0M239.7 50.2h0M238.9 37.7h0M241.0 65.9h0M237.6 34.4h0M238.1 55.0h0M237.9 70.1h0M241.8 74.1h0M237.5 56.1h0M239.0 64.2h0M238.1 46.6h0M237.7 51.6h0M236.8 57.5h0M239.4 47.3h0M238.4 40.2h0M238.5 38.5h0M237.5 51.0h0M237.3 64.9h0M239.5 35.6h0M240.8 57.6h0M237.9 52.0h0M238.8 72.1h0M237.7 67.2h0M241.3 40.3h0M238.0 32.1h0M240.0 60.9h0M239.1 65.4h0M241.8 48.9h0M237.0 60.3h0M239.7 52.9h0M238.0 40.2h0M237.7 57.7h0M241.8 33.5h0M241.2 46.9h0M238.7 45.4h0M241.8 34.8h0M237.8 36.9h0M239.9 42.6h0M239.2 38.2h0M239.1 48.4h0M241.5 54.3h0M240.4 54.6h0M238.1 31.7h0M241.1 56.9h0M237.4 79.7h0M241.0 44.5h0M239.9 49.0h0M238.2 60.4h0M241.2 49.1h0M239.7 73.6h0M240.4 33.5h0M237.6 21.4h0M237.8 77.5h0M241.7 57.5h0M238.8 62.3h0M239.9 62.5h0M238.3 45.4h0M240.0 66.8h0M240.9 34.6h0M241.9 46.7h0M237.0 47.7h0M239.0 43.7h0M238.3 31.4h0M239.3 63.8h0M241.5 69.8h0M241.0 85.3h0M240.4 82.9h0M238.6 28.4h0M238.4 50.5h0M240.9 78.4h0M237.1 24.0h0M238.6 82.3h0M239.2 17.0h0M254.1 88.0h0M253.3 62.7h0M253.0 52.5h0M255.0 63.3h0M256.0 80.8h0M255.8 37.6h0M256.0 87.3h0M255.2 62.8h0M255.7 82.3h0M256.0 64.0h0M256.2 63.9h0M254.7 71.3h0M257.4 90.3h0M255.6 69.8h0M254.9 78.8h0M255.5 58.1h0M256.3 53.7h0M257.0 80.5h0M255.3 77.2h0M255.6 87.8h0M253.0 49.8h0M253.9 81.2h0M254.3 52.9h0M254.1 85.4h0M256.7 110.3h0M258.0 65.4h0M257.4 78.4h0M255.1 56.6h0M255.8 80.7h0M253.9 64.1h0M257.1 51.6h0M255.8 77.1h0M254.0 44.2h0M254.4 66.6h0M255.4 40.2h0M256.4 86.5h0M253.6 77.7h0M253.2 69.4h0M253.4 87.7h0M254.7 75.2h0M253.1 84.5h0M254.5 62.9h0M256.7 76.3h0M256.5 68.8h0M254.4 58.9h0M257.0 82.9h0M256.7 70.9h0M256.0 45.4h0M253.8 67.1h0M252.8 94.9h0M253.1 86.9h0M257.2 47.5h0M253.5 66.9h0M252.9 49.9h0M254.7 48.8h0M255.6 89.7h0M257.6 75.6h0M256.2 63.4h0M255.7 69.4h0M257.3 68.3h0M257.3 82.5h0M253.9 90.1h0M256.7 67.4h0M254.3 54.0h0M254.5 92.2h0M255.6 67.1h0M255.5 68.8h0M257.0 89.4h0M253.5 98.5h0M254.4 75.0h0M257.4 91.4h0M258.0 72.2h0M255.3 54.6h0M254.1 88.7h0M257.8 67.9h0M253.0 70.9h0M258.1 102.0h0M253.0 69.4h0M256.5 94.3h0M255.2 73.9h0M254.8 96.0h0M257.9 95.8h0M255.5 67.5h0M256.4 61.5h0M253.4 66.4h0M257.4 76.7h0M253.7 58.6h0M257.8 72.8h0M256.6 95.3h0M255.2 71.3h0M256.5 80.4h0M255.3 63.4h0M253.3 73.9h0M253.0 46.3h0M253.6 62.2h0M257.7 103.4h0M255.6 41.3h0M253.9 124.0h0M270.9 78.1h0M271.8 56.7h0M269.5 50.6h0M271.8 52.1h0M271.6 53.2h0M271.8 85.6h0M273.6 57.3h0M269.0 51.4h0M269.7 62.7h0M269.5 68.7h0M270.3 71.6h0M272.9 69.3h0M272.0 50.7h0M273.2 47.3h0M269.9 52.3h0M269.6 65.4h0M271.2 49.1h0M271.8 66.8h0M273.9 56.2h0M272.0 42.5h0M270.9 59.8h0M269.9 64.5h0M270.5 80.2h0M273.6 42.9h0M269.3 64.5h0M273.3 59.6h0M271.1 65.0h0M270.3 52.7h0M273.0 69.4h0M273.2 44.8h0M272.1 60.4h0M270.9 65.8h0M269.9 42.1h0M269.3 56.0h0M268.8 70.2h0M272.4 70.5h0M272.0 63.5h0M273.2 54.5h0M271.9 58.1h0M270.7 52.8h0M273.4 62.7h0M273.8 51.0h0M273.1 78.3h0M271.4 56.9h0M270.8 48.7h0M271.6 79.7h0M271.1 69.4h0M270.8 64.1h0M268.9 40.3h0M270.3 57.9h0M269.7 51.2h0M271.1 73.5h0M269.5 50.3h0M272.1 45.4h0M273.2 61.1h0M269.0 32.8h0M269.9 83.0h0M271.3 97.0h0M280.6 74.9h0M278.2 81.1h0M279.5 77.0h0M278.8 94.1h0M277.6 43.9h0M276.8 70.1h0M279.2 54.7h0M278.8 47.2h0M279.4 59.5h0M278.9 69.4h0M278.2 59.5h0M277.2 77.8h0M277.7 57.7h0M279.2 63.7h0M278.2 84.5h0M277.6 72.3h0M277.8 56.3h0M279.2 94.0h0M276.7 90.3h0M281.6 58.0h0M277.5 79.5h0M276.9 79.3h0M277.8 73.3h0M277.9 63.2h0M280.4 64.7h0M281.3 71.7h0M279.6 80.5h0M280.1 42.1h0M278.3 66.1h0M280.7 70.3h0M276.7 64.1h0M281.8 81.3h0M278.0 80.4h0M278.2 74.4h0M278.6 79.5h0M277.3 74.5h0M277.4 40.3h0M277.8 72.9h0M279.0 91.9h0M277.4 94.1h0M280.9 71.4h0M278.4 46.9h0M278.8 58.6h0M276.8 96.4h0M279.0 62.7h0M280.2 48.3h0M281.4 75.0h0M277.4 62.9h0M277.1 65.7h0M280.0 84.2h0M280.0 47.1h0M278.8 70.5h0M276.8 78.4h0M279.8 78.9h0M279.4 52.9h0M277.0 64.2h0M278.7 85.4h0M279.9 64.6h0M277.2 56.0h0M277.1 47.5h0M278.7 81.3h0M282.0 48.6h0M281.9 79.1h0M281.9 72.8h0M280.2 80.8h0M276.6 55.0h0M281.8 70.7h0M278.7 75.0h0M281.5 62.0h0M276.6 69.1h0M280.8 56.0h0M281.7 61.7h0M278.7 77.0h0M281.6 67.0h0M277.8 66.6h0M280.1 82.7h0M277.0 79.1h0M281.7 88.4h0M281.1 74.1h0M280.8 100.7h0M278.1 81.9h0M281.3 80.9h0M281.2 95.9h0M279.2 82.1h0M280.8 68.5h0M279.1 46.1h0M281.2 73.8h0M279.4 77.4h0M278.2 78.4h0M278.0 75.4h0M277.9 69.5h0M281.8 59.5h0M276.9 42.4h0M281.8 38.0h0M281.6 89.8h0M277.4 67.7h0M281.3 81.8h0M279.9 66.3h0M281.3 82.2h0M278.8 81.1h0M280.6 86.2h0M281.0 68.7h0M277.8 78.8h0M279.5 91.8h0M278.0 85.4h0M277.8 43.8h0M280.6 52.3h0M280.7 85.4h0M280.5 74.3h0M277.6 54.8h0M277.1 90.2h0M278.4 81.0h0M281.2 89.0h0M277.1 77.1h0M280.6 64.2h0M277.5 62.7h0M280.8 59.9h0M277.0 71.3h0M280.1 48.6h0M277.9 70.7h0M276.8 69.1h0M279.5 81.1h0M279.2 68.2h0M280.4 74.6h0M277.9 76.5h0M278.9 63.4h0M276.8 68.7h0M281.9 67.2h0M277.7 75.8h0M278.4 72.8h0M277.9 85.8h0M277.7 74.6h0M279.0 81.4h0M277.3 84.8h0M279.0 69.6h0M277.6 93.4h0M278.8 81.0h0M279.4 81.1h0M279.9 80.1h0M279.9 88.1h0M279.2 60.8h0M276.9 64.2h0M281.8 83.1h0M279.2 82.7h0M277.2 66.1h0M280.9 60.0h0M280.4 50.7h0M277.0 76.3h0M279.5 65.7h0M278.8 69.9h0M277.0 65.9h0M279.5 57.3h0M278.2 87.7h0M281.4 96.3h0M277.4 43.6h0M279.3 81.4h0M279.3 78.9h0M278.3 82.7h0M279.1 82.9h0M281.8 46.0h0M281.3 47.9h0M280.4 75.2h0M279.3 70.5h0M277.6 100.8h0M279.0 41.3h0M277.1 73.8h0M281.0 66.0h0M278.4 66.6h0M277.9 64.8h0M278.1 84.3h0M278.0 39.0h0M277.8 40.5h0M287.4 51.0h0M289.8 67.6h0M286.1 84.5h0M284.9 80.7h0M288.6 44.1h0M288.3 59.3h0M286.8 73.6h0M287.1 71.1h0M287.8 42.0h0M286.0 95.5h0M286.8 74.9h0M286.3 124.5h0M285.4 105.7h0M289.9 67.1h0M289.1 77.3h0M288.9 96.3h0M289.5 62.9h0M289.6 95.6h0M284.6 47.7h0M289.3 60.7h0M285.7 96.6h0M285.1 103.5h0M287.0 70.9h0M288.7 64.9h0M288.6 60.7h0M286.3 45.9h0M285.9 55.7h0M287.8 109.7h0M285.6 91.0h0M286.4 62.6h0M287.7 39.1h0M289.0 89.5h0M286.0 104.8h0M288.8 88.1h0M285.5 90.4h0M286.6 50.9h0M287.2 69.2h0M286.6 66.1h0M286.2 65.2h0M286.0 47.9h0M285.4 81.2h0M288.5 95.1h0M288.7 67.2h0M284.8 93.9h0M286.9 91.2h0M285.8 64.3h0M285.2 52.2h0M289.1 47.2h0M287.7 76.6h0M288.9 105.5h0M288.5 52.8h0M287.3 90.5h0M288.6 117.0h0M286.9 83.3h0M286.2 64.8h0M286.3 93.7h0M285.7 98.3h0M286.5 84.8h0M286.7 60.4h0M287.6 82.8h0M288.3 98.5h0M285.8 94.2h0M286.7 46.4h0M288.8 76.6h0M287.9 93.9h0M287.8 82.8h0M290.0 60.9h0M287.0 93.4h0M284.7 97.2h0M289.1 99.3h0M287.1 105.2h0M285.3 83.7h0M285.3 55.9h0M288.4 112.9h0M288.9 97.5h0M289.6 73.4h0M287.2 86.7h0M289.1 37.3h0M286.8 51.0h0M287.6 75.9h0M287.4 36.8h0M288.8 83.5h0M287.5 67.2h0M289.4 64.4h0M287.4 56.4h0M285.6 58.1h0M286.9 72.3h0M286.5 94.2h0M286.1 109.2h0M284.6 70.7h0M288.9 36.4h0M287.4 75.1h0M289.0 51.8h0M288.7 70.6h0M287.4 45.6h0M285.6 71.4h0M285.3 80.4h0M289.2 94.9h0M287.4 55.0h0M289.2 60.8h0M285.1 72.0h0M286.0 104.7h0M285.7 102.6h0M285.0 38.0h0M288.9 81.3h0M285.3 54.2h0M285.8 77.4h0M286.5 69.2h0M287.9 75.3h0M286.3 75.3h0M287.2 70.2h0M285.3 55.3h0M287.9 77.9h0M287.3 75.8h0M286.4 90.3h0M289.0 70.1h0M289.0 78.9h0M288.8 77.3h0M285.8 109.4h0M286.4 57.3h0M289.2 62.9h0M289.0 119.7h0M289.3 122.7h0M305.7 66.4h0M304.9 79.9h0M303.3 42.2h0M303.6 48.4h0M304.6 54.9h0M300.6 48.6h0M304.2 63.4h0M304.9 45.3h0M301.8 62.5h0M302.7 53.3h0M302.2 65.2h0M303.0 51.4h0M302.3 51.9h0M302.9 40.7h0M302.9 56.0h0M301.8 66.5h0M303.3 43.8h0M300.8 80.8h0M305.8 52.8h0M301.6 66.7h0M302.4 61.6h0M305.0 44.4h0M302.2 64.0h0M304.4 66.1h0M304.9 51.4h0M304.3 56.2h0M303.0 69.8h0M303.8 40.8h0M303.5 76.0h0M304.3 58.6h0M300.8 58.3h0M302.9 53.9h0M305.5 39.4h0M305.6 38.4h0M304.5 72.9h0M302.7 65.2h0M302.0 58.9h0M305.6 50.2h0M302.5 73.8h0M304.5 31.3h0M302.7 75.5h0M304.9 68.0h0M304.4 74.1h0M300.6 54.2h0M302.7 57.0h0M305.3 91.8h0M302.3 59.1h0M305.1 74.5h0M304.0 61.0h0M304.6 57.1h0M301.3 69.7h0M305.4 62.4h0M303.3 78.4h0M301.8 52.6h0M305.0 51.4h0M304.2 57.1h0M305.0 59.2h0M305.7 75.2h0M303.8 63.3h0M303.2 68.7h0M303.7 70.2h0M301.1 42.1h0M304.7 67.3h0M301.8 74.2h0M301.6 46.3h0M300.7 64.3h0M301.2 82.6h0M303.1 54.0h0M305.4 50.6h0M301.4 62.1h0M305.0 44.4h0M301.3 54.9h0M305.1 43.8h0M303.4 48.8h0M304.8 57.3h0M301.8 78.7h0M304.5 80.4h0M303.0 74.3h0M304.1 70.4h0M302.2 44.8h0M302.1 71.6h0M303.2 55.1h0M305.7 58.8h0M305.3 63.5h0M301.6 32.9h0M301.4 52.6h0M301.2 89.0h0M304.9 38.3h0M300.5 50.0h0M301.3 73.1h0M304.4 73.1h0M301.1 62.5h0M301.1 87.1h0M304.7 47.1h0M303.9 55.9h0M303.1 81.7h0M302.4 73.8h0M301.0 64.3h0M303.3 78.2h0M305.8 75.3h0M302.2 54.8h0M304.4 79.9h0M305.1 80.0h0M303.0 63.4h0M303.4 66.7h0M303.6 63.0h0M302.8 59.3h0M303.1 50.0h0M300.6 66.2h0M304.4 62.8h0M303.2 65.7h0M300.8 60.2h0M305.8 75.6h0M304.1 51.5h0M302.5 43.9h0M301.7 63.5h0M302.1 59.0h0M302.2 66.1h0M304.8 54.9h0M300.7 47.8h0M304.8 74.7h0M302.1 54.0h0M301.4 52.8h0M301.2 74.3h0M305.7 37.7h0M304.4 77.3h0M304.3 68.8h0M301.0 39.5h0M305.1 41.4h0M303.9 55.6h0M305.7 62.6h0M305.6 63.4h0M304.0 59.7h0M305.8 70.9h0M303.4 61.1h0M305.0 62.0h0M302.4 51.5h0M302.3 82.6h0M303.2 79.0h0M305.4 53.5h0M302.6 67.6h0M302.8 57.0h0M303.2 65.0h0M304.8 46.2h0M304.1 68.3h0M302.7 74.0h0M300.8 49.6h0M300.7 74.6h0M302.4 51.2h0M304.3 62.7h0M304.6 92.8h0M302.5 58.1h0M302.5 66.9h0M305.7 56.2h0M302.5 65.2h0M304.3 80.1h0M305.6 72.3h0M305.8 63.7h0M300.5 57.9h0M304.3 53.8h0M300.9 49.4h0M302.4 67.0h0M301.9 68.0h0M304.4 68.5h0M302.9 74.3h0M304.7 61.5h0M302.5 44.2h0M303.6 74.6h0M303.2 71.3h0M304.7 65.3h0M301.2 35.7h0M302.3 89.2h0M321.3 51.0h0M317.6 66.7h0M316.9 60.9h0M319.0 36.7h0M320.8 69.6h0M316.9 50.6h0M316.9 40.6h0M317.6 31.2h0M321.5 59.8h0M317.7 49.0h0M319.2 49.2h0M321.3 53.9h0M316.9 59.7h0M318.7 66.9h0M318.1 57.5h0M320.1 84.6h0M318.2 62.9h0M318.4 62.6h0M317.2 48.0h0M318.0 75.8h0M318.9 62.5h0M321.2 45.9h0M317.6 78.3h0M318.0 38.8h0M318.0 44.5h0M318.6 62.0h0M318.0 49.3h0M317.0 82.2h0M320.1 59.7h0M317.4 35.2h0M320.0 64.9h0M319.4 52.4h0M316.7 81.8h0M318.8 48.3h0M318.3 66.4h0M320.8 55.3h0M320.1 65.7h0M317.3 45.9h0M321.2 66.1h0M321.4 54.9h0M318.3 51.3h0M317.4 62.0h0M319.3 83.2h0M317.7 77.9h0M319.9 47.7h0M317.3 53.1h0M317.5 53.3h0M318.6 48.6h0M318.1 58.7h0M317.0 64.9h0M319.6 66.3h0M320.9 39.0h0M316.5 71.6h0M320.1 50.4h0M319.1 51.8h0M316.5 47.4h0M317.4 65.5h0M320.7 52.8h0M318.8 51.0h0M317.8 46.4h0M320.6 69.8h0M316.8 63.6h0M316.7 44.2h0M320.3 37.3h0M321.1 55.8h0M320.0 35.8h0M317.6 87.6h0M318.1 56.5h0M320.3 42.1h0M318.2 63.0h0M321.1 36.0h0M319.4 51.6h0M317.5 54.4h0M320.7 70.4h0M321.7 58.3h0M318.3 42.9h0M318.6 62.8h0M320.8 57.8h0M321.5 62.4h0M317.6 71.5h0M321.5 58.8h0M320.4 71.1h0M316.5 73.4h0M321.4 58.8h0M318.3 87.6h0M318.2 39.2h0M316.7 65.0h0M317.9 75.0h0M318.4 52.0h0M321.6 71.1h0M320.4 74.0h0M318.0 77.0h0M320.8 55.0h0M320.1 60.8h0M321.3 66.1h0M318.3 69.6h0M318.4 48.2h0M317.6 36.9h0M317.7 60.3h0M317.3 53.7h0M319.3 42.2h0M319.2 49.2h0M317.2 61.3h0M319.0 37.3h0M320.3 65.8h0M320.3 66.5h0M318.9 57.8h0M321.8 72.0h0M317.1 71.8h0M316.8 72.5h0M321.0 47.1h0M320.5 55.3h0M317.5 52.6h0M316.8 70.5h0M319.8 37.3h0M321.0 55.3h0M319.2 55.2h0M317.5 41.5h0M318.6 67.4h0M320.6 57.6h0M321.8 72.8h0M321.0 56.7h0M321.4 59.9h0M320.6 60.2h0M319.5 71.3h0M319.5 61.7h0M317.3 57.2h0M319.4 80.1h0M319.1 59.0h0M317.2 67.2h0M317.5 51.3h0M321.7 48.9h0M320.2 63.9h0M318.1 42.0h0M319.6 76.5h0M320.9 82.8h0M316.5 49.1h0M319.1 33.3h0M321.5 58.2h0M317.3 42.7h0M317.5 61.2h0M319.7 72.9h0M320.9 43.0h0M318.4 53.6h0M316.7 73.5h0M318.3 74.0h0M316.9 35.9h0M319.9 70.3h0M317.6 66.7h0M320.0 58.9h0M320.1 61.4h0M318.8 83.3h0M320.7 46.5h0M317.0 58.7h0M317.6 54.2h0M320.2 61.1h0M319.7 62.7h0M317.9 44.0h0M319.6 81.2h0M318.5 72.0h0M316.7 46.7h0M321.1 63.7h0M318.0 61.1h0M319.4 73.0h0M319.9 59.5h0M320.7 85.3h0M321.6 32.7h0M335.9 58.8h0M333.6 58.8h0M334.1 72.2h0M337.4 69.8h0M335.4 73.2h0M332.5 68.9h0M336.5 53.6h0M333.2 69.0h0M336.0 71.5h0M335.6 39.4h0M336.3 63.2h0M333.7 62.6h0M336.2 53.0h0M334.0 71.7h0M336.3 53.8h0M333.8 54.9h0M337.6 53.7h0M335.8 73.3h0M336.3 68.4h0M335.3 50.5h0M337.0 50.5h0M333.3 49.5h0M337.3 53.3h0M335.1 65.1h0M333.9 60.6h0M333.7 61.9h0M333.5 62.7h0M332.6 57.7h0M335.9 36.7h0M344.2 105.2h0M343.6 98.1h0M343.5 66.8h0M341.5 78.1h0M342.0 92.0h0M344.8 56.2h0M341.6 92.0h0M343.6 87.5h0M342.9 69.4h0M342.8 91.5h0M342.0 84.3h0M344.7 95.6h0M341.6 52.7h0M342.1 96.5h0M345.4 81.9h0M345.2 70.3h0M342.8 68.7h0M340.9 52.0h0M343.3 55.3h0M345.3 84.6h0M341.9 60.8h0M343.0 63.4h0M341.9 73.9h0M341.3 87.1h0M344.9 95.4h0M341.9 78.5h0M343.4 69.8h0M344.0 77.3h0M345.4 51.8h0M344.6 74.9h0M342.0 79.2h0M343.0 87.5h0M344.2 67.2h0M345.7 100.7h0M341.7 77.6h0M340.4 52.7h0M345.5 95.7h0M341.9 63.0h0M343.6 56.9h0M344.4 75.0h0M342.3 67.8h0M343.1 56.9h0M344.0 77.8h0M340.8 54.1h0M341.4 76.6h0M341.0 98.5h0M342.6 70.3h0M344.0 83.8h0M344.3 64.5h0M341.1 79.3h0M342.5 61.5h0M343.5 52.2h0M342.8 50.0h0M345.7 77.5h0M343.2 87.5h0M340.8 99.9h0M341.8 69.9h0M341.5 68.8h0M340.6 77.5h0M341.4 71.1h0M343.4 72.2h0M345.6 98.6h0M341.7 61.6h0M345.5 67.3h0M344.5 83.8h0M345.4 83.1h0M344.6 67.2h0M344.3 63.5h0M340.5 73.3h0M345.2 70.0h0M341.1 93.9h0M344.1 56.4h0M341.5 87.1h0M345.3 80.0h0M342.7 68.0h0M340.8 97.1h0M343.3 92.8h0M343.0 101.1h0M342.5 81.9h0M344.2 94.6h0M344.5 66.9h0M342.3 80.1h0M342.0 102.3h0M344.7 75.4h0M341.6 60.3h0M341.1 52.8h0M342.4 91.4h0M344.3 92.3h0M343.5 75.1h0M342.1 83.2h0M344.5 94.2h0M343.6 78.2h0M342.4 77.6h0M341.1 66.0h0M343.6 82.7h0M342.8 88.7h0M343.3 66.7h0M340.6 72.0h0M340.5 89.5h0M340.4 109.7h0M342.4 108.3h0M350.1 56.6h0M349.0 74.7h0M350.7 70.4h0M353.4 70.7h0M349.0 70.5h0M353.2 59.8h0M351.4 72.4h0M350.9 52.8h0M352.2 61.8h0M349.3 57.5h0M350.6 74.1h0M350.7 81.7h0M349.5 70.1h0M349.1 55.0h0M350.8 72.0h0M353.7 61.1h0M352.8 78.3h0M348.6 56.7h0M348.7 65.9h0M351.9 59.2h0M353.3 67.5h0M352.8 53.2h0M353.7 68.8h0M350.4 85.3h0M350.4 52.1h0M349.5 78.0h0M350.3 67.4h0M353.2 78.5h0M352.0 65.4h0M348.3 64.5h0M348.9 71.2h0M350.0 54.1h0M352.0 70.6h0M350.7 70.7h0M352.4 79.7h0M348.7 60.5h0M349.7 73.4h0M353.0 81.1h0M350.3 58.8h0M350.1 67.1h0M353.1 51.4h0M348.5 68.5h0M349.0 52.6h0M350.0 58.0h0M351.8 51.9h0M353.4 59.5h0M349.8 51.9h0M350.2 92.7h0M350.5 80.6h0M349.4 63.7h0M352.0 81.0h0M349.3 93.6h0M348.8 68.9h0M351.0 66.1h0M350.4 78.7h0M352.8 72.0h0M351.9 55.4h0M353.5 59.7h0M349.5 92.3h0M349.7 85.9h0M353.0 111.0h0M367.3 84.9h0M364.3 97.0h0M364.5 57.8h0M364.3 54.8h0M364.3 65.7h0M364.4 84.3h0M366.2 67.8h0M369.5 78.0h0M367.7 61.2h0M365.6 61.1h0M367.6 57.4h0M364.4 77.5h0M365.3 70.9h0M368.5 77.7h0M369.6 65.3h0M369.4 75.4h0M366.7 61.9h0M366.1 58.9h0M364.7 59.7h0M367.2 97.0h0M365.6 59.0h0M369.5 58.7h0M369.1 58.4h0M365.1 65.5h0M365.4 62.3h0M369.1 85.5h0M369.4 63.7h0M364.5 72.9h0M369.6 72.4h0M365.8 84.1h0M366.8 59.2h0M364.9 81.1h0M368.7 78.8h0M364.8 68.7h0M365.5 72.2h0M365.3 86.8h0M369.0 58.7h0M366.5 62.9h0M366.1 79.7h0M367.2 76.3h0M365.6 58.7h0M366.8 65.4h0M366.2 72.8h0M369.0 60.4h0M367.9 75.3h0M365.4 80.0h0M367.9 52.6h0M366.5 74.4h0M365.9 76.9h0M367.9 87.5h0M368.3 75.8h0M369.3 57.5h0M365.2 61.7h0M365.2 72.1h0M366.0 84.0h0M364.4 89.0h0M366.1 71.3h0M365.1 94.9h0M369.5 96.8h0M364.7 113.0h0M381.5 45.8h0M383.4 57.4h0M384.1 68.3h0M382.0 75.1h0M384.3 73.6h0M384.5 86.8h0M385.4 61.3h0M384.4 86.6h0M380.4 49.1h0M380.7 88.7h0M382.3 52.0h0M383.5 91.9h0M380.5 70.4h0M382.8 79.5h0M383.4 69.0h0M382.9 59.0h0M382.3 41.5h0M382.9 53.0h0M381.3 84.2h0M380.5 56.1h0M383.7 63.9h0M380.7 58.3h0M383.6 70.8h0M384.4 62.7h0M383.1 68.8h0M385.0 72.3h0M385.3 62.5h0M381.3 65.4h0M384.0 48.4h0M382.1 68.0h0M384.6 64.6h0M380.5 78.5h0M381.9 71.4h0M382.0 62.9h0M382.9 78.4h0M380.6 55.4h0M385.5 77.2h0M382.7 42.1h0M383.1 79.6h0M381.4 54.2h0M383.5 48.9h0M385.3 64.7h0M384.0 70.3h0M384.3 61.6h0M381.9 68.4h0M381.0 59.2h0M381.2 80.0h0M380.6 57.2h0M382.8 65.6h0M385.4 70.4h0M384.6 54.1h0M381.8 78.9h0M385.2 66.0h0M380.4 46.8h0M381.6 54.3h0M380.2 63.4h0M381.4 53.0h0M381.0 76.3h0M380.4 58.8h0M382.8 66.6h0M381.9 68.7h0M383.1 75.3h0M384.5 66.1h0M383.2 79.4h0M381.2 57.1h0M382.9 46.9h0M383.2 50.9h0M381.3 59.8h0M384.5 48.4h0M384.0 45.2h0M382.9 76.3h0M382.0 54.7h0M381.1 55.8h0M380.4 58.0h0M385.4 89.4h0M384.3 62.4h0M385.0 85.6h0M384.1 68.1h0M380.4 68.8h0M382.6 69.3h0M385.6 62.4h0M383.5 41.1h0M384.4 54.9h0M385.5 64.3h0M381.7 79.9h0M382.5 32.4h0M384.2 72.8h0M384.7 43.5h0M384.8 76.1h0M382.6 55.3h0M382.1 63.3h0M382.2 71.8h0M385.1 75.8h0M384.2 77.7h0M380.5 53.3h0M383.5 60.3h0M383.3 61.0h0M384.9 53.6h0M384.8 69.6h0M380.8 73.6h0M381.8 64.6h0M383.0 42.0h0M382.3 67.6h0M380.4 64.7h0M381.1 50.6h0M385.3 79.4h0M385.2 57.1h0M383.8 78.3h0M384.5 64.4h0M381.8 77.0h0M381.7 69.0h0M385.4 57.6h0M382.5 63.3h0M381.2 74.2h0M382.9 45.4h0M381.2 56.2h0M383.3 55.6h0M382.8 69.2h0M380.3 85.9h0M384.4 39.9h0M381.9 55.9h0M384.8 71.7h0M385.4 75.1h0M382.6 80.7h0M382.1 71.8h0M382.9 49.8h0M382.6 34.5h0M382.6 81.6h0M382.7 72.0h0M384.9 72.1h0M380.5 75.9h0M380.3 73.4h0M383.5 66.5h0M383.8 58.1h0M384.5 81.3h0M381.8 63.4h0M382.0 61.4h0M384.5 57.9h0M385.5 35.2h0M385.5 58.4h0M385.6 60.1h0M382.4 62.9h0M384.4 74.4h0M385.3 61.3h0M385.4 56.3h0M383.0 75.3h0M381.2 83.4h0M383.8 84.6h0M384.6 57.1h0M385.5 60.5h0M380.8 40.2h0M383.6 52.2h0M384.0 63.2h0M382.3 65.4h0M380.5 48.2h0M383.9 56.2h0M383.9 58.7h0M385.5 86.9h0M384.3 59.5h0M380.5 55.2h0M384.7 73.0h0M383.9 71.8h0M384.6 63.5h0M381.9 37.6h0M380.6 89.1h0M400.6 66.8h0M396.7 34.3h0M400.9 46.2h0M397.9 60.1h0M397.1 68.7h0M398.8 82.1h0M401.1 40.2h0M397.2 48.3h0M398.7 49.0h0M396.7 64.7h0M396.6 55.8h0M397.5 51.5h0M398.1 54.4h0M397.7 61.6h0M398.8 94.8h0M398.3 54.3h0M398.4 62.1h0M400.1 62.9h0M396.7 52.9h0M399.8 43.5h0M396.5 92.2h0M397.3 43.4h0M401.4 34.0h0M401.0 46.1h0M400.2 53.5h0M399.4 76.8h0M399.4 66.0h0M398.8 34.9h0M397.4 103.7h0M397.7 37.6h0M401.0 45.4h0M398.0 61.6h0M401.0 40.4h0M399.4 81.2h0M399.0 90.1h0M397.7 67.0h0M400.5 76.7h0M397.7 33.2h0M397.7 66.9h0M397.1 64.0h0M397.2 61.8h0M396.6 39.1h0M400.2 77.3h0M399.7 69.0h0M396.2 66.9h0M397.2 31.5h0M398.0 36.5h0M398.0 63.4h0M397.6 51.9h0M398.9 75.6h0M397.4 72.6h0M401.2 26.2h0M399.5 85.1h0M397.3 105.4h0M397.3 103.4h0M401.3 103.2h0M412.6 66.2h0M414.7 77.4h0M416.6 79.9h0M412.5 85.2h0M414.5 65.8h0M416.5 88.2h0M413.3 40.1h0M416.7 51.8h0M412.7 74.8h0M416.0 93.3h0M414.6 84.8h0M416.9 44.5h0M417.4 80.8h0M412.1 70.9h0M414.3 73.0h0M414.1 54.8h0M416.1 91.8h0M416.3 62.6h0M413.6 61.8h0M412.4 74.0h0M414.2 62.2h0M416.3 69.0h0M416.7 47.3h0M416.9 68.0h0M416.4 59.0h0M413.1 39.6h0M415.3 70.3h0M416.2 61.3h0M415.0 45.2h0M414.7 56.8h0M416.1 69.9h0M413.9 70.3h0M416.9 57.8h0M416.1 33.0h0M414.3 92.3h0M412.9 61.2h0M413.9 54.6h0M414.9 55.4h0M414.1 68.9h0M412.7 79.2h0M417.0 32.8h0M413.9 39.8h0M416.3 80.3h0M413.7 79.8h0M415.4 103.5h0M416.7 74.3h0M413.6 54.3h0M414.2 80.5h0M413.1 83.7h0M415.9 76.4h0M414.6 84.5h0M417.3 56.3h0M413.8 68.8h0M417.0 54.9h0M412.7 75.4h0M412.9 59.3h0M415.0 55.0h0M417.1 56.0h0M417.2 64.9h0M415.3 65.6h0M414.5 69.8h0M417.1 68.0h0M414.8 61.5h0M412.6 72.1h0M412.1 73.5h0M417.0 41.6h0M414.4 99.1h0M414.8 86.0h0M416.1 69.5h0M415.2 89.1h0M416.8 37.8h0M412.1 63.7h0M415.0 75.6h0M415.1 83.0h0M413.4 77.8h0M415.9 33.7h0M414.8 63.5h0M417.1 67.0h0M415.2 55.7h0M414.3 80.7h0M415.9 74.2h0M413.9 81.9h0M413.8 57.8h0M414.7 66.7h0M415.7 33.4h0M416.6 34.9h0M423.7 53.3h0M423.1 54.4h0M424.4 47.8h0M425.0 41.6h0M420.3 63.8h0M424.8 51.5h0M424.6 55.0h0M424.8 42.8h0M422.4 67.1h0M420.5 53.9h0M424.7 63.0h0M422.0 59.1h0M424.2 66.5h0M424.1 59.5h0M424.9 79.1h0M424.4 60.4h0M421.9 60.7h0M422.6 72.4h0M420.5 52.4h0M420.4 54.0h0M422.2 97.4h0M421.9 53.5h0M424.3 69.1h0M422.1 69.1h0M423.2 55.9h0M425.0 55.6h0M425.3 70.3h0M421.8 69.7h0M421.6 60.0h0M423.1 79.2h0M422.5 47.4h0M425.1 63.9h0M421.6 50.4h0M421.2 90.1h0M423.7 90.3h0M439.5 50.9h0M438.5 98.6h0M437.5 84.1h0M439.1 71.3h0M436.4 78.6h0M439.8 88.8h0M438.7 71.2h0M439.6 75.7h0M437.9 73.9h0M440.6 60.1h0M440.4 107.2h0M438.0 70.8h0M439.7 69.2h0M439.6 70.2h0M438.9 63.7h0M438.1 66.0h0M439.7 78.4h0M440.5 57.8h0M436.5 79.2h0M437.6 62.2h0M440.2 91.1h0M440.9 78.1h0M439.4 75.3h0M441.4 97.2h0M438.8 95.8h0M437.6 77.2h0M439.3 80.6h0M440.0 75.1h0M436.4 67.3h0M437.8 67.0h0M436.0 66.1h0M440.3 57.5h0M441.2 72.2h0M439.8 60.5h0M436.8 91.0h0M437.9 62.5h0M437.3 106.6h0M439.2 72.2h0M440.5 72.4h0M438.0 51.6h0M436.1 67.5h0M436.6 71.3h0M438.3 58.2h0M437.6 54.7h0M441.1 70.7h0M436.4 60.8h0M437.1 62.7h0M438.0 72.0h0M438.6 77.3h0M438.9 75.8h0M437.1 63.1h0M440.3 48.7h0M436.3 94.1h0M440.6 72.1h0M440.0 75.5h0M439.6 83.1h0M440.5 62.9h0M436.0 106.2h0M440.9 77.9h0M437.0 78.5h0M440.0 47.9h0M437.7 97.1h0M439.7 63.1h0M440.3 107.9h0M436.7 80.9h0M439.1 89.1h0M441.0 92.8h0M441.2 71.8h0M436.1 89.0h0M438.2 53.0h0M437.8 95.4h0M439.3 82.1h0M437.1 77.9h0M437.4 71.9h0M436.0 63.6h0M441.3 79.9h0M439.8 80.9h0M436.2 47.1h0M437.2 111.3h0M439.5 68.2h0M438.9 63.5h0M440.8 81.7h0M438.7 87.8h0M439.9 81.1h0M440.2 91.5h0M436.9 85.8h0M436.8 66.4h0M440.1 94.0h0M437.5 89.8h0M438.0 113.0h0M438.3 81.4h0M437.1 100.8h0M441.4 84.8h0M440.3 80.4h0M439.7 75.7h0M436.6 63.3h0M438.7 61.1h0M439.2 66.4h0M440.0 77.3h0M438.6 45.2h0M441.1 79.1h0M440.9 83.2h0M437.7 93.6h0M436.2 85.1h0M436.7 94.2h0M436.9 67.5h0M438.2 65.2h0M439.2 64.3h0M440.7 64.3h0M440.0 92.3h0M437.6 96.9h0M438.0 86.1h0M436.0 76.2h0M440.4 74.7h0M437.8 74.7h0M436.3 72.8h0M437.7 67.1h0M440.8 102.9h0M437.1 77.7h0M440.3 69.7h0M436.3 58.3h0M438.4 88.8h0M440.6 67.2h0M437.2 89.7h0M441.1 65.9h0M438.3 75.1h0M441.0 108.0h0M437.5 83.8h0M441.0 75.0h0M440.6 61.0h0M440.7 96.1h0M438.5 70.7h0M437.9 64.6h0M439.5 99.6h0M440.6 85.9h0M437.9 63.5h0M441.1 110.3h0M438.6 46.0h0M453.2 52.5h0M454.8 64.3h0M454.9 44.7h0M456.4 21.9h0M455.2 48.0h0M456.3 54.8h0M452.9 71.7h0M455.3 48.3h0M456.1 44.9h0M453.7 64.3h0M455.4 56.5h0M454.5 48.6h0M456.5 37.0h0M456.5 47.9h0M452.9 75.8h0M454.8 67.8h0M455.7 51.3h0M456.4 68.0h0M455.7 54.0h0M455.1 44.3h0M452.8 45.7h0M454.1 48.4h0M454.1 43.2h0M453.8 53.2h0M455.9 55.4h0M455.1 53.5h0M455.5 66.8h0M453.1 64.9h0M455.6 54.7h0M455.0 62.7h0M455.4 34.6h0M455.5 74.2h0M455.3 62.5h0M452.6 63.9h0M456.9 49.1h0M452.3 59.8h0M454.3 56.8h0M456.9 56.8h0M456.2 67.5h0M453.3 59.2h0M452.6 59.4h0M455.0 51.2h0M457.0 68.3h0M452.8 52.5h0M454.7 37.4h0M453.9 40.9h0M456.3 50.8h0M454.7 51.2h0M452.4 27.0h0M456.8 71.5h0M463.7 60.6h0M460.7 68.4h0M463.0 61.3h0M463.3 78.5h0M463.1 49.8h0M463.6 57.0h0M464.6 79.3h0M461.3 56.5h0M461.9 74.6h0M463.6 48.4h0M461.1 85.4h0M462.9 50.4h0M464.1 60.7h0M461.2 52.4h0M460.5 63.5h0M463.7 39.5h0M464.2 54.6h0M462.4 59.7h0M464.1 64.8h0M463.6 67.9h0M465.0 69.3h0M460.5 65.3h0M462.0 58.0h0M460.9 49.8h0M463.4 68.1h0M463.1 48.5h0M464.6 64.3h0M462.4 66.4h0M461.2 50.1h0M462.5 73.3h0M462.9 64.7h0M460.0 59.6h0M464.4 57.4h0M460.0 58.6h0M460.2 47.7h0M463.9 62.3h0M462.3 59.2h0M461.4 54.2h0M460.7 39.0h0M462.6 71.1h0M465.2 62.6h0M465.1 79.8h0M464.7 51.3h0M461.9 67.6h0M460.6 65.3h0M462.5 59.9h0M462.1 44.2h0M462.2 39.9h0M461.4 50.1h0M464.5 71.9h0M463.6 49.0h0M463.5 55.0h0M462.8 66.0h0M464.4 63.8h0M463.3 71.4h0M464.7 67.0h0M462.6 43.8h0M464.6 56.5h0M463.0 66.8h0M460.5 44.7h0M461.2 64.4h0M460.8 68.9h0M461.6 68.6h0M463.2 56.9h0M463.0 53.0h0M461.5 63.3h0M462.4 52.5h0M465.0 54.9h0M462.9 61.1h0M463.3 50.9h0M461.3 43.8h0M460.5 57.2h0M460.5 61.1h0M463.1 50.8h0M463.9 72.6h0M464.1 62.2h0M462.2 69.5h0M462.3 53.0h0M464.9 59.7h0M464.1 81.3h0M463.1 68.3h0M460.0 61.8h0M461.4 44.8h0M463.7 58.0h0M464.9 65.9h0M460.1 62.1h0M464.9 47.2h0M464.3 81.0h0M462.4 60.0h0M461.6 56.7h0M460.3 54.4h0M463.2 48.8h0M464.5 60.6h0M463.6 43.7h0M462.9 45.4h0M462.1 73.4h0M462.8 68.7h0M463.9 57.3h0M460.5 70.6h0M464.7 54.2h0M463.1 44.2h0M460.1 71.1h0M460.0 83.4h0M460.0 52.0h0M464.7 48.0h0M463.2 80.3h0M463.9 57.4h0M464.5 55.9h0M463.8 53.4h0M463.6 69.2h0M461.2 84.0h0M462.6 45.4h0M461.0 60.6h0M464.9 56.3h0M461.9 64.2h0M460.5 83.4h0M464.8 82.7h0M461.8 60.7h0M459.9 55.5h0M464.9 54.2h0M464.4 75.4h0M460.2 48.7h0M461.1 63.9h0M463.1 66.4h0M462.4 56.5h0M463.8 50.9h0M460.9 64.0h0M461.8 66.6h0M461.0 65.4h0M461.4 48.8h0M462.7 58.0h0M460.7 55.8h0M462.8 45.6h0M465.1 46.8h0M462.7 50.7h0M462.6 55.3h0M463.6 73.8h0M464.8 80.0h0M463.0 55.0h0M464.3 50.8h0M463.0 69.3h0M462.8 67.3h0M460.3 50.0h0M460.6 65.2h0M464.8 65.8h0M462.3 60.2h0M463.8 78.5h0M464.5 60.9h0M459.9 62.9h0M465.0 73.4h0M463.0 78.6h0M463.9 73.7h0M461.1 84.1h0M461.6 59.1h0M463.5 55.2h0M462.2 48.8h0M460.7 60.0h0M464.2 49.8h0M460.2 53.3h0M464.8 70.6h0M464.4 53.7h0M463.1 54.3h0M462.5 65.0h0M463.5 64.4h0M462.9 66.6h0M462.6 35.7h0M460.7 38.4h0M460.4 107.5h0M478.9 47.3h0M481.0 62.2h0M478.5 50.2h0M478.4 44.1h0M481.0 53.1h0M477.3 78.0h0M478.7 42.1h0M476.5 56.5h0M479.6 46.9h0M479.6 55.6h0M477.0 45.3h0M477.9 68.9h0M478.8 68.7h0M478.0 69.1h0M476.4 60.7h0M477.7 45.7h0M479.2 51.0h0M481.1 59.2h0M481.0 42.4h0M476.2 49.2h0M480.4 70.0h0M479.4 63.6h0M478.9 48.6h0M476.5 49.9h0M478.6 64.5h0M477.8 43.6h0M476.5 61.4h0M479.7 63.6h0M478.0 54.5h0M480.4 57.1h0M481.1 44.0h0M476.8 55.3h0M480.8 51.5h0M476.5 78.2h0M477.4 54.1h0M476.9 58.4h0M476.7 77.5h0M476.2 43.7h0M479.1 83.0h0M479.9 76.8h0M487.0 61.4h0M487.2 80.4h0M487.3 64.5h0M486.6 83.0h0M486.4 64.4h0M484.0 96.9h0M488.0 100.8h0M484.0 57.9h0M484.8 91.5h0M485.4 66.9h0M489.0 95.1h0M486.5 63.5h0M486.2 89.6h0M484.0 72.7h0M486.3 73.5h0M486.5 94.5h0M485.0 49.6h0M488.7 108.6h0M487.6 84.2h0M485.2 68.5h0M483.9 48.5h0M486.4 75.1h0M488.5 36.9h0M487.7 84.8h0M484.1 60.0h0M483.9 48.5h0M483.9 40.4h0M485.1 67.1h0M485.9 64.2h0M486.9 72.8h0M487.7 66.9h0M486.7 87.4h0M488.3 79.2h0M486.1 71.9h0M484.5 50.9h0M487.0 91.2h0M484.0 55.3h0M485.7 43.0h0M484.1 94.1h0M488.5 46.2h0M487.1 45.7h0M487.2 48.9h0M486.7 88.4h0M486.2 79.2h0M483.9 69.9h0M488.3 48.9h0M488.4 73.2h0M486.4 94.3h0M485.0 34.4h0M485.3 86.3h0M487.9 91.6h0M486.6 66.4h0M488.8 61.6h0M489.1 48.8h0M487.5 61.8h0M484.0 54.6h0M484.2 77.2h0M484.8 80.7h0M485.6 49.3h0M488.3 70.5h0M486.7 82.7h0M484.7 67.4h0M483.8 76.7h0M487.1 69.7h0M488.8 82.0h0M485.6 66.9h0M486.1 79.0h0M488.8 61.0h0M488.8 53.4h0M486.1 73.7h0M487.1 91.3h0M487.0 85.5h0M488.2 36.9h0M487.4 87.6h0M484.8 73.7h0M487.3 55.8h0M485.2 46.3h0M488.7 47.3h0M483.9 77.5h0M486.5 71.5h0M489.1 76.8h0M489.0 52.5h0M484.5 98.6h0M485.2 55.4h0M487.1 27.3h0M484.9 73.0h0M488.9 66.2h0M486.5 55.3h0M485.0 94.5h0M489.2 102.5h0M486.0 69.6h0M486.6 62.8h0M486.0 86.8h0M487.0 56.6h0M484.2 57.1h0M486.3 96.0h0M486.2 74.2h0M485.2 55.5h0M486.0 66.9h0M487.0 41.3h0M486.6 57.0h0M486.9 53.6h0M484.7 70.7h0M484.5 59.5h0M484.8 76.3h0M486.4 37.4h0M485.7 80.5h0M485.4 107.6h0M487.4 47.1h0M484.1 110.4h0M487.3 65.1h0M484.6 60.9h0M485.4 44.8h0M486.6 65.2h0M486.8 93.4h0M484.5 72.3h0M484.5 75.0h0M484.1 79.9h0M486.7 71.5h0M485.4 88.4h0M489.0 100.1h0M484.4 79.5h0M484.4 75.1h0M487.2 52.9h0M488.1 82.7h0M487.5 73.8h0M487.5 53.7h0M488.7 74.1h0M487.8 107.8h0M485.5 40.5h0M485.3 52.6h0M484.7 27.8h0M486.5 53.7h0M489.1 73.6h0M486.8 56.7h0M487.6 68.7h0M485.5 47.0h0M484.1 83.2h0M488.9 105.0h0M486.2 43.8h0M483.8 60.7h0M486.9 98.0h0M484.9 61.7h0M483.9 55.5h0M484.1 67.6h0M487.5 28.2h0M486.2 66.8h0M484.1 63.8h0M484.3 75.8h0M488.2 44.9h0M485.7 58.2h0M486.1 88.5h0M488.0 46.3h0M488.1 87.6h0M484.1 61.3h0M488.3 50.6h0M488.0 78.9h0M485.0 59.2h0M486.6 92.4h0M485.1 87.4h0M487.2 47.3h0M486.2 60.7h0M488.7 79.6h0M485.5 57.1h0M485.4 51.0h0M488.9 44.6h0M488.1 46.6h0M486.7 44.0h0M488.0 56.8h0M483.9 85.3h0M487.6 70.7h0M485.5 76.0h0M485.1 81.9h0M484.6 103.8h0M488.5 67.8h0M486.5 78.9h0M486.5 82.3h0M487.6 73.1h0M489.1 112.6h0M485.7 71.6h0M488.8 106.2h0M488.1 33.3h0M504.3 46.5h0M504.9 42.1h0M504.9 42.2h0M503.2 46.6h0M502.6 59.1h0M504.9 55.8h0M503.4 38.9h0M503.3 48.0h0M500.4 56.1h0M504.4 49.4h0M503.6 61.5h0M504.6 40.9h0M504.9 45.1h0M500.2 49.0h0M502.7 45.9h0M501.8 49.1h0M503.2 41.6h0M504.7 42.3h0M502.3 66.1h0M509.6 55.2h0M509.0 71.1h0M511.5 61.6h0M507.9 62.7h0M512.2 70.4h0M510.7 48.6h0M509.7 63.2h0M512.2 46.5h0M509.3 76.5h0M511.5 73.3h0M509.0 65.1h0M512.2 57.1h0M509.5 80.4h0M511.1 67.2h0M510.5 58.4h0M510.4 72.9h0M510.8 63.6h0M511.3 58.1h0M512.2 63.3h0M508.9 77.9h0M508.4 67.2h0M510.1 58.8h0M512.4 61.0h0M512.1 63.4h0M511.4 55.7h0M508.3 43.0h0M509.3 12.6h0" stroke="#e82430" stroke-opacity="0.85" stroke-width="1.8" stroke-linecap="round" fill="none"/>
<path d="M31.7 60.1h0M32.0 60.2h0M34.0 70.7h0M31.8 63.6h0M34.8 66.3h0M30.9 47.3h0M32.8 64.6h0M31.9 56.6h0M34.7 56.4h0M32.9 72.1h0M34.5 59.1h0M33.9 64.1h0M30.2 57.6h0M30.0 64.1h0M31.4 62.4h0M30.4 59.3h0M29.7 66.2h0M30.4 69.0h0M31.6 74.1h0M35.0 51.1h0M30.1 58.2h0M31.0 57.5h0M29.7 49.7h0M30.4 66.9h0M32.5 65.0h0M33.4 34.8h0M30.5 104.0h0M37.8 41.6h0M40.1 60.9h0M41.6 54.7h0M41.1 56.4h0M39.7 55.7h0M38.7 55.2h0M38.8 28.9h0M40.0 54.6h0M38.1 58.2h0M38.9 73.9h0M42.4 38.8h0M39.8 51.9h0M39.4 61.2h0M42.8 58.1h0M41.0 67.6h0M39.0 76.2h0M40.0 62.8h0M42.3 59.5h0M41.4 50.5h0M40.7 55.0h0M42.6 47.9h0M42.8 51.5h0M38.4 59.3h0M42.7 66.0h0M41.7 51.2h0M37.8 50.7h0M42.5 67.9h0M38.3 49.6h0M41.3 70.5h0M40.4 58.0h0M38.8 37.0h0M39.2 53.1h0M41.0 58.3h0M38.8 53.5h0M41.4 40.8h0M40.3 29.2h0M39.0 41.9h0M38.8 44.0h0M39.8 75.3h0M41.9 35.9h0M38.7 79.7h0M42.0 61.9h0M41.7 57.3h0M40.2 37.7h0M39.8 53.1h0M38.4 77.5h0M42.8 69.2h0M37.9 60.7h0M42.3 63.3h0M42.6 48.6h0M42.6 59.0h0M41.2 48.3h0M39.4 56.6h0M39.1 62.8h0M38.2 60.6h0M39.5 66.1h0M39.9 44.7h0M39.6 71.4h0M39.5 51.8h0M39.8 52.6h0M37.8 50.2h0M42.5 59.9h0M42.4 46.5h0M42.7 65.9h0M41.4 68.2h0M37.6 59.1h0M41.0 67.4h0M38.8 53.3h0M42.7 67.5h0M39.9 77.4h0M38.6 54.4h0M42.0 71.5h0M39.3 63.4h0M41.8 56.2h0M41.6 66.8h0M37.8 47.3h0M42.9 60.3h0M39.0 47.3h0M40.3 70.9h0M38.8 48.0h0M41.2 49.8h0M41.2 60.3h0M39.2 48.0h0M41.6 54.7h0M38.9 46.5h0M40.7 56.9h0M42.9 56.5h0M41.9 59.2h0M38.1 58.8h0M42.1 53.2h0M39.2 66.1h0M42.8 89.4h0M39.6 54.6h0M39.0 34.1h0M38.1 59.6h0M38.7 54.8h0M38.7 64.7h0M41.1 45.1h0M39.3 63.6h0M39.3 61.6h0M40.5 44.7h0M39.7 43.7h0M38.1 56.8h0M39.8 52.9h0M42.7 56.9h0M39.5 77.3h0M42.9 71.6h0M41.5 66.7h0M42.4 43.6h0M39.8 60.3h0M38.4 51.5h0M41.0 57.3h0M40.9 50.3h0M38.4 71.7h0M42.6 76.7h0M41.9 90.2h0M38.3 34.4h0M40.2 54.3h0M39.7 65.2h0M42.0 53.6h0M38.8 74.3h0M42.0 54.4h0M39.7 48.3h0M38.2 43.2h0M42.4 63.6h0M41.7 57.4h0M38.2 32.9h0M41.0 50.7h0M40.7 68.8h0M40.0 50.6h0M40.9 62.6h0M41.7 48.1h0M38.5 55.5h0M38.3 68.4h0M40.0 81.4h0M41.0 82.9h0M41.8 103.0h0M56.3 40.1h0M55.7 76.0h0M58.3 61.2h0M55.9 56.2h0M55.4 53.6h0M54.4 51.7h0M58.0 65.9h0M58.3 63.7h0M58.9 73.0h0M54.3 48.0h0M56.2 66.9h0M56.9 63.0h0M58.9 59.5h0M55.7 57.1h0M57.2 51.6h0M58.1 48.9h0M54.6 50.6h0M54.9 53.5h0M58.9 41.2h0M54.2 45.0h0M54.1 47.5h0M56.3 71.1h0M57.9 56.1h0M57.7 54.9h0M55.4 57.3h0M54.0 55.1h0M55.4 62.1h0M53.8 48.0h0M58.7 61.7h0M54.9 60.6h0M58.1 56.7h0M57.9 40.4h0M58.7 48.7h0M54.8 62.4h0M54.7 57.0h0M56.1 41.2h0M54.4 37.4h0M58.8 55.6h0M54.1 62.1h0M55.7 57.9h0M58.0 75.8h0M54.5 79.1h0M53.7 71.3h0M54.3 40.2h0M55.0 67.0h0M55.9 46.9h0M54.4 54.0h0M55.5 53.6h0M58.6 62.7h0M55.9 52.2h0M54.9 75.0h0M55.5 43.1h0M54.7 47.3h0M56.3 36.6h0M57.7 75.1h0M56.6 55.0h0M54.0 79.9h0M55.2 41.1h0M56.5 55.7h0M55.1 68.8h0M54.7 54.8h0M55.0 66.9h0M57.7 43.6h0M54.2 56.4h0M57.2 45.9h0M55.7 45.9h0M54.8 62.0h0M56.9 69.1h0M58.4 63.1h0M53.7 56.8h0M54.6 59.2h0M53.7 57.4h0M54.5 66.3h0M57.4 75.3h0M57.2 53.7h0M58.0 38.8h0M53.7 49.4h0M53.8 72.7h0M57.8 65.1h0M57.6 83.0h0M55.6 63.6h0M55.0 60.6h0M55.8 50.2h0M57.5 63.2h0M55.9 56.6h0M55.8 64.8h0M54.2 32.5h0M57.3 64.9h0M56.5 60.9h0M56.4 64.6h0M55.4 62.7h0M55.2 87.5h0M57.1 62.4h0M56.3 80.1h0M55.4 49.7h0M54.3 52.6h0M57.9 68.9h0M54.4 39.0h0M56.0 50.5h0M54.1 49.5h0M54.6 42.7h0M54.6 44.3h0M54.1 72.2h0M55.5 34.5h0M53.6 46.9h0M54.0 53.0h0M56.5 53.1h0M55.8 69.7h0M53.5 41.7h0M56.9 53.7h0M54.9 46.3h0M53.7 56.5h0M55.1 62.7h0M58.1 56.3h0M57.7 54.0h0M55.3 39.5h0M55.2 64.9h0M55.5 45.9h0M53.7 68.3h0M57.9 60.4h0M58.6 46.0h0M54.4 46.3h0M53.9 55.5h0M55.9 55.6h0M53.7 58.5h0M57.4 35.3h0M58.1 49.0h0M55.0 54.5h0M55.8 62.5h0M57.1 71.7h0M54.4 42.6h0M56.5 68.7h0M54.0 57.3h0M58.7 47.3h0M58.8 44.3h0M57.9 43.5h0M56.8 59.5h0M58.6 33.8h0M55.1 65.4h0M53.7 57.2h0M55.9 57.0h0M55.5 63.9h0M56.4 72.0h0M54.1 49.9h0M56.5 60.5h0M54.9 43.8h0M54.9 51.8h0M54.7 44.0h0M56.3 56.2h0M55.7 67.8h0M58.2 65.7h0M57.6 57.2h0M57.4 64.3h0M55.6 50.1h0M56.5 30.1h0M57.7 64.9h0M55.5 42.8h0M54.7 52.5h0M55.8 31.3h0M58.2 61.1h0M58.2 64.5h0M55.3 59.4h0M58.0 45.4h0M57.5 49.5h0M53.7 45.2h0M56.5 71.3h0M58.5 59.8h0M54.5 66.3h0M56.6 57.7h0M54.1 32.2h0M56.5 56.6h0M55.6 82.4h0M56.4 63.4h0M58.6 46.2h0M54.3 42.0h0M57.8 74.5h0M57.9 63.2h0M56.1 61.8h0M55.6 41.7h0M53.9 41.9h0M58.3 47.7h0M54.4 64.3h0M56.6 53.9h0M53.5 72.0h0M53.6 55.1h0M53.7 67.6h0M55.0 44.7h0M54.9 67.4h0M58.7 58.2h0M56.5 51.4h0M57.7 61.3h0M55.5 59.2h0M58.2 58.5h0M55.1 38.1h0M56.3 71.7h0M56.5 44.0h0M55.3 75.8h0M56.1 57.1h0M54.8 66.2h0M53.5 49.8h0M55.9 67.8h0M54.4 51.1h0M55.2 60.4h0M58.6 43.5h0M56.7 63.6h0M56.6 41.7h0M57.7 75.6h0M53.9 47.4h0M55.0 65.0h0M54.4 68.9h0M54.7 50.5h0M56.8 43.7h0M54.6 56.0h0M56.7 45.5h0M58.2 68.0h0M54.5 45.3h0M57.0 63.5h0M55.3 51.2h0M55.7 59.4h0M53.8 29.0h0M56.9 51.1h0M56.7 65.9h0M53.6 52.0h0M58.8 37.5h0M57.4 77.1h0M54.3 55.1h0M54.0 59.7h0M56.4 46.0h0M57.1 50.2h0M57.5 53.0h0M57.6 41.2h0M57.7 48.8h0M55.0 57.4h0M54.2 41.4h0M57.0 78.0h0M58.8 59.4h0M54.0 54.9h0M53.8 59.1h0M54.5 61.9h0M54.3 82.1h0M58.5 63.4h0M57.7 66.0h0M56.2 50.2h0M57.8 46.7h0M58.4 83.5h0M53.9 66.0h0M58.2 77.9h0M55.7 77.3h0M56.9 40.1h0M54.9 69.5h0M54.6 50.2h0M55.1 57.3h0M56.6 65.3h0M58.2 61.4h0M57.9 71.3h0M56.1 58.1h0M57.2 53.2h0M56.6 62.1h0M58.3 58.8h0M58.2 47.8h0M58.9 76.0h0M54.1 62.3h0M58.4 63.7h0M54.0 63.6h0M54.0 60.7h0M57.4 53.3h0M53.7 57.6h0M57.2 61.1h0M54.8 46.0h0M53.6 54.9h0M58.2 68.0h0M54.2 54.5h0M57.2 75.2h0M56.2 89.3h0M56.2 53.4h0M54.7 57.3h0M57.5 32.5h0M54.9 72.4h0M56.3 59.4h0M55.5 61.6h0M57.0 47.3h0M57.2 73.0h0M57.4 49.9h0M55.8 64.9h0M55.6 77.8h0M58.9 77.0h0M58.5 83.5h0M55.5 60.6h0M54.1 62.7h0M58.4 67.0h0M55.3 44.0h0M55.2 56.4h0M57.5 64.1h0M56.7 45.5h0M56.9 78.0h0M57.3 57.5h0M56.8 88.4h0M56.9 64.6h0M56.8 58.2h0M56.1 67.7h0M56.1 44.1h0M58.5 54.3h0M56.4 56.2h0M54.4 66.9h0M57.0 65.9h0M58.2 69.3h0M58.0 39.0h0M54.3 76.4h0M55.4 36.7h0M55.9 55.1h0M58.9 52.3h0M56.1 68.1h0M54.3 76.0h0M56.3 53.7h0M55.3 65.4h0M54.6 65.1h0M54.5 68.7h0M55.3 56.9h0M54.0 61.7h0M54.6 40.6h0M56.8 73.9h0M55.9 75.1h0M55.1 72.0h0M57.9 71.7h0M56.6 54.6h0M58.7 52.1h0M57.1 47.5h0M57.6 60.1h0M56.2 63.8h0M53.6 62.5h0M56.0 34.8h0M56.1 47.0h0M56.2 53.7h0M57.1 52.0h0M53.7 57.4h0M57.7 56.1h0M54.7 42.5h0M54.1 72.4h0M56.6 67.1h0M57.3 50.0h0M57.2 53.0h0M58.9 65.4h0M54.3 61.8h0M53.5 50.0h0M54.9 49.4h0M58.1 38.8h0M55.8 56.1h0M58.2 60.3h0M54.9 74.1h0M56.4 57.6h0M56.1 72.3h0M57.8 67.4h0M56.5 47.3h0M56.4 62.1h0M55.3 45.8h0M55.1 76.2h0M56.7 49.7h0M55.9 63.4h0M55.8 80.2h0M58.2 77.8h0M54.5 60.6h0M57.8 56.1h0M57.1 29.8h0M58.0 82.4h0M54.6 82.5h0M57.7 20.0h0M73.5 41.6h0M74.2 48.8h0M73.2 51.6h0M69.8 37.3h0M70.9 76.8h0M69.9 64.1h0M73.8 59.5h0M69.8 39.5h0M69.5 69.0h0M70.9 54.9h0M72.4 55.2h0M73.9 80.9h0M72.8 55.4h0M72.5 64.4h0M70.6 36.1h0M72.3 44.6h0M69.6 65.8h0M69.8 47.7h0M72.6 53.0h0M72.6 34.3h0M74.8 63.4h0M71.2 36.8h0M72.0 43.4h0M73.1 52.6h0M71.3 48.2h0M71.0 52.3h0M72.2 67.8h0M73.2 56.3h0M72.5 52.1h0M73.5 61.5h0M73.3 76.3h0M70.6 54.3h0M73.3 45.4h0M71.4 64.6h0M74.8 50.6h0M70.4 54.0h0M73.8 66.6h0M70.0 59.4h0M72.0 52.8h0M73.7 62.6h0M70.1 62.7h0M72.2 62.9h0M69.6 62.4h0M74.5 52.8h0M73.4 42.2h0M74.0 55.7h0M70.6 75.6h0M69.5 49.2h0M71.9 52.1h0M72.3 38.5h0M72.8 64.3h0M72.9 55.9h0M74.3 66.7h0M72.6 36.5h0M71.9 41.9h0M73.3 73.7h0M73.4 65.4h0M71.6 64.9h0M70.7 52.6h0M72.0 62.7h0M72.7 60.4h0M74.8 47.8h0M73.7 78.8h0M73.4 78.5h0M74.7 20.0h0M81.2 60.3h0M79.3 78.7h0M79.8 69.4h0M82.4 54.0h0M82.8 57.7h0M78.8 55.1h0M78.7 63.2h0M79.2 67.5h0M82.2 75.5h0M78.0 51.6h0M80.8 43.8h0M82.6 58.9h0M80.9 56.6h0M79.6 55.5h0M82.6 53.0h0M79.0 52.4h0M78.8 69.0h0M78.4 60.8h0M81.1 60.0h0M78.7 63.3h0M81.1 37.5h0M82.6 56.4h0M81.0 53.1h0M79.0 56.2h0M77.5 45.3h0M78.0 41.2h0M81.1 75.9h0M88.2 43.2h0M87.3 51.3h0M89.7 43.0h0M90.7 65.8h0M89.2 52.8h0M87.0 69.2h0M86.4 46.7h0M89.0 61.5h0M90.8 41.7h0M86.4 59.0h0M89.5 54.2h0M90.4 56.3h0M88.1 57.7h0M90.5 42.5h0M88.4 72.1h0M89.7 49.5h0M86.8 77.6h0M88.1 56.3h0M85.4 63.7h0M89.4 46.7h0M88.2 52.6h0M90.3 55.8h0M89.3 57.8h0M89.2 60.6h0M90.4 56.5h0M87.8 58.9h0M89.7 66.2h0M87.9 63.4h0M87.2 39.6h0M86.4 59.2h0M88.7 50.3h0M86.6 61.1h0M87.1 60.3h0M88.0 54.9h0M88.0 58.6h0M86.4 51.5h0M86.3 54.1h0M90.6 47.0h0M87.7 57.6h0M87.5 57.0h0M88.5 44.5h0M89.3 74.6h0M90.3 46.2h0M87.0 57.9h0M89.3 52.5h0M87.4 49.2h0M88.6 74.7h0M90.5 40.3h0M86.4 57.9h0M89.7 53.3h0M88.0 49.5h0M90.2 69.2h0M90.4 86.7h0M87.2 45.3h0M89.6 57.2h0M87.5 72.4h0M88.3 69.1h0M89.8 61.4h0M85.5 77.1h0M89.7 39.3h0M85.7 52.7h0M89.3 43.8h0M88.4 69.5h0M90.4 64.9h0M89.4 51.0h0M85.9 57.3h0M88.6 65.4h0M85.7 42.2h0M89.2 37.3h0M86.3 62.4h0M89.0 41.7h0M90.7 63.4h0M86.7 67.6h0M90.7 52.1h0M86.3 67.3h0M89.4 73.7h0M89.1 45.7h0M89.6 69.5h0M90.1 38.0h0M87.5 76.5h0M90.3 68.6h0M86.3 72.6h0M85.4 54.4h0M88.2 37.4h0M87.6 57.6h0M89.3 57.0h0M90.5 69.9h0M87.1 49.8h0M90.3 48.4h0M89.8 55.8h0M87.1 33.8h0M88.7 32.1h0M88.0 46.5h0M85.8 52.5h0M86.2 40.4h0M90.3 48.5h0M90.4 56.9h0M85.9 56.6h0M90.1 72.4h0M86.8 53.6h0M85.9 55.3h0M86.5 62.4h0M87.4 68.4h0M90.8 46.0h0M89.7 57.3h0M90.0 41.9h0M87.9 77.3h0M86.2 47.5h0M90.7 48.7h0M86.1 51.2h0M86.7 46.8h0M88.0 69.1h0M90.2 73.6h0M87.9 56.1h0M87.2 41.8h0M86.1 50.4h0M86.4 48.7h0M86.3 36.1h0M89.6 59.3h0M86.6 43.4h0M90.6 37.9h0M88.3 50.5h0M85.9 62.9h0M89.1 48.9h0M87.9 47.6h0M90.4 61.3h0M88.4 48.4h0M86.1 45.0h0M86.8 66.2h0M89.5 53.9h0M90.2 56.4h0M90.7 60.7h0M90.6 51.2h0M87.1 68.3h0M86.0 46.2h0M88.4 42.8h0M87.3 38.6h0M88.3 58.9h0M87.3 65.0h0M90.6 48.4h0M85.7 57.2h0M86.5 61.8h0M89.9 65.2h0M90.4 48.9h0M89.2 63.3h0M87.7 49.0h0M88.4 45.5h0M90.2 62.0h0M85.4 54.3h0M89.9 38.6h0M86.8 49.3h0M87.1 54.8h0M89.1 84.7h0M90.7 50.6h0M86.8 69.4h0M88.9 62.1h0M90.7 73.6h0M86.2 35.5h0M87.3 43.2h0M86.1 34.7h0M88.6 52.2h0M88.1 54.3h0M87.6 63.7h0M85.7 59.4h0M89.5 64.9h0M86.7 56.5h0M87.5 52.7h0M86.6 46.8h0M87.8 59.0h0M88.6 52.8h0M85.8 68.8h0M88.9 50.8h0M88.1 47.5h0M86.2 62.9h0M90.3 44.0h0M86.3 31.0h0M90.0 55.5h0M88.8 58.0h0M87.2 59.7h0M89.2 47.3h0M89.0 65.4h0M85.9 66.5h0M86.6 43.6h0M85.9 50.3h0M87.2 43.4h0M86.6 33.4h0M87.7 83.4h0M88.3 31.5h0M85.9 93.0h0M95.2 51.8h0M94.9 29.0h0M95.3 80.4h0M96.2 61.2h0M97.9 65.8h0M98.5 55.8h0M94.2 29.8h0M95.8 67.8h0M97.6 40.5h0M95.4 49.6h0M94.5 50.1h0M97.0 48.2h0M94.4 46.4h0M97.1 61.3h0M94.1 51.1h0M96.1 81.9h0M94.1 57.7h0M94.1 33.0h0M96.3 48.6h0M96.4 45.6h0M97.8 50.9h0M95.3 37.0h0M97.8 61.1h0M96.6 48.5h0M98.6 30.9h0M97.9 65.5h0M96.2 59.4h0M95.7 58.1h0M96.2 43.3h0M98.2 47.9h0M95.2 31.5h0M96.7 55.9h0M94.9 36.0h0M98.2 63.1h0M95.7 58.5h0M98.3 74.3h0M94.6 63.4h0M96.3 50.8h0M94.1 59.3h0M97.6 71.4h0M98.5 42.0h0M97.8 59.9h0M95.5 60.6h0M98.5 39.9h0M96.1 43.5h0M97.4 47.5h0M94.5 44.2h0M96.9 51.9h0M94.2 59.9h0M96.1 52.8h0M97.2 36.0h0M93.9 44.1h0M95.9 60.1h0M94.5 53.8h0M97.7 47.0h0M96.3 41.4h0M94.0 51.6h0M98.0 41.6h0M97.7 48.4h0M98.5 57.9h0M95.6 45.6h0M94.5 55.7h0M94.1 37.8h0M94.4 45.4h0M95.7 36.5h0M93.4 34.8h0M93.6 58.0h0M96.2 57.5h0M95.0 54.1h0M96.4 62.2h0M95.9 77.3h0M97.1 79.1h0M103.0 46.3h0M105.7 55.9h0M106.1 58.5h0M104.0 43.0h0M106.7 66.9h0M104.7 51.9h0M102.3 54.7h0M101.4 45.5h0M106.5 52.8h0M105.5 27.1h0M103.0 60.1h0M104.8 38.9h0M104.6 61.7h0M103.1 58.9h0M101.6 44.5h0M105.1 36.3h0M104.5 69.8h0M103.4 34.6h0M101.7 52.7h0M104.0 61.2h0M105.3 61.2h0M101.9 58.3h0M106.6 36.9h0M106.1 44.9h0M106.3 58.9h0M102.6 55.8h0M102.9 46.2h0M103.1 81.1h0M104.4 56.3h0M106.7 40.7h0M104.3 56.4h0M104.7 65.7h0M104.2 56.7h0M101.4 37.9h0M101.6 66.7h0M104.8 66.9h0M103.4 46.7h0M104.2 51.8h0M104.5 51.3h0M106.5 54.3h0M103.4 54.7h0M102.3 69.5h0M106.4 58.6h0M104.0 72.8h0M105.9 63.4h0M106.3 53.7h0M102.2 60.3h0M105.1 52.2h0M105.6 52.9h0M105.7 49.6h0M106.4 65.7h0M101.3 37.9h0M101.8 46.9h0M104.7 42.6h0M103.1 43.1h0M103.0 47.3h0M105.9 73.3h0M102.7 53.3h0M106.0 32.0h0M105.1 62.7h0M105.5 80.6h0M101.8 51.1h0M103.8 46.2h0M101.9 52.7h0M102.2 76.0h0M101.8 62.1h0M102.6 32.8h0M103.5 64.0h0M103.2 41.2h0M105.2 55.3h0M105.1 41.6h0M102.9 32.6h0M102.5 38.6h0M106.0 82.7h0M103.4 67.7h0M103.7 44.7h0M102.7 76.1h0M104.0 45.9h0M103.6 48.2h0M103.4 28.9h0M103.3 56.7h0M105.3 49.2h0M103.0 64.8h0M103.7 78.2h0M106.2 49.6h0M106.5 54.3h0M104.8 79.1h0M106.7 53.3h0M105.7 52.9h0M102.5 65.1h0M103.5 53.3h0M105.3 50.6h0M102.5 71.1h0M104.4 55.7h0M104.7 30.1h0M101.7 66.5h0M103.7 60.4h0M103.2 42.9h0M106.4 74.2h0M103.6 80.7h0M104.0 79.3h0M104.4 93.0h0M102.2 101.0h0M119.1 55.6h0M117.3 61.4h0M121.5 68.1h0M118.5 59.8h0M121.2 57.8h0M120.3 57.6h0M119.3 56.2h0M122.0 61.7h0M119.3 47.5h0M118.4 67.3h0M121.3 50.9h0M121.4 72.2h0M138.0 54.0h0M135.4 54.8h0M136.2 72.2h0M138.0 61.3h0M133.6 57.1h0M133.4 43.7h0M136.2 61.8h0M136.2 67.7h0M133.7 60.5h0M136.6 95.7h0M138.2 73.1h0M134.5 69.6h0M136.1 82.9h0M136.0 36.1h0M135.3 48.4h0M138.4 46.2h0M134.8 69.8h0M137.5 91.3h0M136.9 59.9h0M137.5 33.8h0M133.2 77.2h0M135.8 51.1h0M135.0 61.4h0M135.2 61.3h0M133.4 77.8h0M136.3 80.3h0M135.6 56.3h0M137.7 27.1h0M134.8 75.8h0M138.5 94.5h0M137.6 81.1h0M135.1 78.1h0M138.5 41.5h0M134.4 84.2h0M134.7 49.1h0M134.8 62.5h0M136.4 56.3h0M136.9 67.5h0M135.7 61.5h0M135.7 77.3h0M137.8 49.7h0M137.6 59.5h0M134.6 66.0h0M133.8 67.4h0M135.1 68.9h0M137.7 95.4h0M135.0 82.6h0M138.4 44.8h0M133.5 63.7h0M138.5 65.1h0M135.2 91.0h0M138.4 58.0h0M138.3 53.8h0M135.1 60.4h0M138.3 51.8h0M137.6 79.7h0M138.3 76.8h0M136.3 63.1h0M136.7 74.4h0M133.6 96.6h0M134.0 65.6h0M137.5 63.2h0M138.4 52.0h0M134.7 64.0h0M137.1 86.5h0M135.4 69.7h0M134.3 61.9h0M136.1 44.1h0M138.2 49.0h0M135.4 52.9h0M133.2 73.8h0M133.9 70.3h0M137.8 49.8h0M133.2 92.5h0M135.2 59.7h0M134.5 69.1h0M134.3 93.9h0M133.8 57.7h0M138.5 93.1h0M135.7 52.6h0M137.0 67.6h0M134.2 69.9h0M135.6 67.3h0M137.2 58.8h0M133.9 66.8h0M135.7 70.8h0M136.5 67.9h0M135.7 79.3h0M138.6 68.1h0M134.4 70.6h0M134.5 79.4h0M135.3 66.3h0M136.7 48.8h0M135.0 81.2h0M134.8 46.7h0M136.6 65.9h0M133.2 68.8h0M135.5 39.9h0M136.6 51.8h0M135.4 53.6h0M136.5 70.3h0M137.4 70.2h0M134.9 41.8h0M133.4 72.5h0M137.6 75.9h0M135.3 56.9h0M135.6 56.2h0M138.1 70.8h0M133.9 57.0h0M136.8 60.7h0M134.6 54.4h0M133.3 62.9h0M133.5 61.8h0M137.6 44.9h0M133.8 59.3h0M137.4 85.1h0M133.3 79.5h0M137.7 65.6h0M137.8 34.1h0M133.2 54.1h0M137.3 48.3h0M138.5 92.6h0M138.4 42.3h0M134.4 69.3h0M138.5 84.6h0M133.9 51.0h0M137.0 67.1h0M135.0 53.1h0M137.0 73.1h0M137.8 81.3h0M135.4 76.0h0M133.7 68.7h0M133.4 43.0h0M136.5 29.9h0M137.6 64.0h0M136.2 70.4h0M134.0 71.4h0M138.2 43.4h0M135.9 66.8h0M136.1 81.4h0M136.3 70.5h0M137.4 73.5h0M138.5 39.6h0M133.8 69.8h0M133.9 85.7h0M133.2 56.4h0M134.3 62.3h0M134.5 52.8h0M135.1 82.1h0M137.7 35.9h0M133.2 32.2h0M135.7 93.9h0M138.0 100.0h0M136.2 115.0h0M136.5 131.0h0M151.1 43.1h0M150.3 48.2h0M154.4 50.3h0M153.4 46.8h0M153.3 54.5h0M149.8 43.4h0M153.5 49.8h0M151.7 47.9h0M151.8 57.6h0M153.8 52.1h0M149.9 54.3h0M149.7 55.1h0M153.0 42.2h0M153.8 51.5h0M149.4 52.3h0M150.4 35.2h0M157.4 66.7h0M160.4 85.2h0M160.2 72.3h0M157.9 58.3h0M160.6 86.8h0M161.2 81.0h0M160.0 105.8h0M157.5 83.7h0M162.4 83.7h0M159.7 97.9h0M160.9 92.8h0M159.4 86.0h0M157.9 85.6h0M157.4 58.3h0M158.5 96.5h0M157.6 76.9h0M161.3 75.9h0M160.4 79.9h0M159.9 84.3h0M157.8 76.0h0M160.2 87.1h0M159.7 77.3h0M157.2 88.0h0M162.5 83.0h0M157.9 81.3h0M161.4 77.8h0M161.1 67.3h0M160.0 82.6h0M158.5 76.3h0M157.5 98.6h0M159.7 81.9h0M157.5 78.9h0M160.0 83.1h0M158.3 73.2h0M162.2 98.5h0M158.6 95.9h0M159.0 81.5h0M162.3 81.5h0M158.6 66.0h0M161.7 90.6h0M162.2 85.3h0M159.4 82.0h0M161.8 104.3h0M157.1 86.4h0M160.6 92.8h0M161.9 92.7h0M162.3 68.5h0M157.4 68.1h0M157.9 81.9h0M161.5 70.4h0M161.0 93.4h0M161.4 81.0h0M158.1 82.1h0M161.7 72.1h0M162.5 82.4h0M158.9 85.4h0M159.0 78.9h0M160.0 88.6h0M159.6 99.8h0M159.9 104.2h0M157.9 104.4h0M177.4 89.2h0M177.3 87.0h0M177.7 83.8h0M175.5 77.1h0M173.5 74.7h0M173.7 78.7h0M175.2 82.4h0M178.1 83.0h0M175.5 74.9h0M173.6 81.1h0M177.1 90.4h0M173.6 85.4h0M177.8 85.7h0M177.1 87.3h0M177.7 78.5h0M175.8 83.4h0M174.7 86.4h0M175.3 82.0h0M176.8 72.3h0M175.7 67.5h0M174.6 95.8h0M174.1 73.2h0M173.8 77.1h0M173.3 79.1h0M174.0 66.6h0M175.4 91.0h0M173.6 83.9h0M173.5 78.6h0M177.0 66.6h0M176.3 85.8h0M176.8 82.3h0M175.3 81.7h0M177.7 87.8h0M177.2 78.1h0M175.0 78.7h0M176.6 74.0h0M173.9 88.1h0M178.3 74.5h0M173.2 81.6h0M173.2 76.3h0M177.1 85.7h0M175.0 72.1h0M174.9 79.7h0M178.2 78.6h0M178.0 85.6h0M175.9 88.9h0M174.2 83.4h0M174.8 91.7h0M177.5 87.3h0M175.8 96.4h0M176.8 96.1h0M176.2 106.0h0M191.6 81.1h0M190.9 84.5h0M194.3 70.2h0M193.3 87.5h0M191.7 65.4h0M190.2 59.4h0M191.4 47.4h0M191.2 95.0h0M193.0 78.4h0M193.7 86.5h0M191.5 89.6h0M190.4 90.7h0M194.0 86.4h0M190.6 47.8h0M192.6 55.3h0M193.3 69.2h0M190.1 45.9h0M192.9 49.9h0M190.5 65.6h0M193.0 71.1h0M194.2 71.7h0M190.0 74.1h0M191.8 59.5h0M190.7 36.3h0M189.2 61.5h0M193.0 66.4h0M192.6 58.1h0M192.2 74.4h0M190.8 81.7h0M189.3 71.0h0M192.5 55.8h0M193.0 65.9h0M189.4 74.3h0M189.6 80.8h0M190.4 87.6h0M193.0 70.2h0M191.4 57.3h0M193.2 65.5h0M192.8 56.9h0M192.7 44.8h0M194.3 88.0h0M193.1 66.0h0M193.9 72.1h0M191.0 62.8h0M190.5 56.7h0M192.8 71.5h0M193.6 64.9h0M189.1 72.9h0M190.2 75.7h0M189.2 52.1h0M189.3 71.6h0M191.9 77.0h0M194.0 70.4h0M189.6 64.2h0M193.9 71.3h0M193.0 89.9h0M193.2 51.1h0M192.0 70.5h0M192.2 64.4h0M192.6 72.6h0M191.8 61.1h0M190.4 68.7h0M192.5 92.9h0M191.7 63.6h0M189.1 52.0h0M189.4 44.9h0M191.4 64.8h0M190.8 83.0h0M191.6 51.7h0M192.7 52.0h0M192.3 70.9h0M191.6 44.1h0M190.9 61.0h0M192.5 57.7h0M191.4 65.7h0M191.0 38.5h0M192.3 79.3h0M194.0 50.5h0M192.1 71.7h0M194.3 78.9h0M189.9 86.4h0M192.6 78.3h0M189.1 62.6h0M189.7 68.0h0M192.9 67.4h0M191.2 69.6h0M192.3 74.9h0M189.7 87.2h0M192.7 57.5h0M192.3 70.4h0M193.3 77.8h0M192.9 83.5h0M190.9 67.0h0M194.2 70.7h0M194.3 70.1h0M190.6 55.8h0M191.5 73.1h0M191.2 85.9h0M193.0 60.6h0M193.9 84.1h0M191.1 66.0h0M190.9 73.1h0M190.6 59.7h0M190.9 57.1h0M192.6 46.1h0M193.4 85.1h0M192.0 65.3h0M191.5 56.8h0M192.9 42.6h0M191.0 68.8h0M193.8 70.4h0M191.0 59.7h0M192.2 87.2h0M194.0 70.9h0M192.0 64.9h0M192.8 83.5h0M189.6 54.9h0M192.9 54.9h0M191.7 54.6h0M191.4 67.1h0M194.2 66.6h0M193.1 84.3h0M192.0 47.7h0M192.6 69.1h0M191.6 63.9h0M190.5 55.5h0M191.8 73.2h0M193.8 80.9h0M191.1 60.7h0M190.9 62.1h0M190.8 74.3h0M189.3 82.5h0M192.0 63.0h0M193.1 64.5h0M191.7 84.7h0M193.6 51.2h0M192.4 68.2h0M190.9 79.6h0M191.9 69.5h0M193.0 89.1h0M193.0 77.6h0M193.5 62.2h0M192.7 81.1h0M189.0 61.7h0M191.2 54.4h0M192.2 42.9h0M191.2 64.9h0M189.7 65.4h0M190.3 54.1h0M190.4 70.5h0M189.9 84.2h0M192.4 40.6h0M189.8 89.4h0M192.9 48.7h0M192.6 49.2h0M192.7 59.4h0M189.3 66.5h0M193.7 62.2h0M192.4 60.3h0M192.5 71.8h0M193.5 49.6h0M192.6 56.1h0M191.3 57.7h0M190.9 62.5h0M191.5 59.2h0M193.1 74.9h0M190.0 92.8h0M190.2 59.0h0M190.7 52.3h0M193.2 52.5h0M190.0 64.9h0M189.5 36.3h0M193.5 40.2h0M189.2 108.0h0M210.0 63.7h0M206.9 60.3h0M205.8 62.7h0M207.5 89.7h0M206.0 75.6h0M208.3 72.5h0M208.3 65.0h0M205.9 54.1h0M208.2 50.1h0M209.6 67.0h0M207.7 68.9h0M205.5 73.3h0M206.5 66.0h0M205.3 52.7h0M206.0 48.2h0M206.6 57.7h0M207.6 50.2h0M208.0 69.0h0M208.5 60.9h0M205.2 60.4h0M207.1 63.0h0M205.5 75.5h0M208.9 55.1h0M205.9 80.5h0M205.8 65.5h0M210.3 78.6h0M207.4 75.7h0M205.4 66.3h0M209.0 80.3h0M205.7 78.1h0M207.9 91.9h0M206.2 89.3h0M218.1 56.7h0M214.7 82.1h0M215.4 61.5h0M216.9 49.8h0M215.5 53.7h0M217.9 59.0h0M215.9 75.2h0M217.9 56.8h0M214.2 50.8h0M216.1 64.7h0M217.4 86.8h0M214.5 52.4h0M213.8 48.8h0M216.3 88.4h0M216.8 58.7h0M213.7 61.2h0M214.1 55.2h0M218.1 74.7h0M216.5 60.2h0M216.2 67.3h0M217.0 71.0h0M218.1 68.0h0M217.9 67.8h0M213.9 91.3h0M213.6 55.2h0M213.0 56.0h0M216.7 67.1h0M214.0 51.0h0M214.8 57.7h0M214.9 76.5h0M215.1 69.3h0M217.3 62.9h0M213.1 51.1h0M215.8 58.6h0M214.1 78.3h0M213.6 53.5h0M217.2 40.6h0M215.3 75.8h0M216.6 44.3h0M214.9 77.5h0M217.0 63.6h0M217.6 86.1h0M213.7 62.0h0M213.0 56.9h0M217.4 63.0h0M213.4 86.8h0M214.4 71.5h0M217.8 65.9h0M217.4 90.1h0M213.0 79.5h0M214.0 55.8h0M213.8 82.5h0M215.1 71.9h0M214.5 76.1h0M215.9 70.8h0M216.8 58.1h0M216.0 41.2h0M216.0 51.8h0M215.8 71.5h0M215.1 77.4h0M216.1 63.6h0M216.1 78.4h0M217.6 56.9h0M217.3 73.3h0M213.7 77.4h0M217.2 68.5h0M218.0 62.6h0M215.2 63.4h0M214.1 81.6h0M213.9 79.4h0M213.6 73.3h0M214.1 61.3h0M213.7 59.6h0M216.1 50.6h0M213.1 47.1h0M215.0 42.4h0M214.4 55.5h0M214.4 91.4h0M214.5 51.2h0M216.6 78.7h0M216.1 83.3h0M216.4 76.4h0M217.3 67.4h0M214.1 63.1h0M214.5 66.3h0M217.8 59.8h0M218.1 62.0h0M214.8 71.6h0M214.3 71.6h0M214.0 88.5h0M216.0 86.6h0M215.3 82.6h0M217.6 51.6h0M217.2 72.9h0M212.9 77.9h0M218.0 54.8h0M217.9 64.5h0M217.8 76.2h0M214.4 51.7h0M214.3 63.8h0M214.6 56.8h0M214.9 86.7h0M215.8 60.2h0M213.0 60.0h0M215.8 82.6h0M218.1 64.4h0M218.1 59.1h0M215.1 78.0h0M214.1 79.6h0M218.2 64.5h0M215.0 68.9h0M215.7 62.6h0M214.6 56.4h0M218.1 55.5h0M216.4 73.4h0M216.5 52.1h0M214.8 60.0h0M215.9 67.9h0M214.5 64.8h0M218.1 53.5h0M215.0 56.7h0M215.7 61.0h0M213.9 86.2h0M214.4 56.7h0M216.0 39.1h0M215.3 79.4h0M217.2 50.1h0M215.8 57.0h0M214.9 49.4h0M218.2 73.4h0M217.9 62.3h0M215.2 69.8h0M218.1 41.7h0M214.0 79.2h0M216.2 48.3h0M214.3 81.3h0M215.0 46.9h0M214.0 57.3h0M215.6 39.4h0M214.4 97.4h0M216.8 33.0h0M225.5 80.8h0M221.1 92.5h0M223.1 63.0h0M225.5 64.0h0M223.4 74.9h0M224.2 56.6h0M225.2 60.6h0M223.6 80.0h0M226.0 93.6h0M225.7 64.9h0M225.7 51.7h0M225.1 86.1h0M224.6 92.7h0M221.9 63.7h0M226.2 90.4h0M224.9 59.3h0M223.6 67.8h0M222.7 94.3h0M222.1 84.3h0M225.1 68.5h0M221.9 71.5h0M225.2 39.2h0M240.2 47.9h0M241.2 50.8h0M237.8 55.1h0M242.0 47.4h0M239.6 51.9h0M241.0 52.1h0M241.6 45.1h0M237.9 67.1h0M236.9 74.6h0M237.8 46.4h0M240.2 77.3h0M241.0 54.4h0M237.1 75.6h0M241.0 43.9h0M241.7 71.3h0M238.7 39.7h0M241.8 50.0h0M238.2 48.3h0M239.0 56.8h0M237.5 46.9h0M240.9 52.2h0M241.1 38.9h0M236.8 58.6h0M238.2 33.1h0M239.2 79.6h0M240.4 31.2h0M237.3 62.5h0M240.4 34.8h0M241.0 61.3h0M239.6 29.9h0M237.2 48.4h0M238.3 60.4h0M238.2 51.9h0M237.8 40.9h0M237.1 75.2h0M236.8 37.0h0M241.4 67.4h0M236.9 35.1h0M238.6 53.4h0M238.5 43.1h0M240.6 74.5h0M238.0 49.5h0M239.4 54.3h0M237.4 61.1h0M237.5 47.4h0M239.8 76.8h0M241.0 58.7h0M239.4 79.2h0M240.1 38.7h0M241.6 48.3h0M237.7 41.9h0M242.0 63.4h0M239.2 50.5h0M241.6 36.2h0M240.8 59.5h0M239.4 51.7h0M239.1 50.5h0M238.4 49.2h0M238.7 59.6h0M237.4 49.4h0M240.6 56.2h0M239.5 76.8h0M240.0 55.2h0M237.1 47.0h0M238.1 41.7h0M240.5 45.2h0M238.2 50.8h0M238.5 42.7h0M239.9 54.7h0M241.7 71.7h0M237.9 55.8h0M239.7 49.1h0M240.6 42.8h0M239.6 72.7h0M238.8 49.8h0M240.7 68.3h0M240.2 49.2h0M241.7 47.1h0M238.2 35.0h0M239.0 59.6h0M240.0 49.0h0M238.4 61.1h0M239.0 51.6h0M241.4 46.8h0M238.9 34.8h0M240.2 40.1h0M240.6 44.0h0M242.0 43.2h0M241.5 47.3h0M239.1 36.7h0M237.9 64.0h0M238.4 75.5h0M239.3 53.0h0M239.5 76.6h0M241.7 56.7h0M241.4 71.9h0M237.1 63.9h0M238.6 65.4h0M239.7 50.2h0M239.8 49.1h0M241.6 46.9h0M238.5 57.0h0M241.1 63.1h0M239.3 31.3h0M237.0 46.0h0M236.8 58.2h0M239.7 41.3h0M241.9 28.0h0M237.0 22.1h0M240.3 67.6h0M240.2 43.2h0M242.2 41.3h0M237.8 41.5h0M237.9 53.3h0M237.9 45.4h0M238.1 30.4h0M238.2 58.6h0M237.0 51.0h0M240.4 56.2h0M241.6 47.5h0M238.9 53.9h0M237.1 49.0h0M237.9 41.0h0M240.1 59.2h0M240.5 64.3h0M241.0 54.8h0M237.0 55.9h0M238.3 71.0h0M241.6 56.2h0M241.3 44.9h0M241.6 69.8h0M241.8 63.1h0M241.9 38.5h0M240.6 55.1h0M236.9 33.0h0M241.5 31.6h0M242.0 49.2h0M238.2 59.3h0M238.7 66.3h0M241.1 58.3h0M238.0 40.0h0M240.1 62.6h0M239.5 77.9h0M241.1 22.4h0M240.5 68.3h0M239.6 48.1h0M242.1 58.7h0M239.7 65.3h0M239.3 57.3h0M240.6 72.8h0M237.5 43.4h0M238.6 54.8h0M240.1 39.4h0M238.6 53.3h0M238.8 26.6h0M238.0 36.3h0M241.4 29.3h0M238.2 29.1h0M238.9 51.5h0M240.0 41.8h0M237.5 61.0h0M239.5 34.6h0M241.6 36.2h0M238.5 36.9h0M236.8 42.5h0M240.2 54.8h0M241.0 60.6h0M240.3 51.9h0M240.5 82.0h0M238.9 47.4h0M240.5 59.4h0M241.9 41.3h0M237.9 56.8h0M241.9 50.8h0M241.8 37.6h0M238.7 44.5h0M236.8 22.4h0M238.1 82.2h0M241.4 98.0h0M257.5 64.7h0M255.9 61.2h0M254.3 59.7h0M255.8 58.6h0M256.0 73.1h0M257.7 78.4h0M255.5 66.3h0M256.5 49.6h0M256.7 64.4h0M254.8 68.5h0M255.1 62.5h0M254.3 43.4h0M253.8 88.2h0M256.1 64.9h0M252.8 72.0h0M256.1 96.3h0M256.2 62.8h0M253.4 70.2h0M255.2 88.4h0M258.1 78.3h0M255.9 68.7h0M258.1 81.9h0M254.7 90.1h0M253.4 71.7h0M254.6 81.5h0M257.5 68.6h0M255.7 97.1h0M255.1 49.2h0M254.0 68.3h0M257.5 98.2h0M256.6 85.0h0M254.6 66.2h0M253.3 79.7h0M257.1 76.4h0M255.4 70.1h0M253.8 58.4h0M257.4 85.3h0M253.5 64.3h0M254.4 65.8h0M254.8 58.6h0M253.2 83.1h0M253.6 70.1h0M258.0 73.8h0M255.2 62.0h0M254.5 91.4h0M253.2 74.8h0M252.9 72.1h0M256.2 107.1h0M257.3 56.2h0M257.1 60.6h0M255.9 85.5h0M257.3 77.7h0M255.5 66.1h0M256.5 64.2h0M253.6 62.4h0M254.3 46.1h0M256.6 50.4h0M254.5 54.0h0M255.0 78.5h0M258.0 82.2h0M254.4 63.9h0M255.4 51.4h0M257.6 69.4h0M253.0 72.7h0M257.4 46.3h0M256.9 61.7h0M255.1 72.3h0M255.8 66.5h0M256.9 89.2h0M253.4 75.9h0M253.7 56.0h0M253.8 75.2h0M254.5 67.4h0M257.8 83.0h0M255.4 64.6h0M255.0 79.5h0M253.1 58.2h0M258.0 69.7h0M256.1 68.0h0M255.0 82.7h0M253.0 62.0h0M255.6 90.4h0M253.5 75.7h0M253.3 93.1h0M256.5 66.7h0M253.1 52.4h0M255.6 75.5h0M257.4 74.5h0M255.0 80.3h0M257.8 76.9h0M255.6 60.3h0M254.0 66.5h0M256.4 83.2h0M253.6 93.4h0M257.7 102.5h0M253.0 109.1h0M255.9 19.0h0M269.8 61.6h0M271.9 52.9h0M270.1 56.1h0M269.2 57.7h0M271.8 51.5h0M269.7 82.8h0M270.8 44.7h0M271.2 43.9h0M271.3 71.2h0M269.7 73.0h0M273.7 73.5h0M269.0 65.7h0M271.6 65.9h0M272.1 59.5h0M271.1 53.9h0M272.9 46.5h0M272.0 56.9h0M272.2 45.6h0M268.8 50.5h0M271.7 74.1h0M273.9 57.7h0M273.1 41.4h0M272.2 40.8h0M273.0 50.9h0M271.3 58.3h0M270.8 50.3h0M273.4 64.1h0M273.9 79.4h0M269.4 77.4h0M271.5 77.6h0M272.3 57.5h0M273.3 38.1h0M272.1 54.3h0M272.3 55.5h0M272.2 67.3h0M269.5 66.7h0M269.4 53.9h0M272.7 66.8h0M269.7 64.8h0M271.6 63.0h0M269.9 70.1h0M272.3 57.0h0M270.0 60.2h0M272.2 60.6h0M273.1 60.3h0M273.9 64.1h0M271.9 72.2h0M273.5 72.4h0M272.0 67.9h0M271.3 63.6h0M273.2 72.0h0M269.5 42.7h0M269.4 72.6h0M271.6 59.7h0M269.3 69.4h0M268.7 71.9h0M273.2 33.9h0M273.5 85.7h0M281.5 67.9h0M278.4 72.4h0M276.8 62.7h0M280.0 81.0h0M278.8 57.2h0M279.5 78.0h0M281.4 68.1h0M277.8 97.6h0M279.7 77.6h0M277.1 81.6h0M278.4 94.7h0M280.9 71.6h0M279.7 80.0h0M282.0 49.6h0M281.0 82.2h0M277.3 63.9h0M280.7 69.6h0M280.8 82.3h0M281.8 74.3h0M279.1 62.1h0M279.4 50.6h0M278.7 59.0h0M280.4 73.2h0M279.0 55.1h0M276.6 95.3h0M277.4 42.7h0M281.7 81.4h0M280.4 76.9h0M278.5 70.3h0M277.0 72.8h0M276.7 72.3h0M279.6 70.2h0M278.3 96.6h0M281.5 56.0h0M277.8 75.4h0M281.3 80.7h0M279.1 77.6h0M279.4 68.8h0M277.6 66.8h0M279.2 53.0h0M276.7 51.0h0M280.4 74.3h0M278.3 72.2h0M280.5 64.5h0M277.8 63.4h0M281.3 47.0h0M282.0 73.9h0M277.1 65.4h0M279.9 70.0h0M277.0 70.2h0M278.8 72.6h0M280.4 63.8h0M277.5 39.2h0M277.7 47.7h0M280.0 98.1h0M279.7 92.8h0M280.5 59.0h0M277.3 78.3h0M281.0 103.5h0M278.8 49.7h0M281.0 73.5h0M276.8 77.1h0M276.8 83.8h0M278.0 59.6h0M281.6 68.4h0M280.9 71.0h0M278.6 68.9h0M279.0 74.8h0M279.9 82.4h0M281.8 62.5h0M278.3 72.6h0M281.3 67.8h0M277.8 70.9h0M279.0 77.5h0M280.7 77.0h0M278.1 59.5h0M280.8 75.1h0M277.7 69.6h0M279.1 57.6h0M279.1 78.5h0M280.1 58.1h0M281.8 72.4h0M280.1 88.0h0M277.0 64.0h0M281.0 102.5h0M277.1 75.7h0M280.5 72.1h0M280.3 67.8h0M278.7 68.0h0M277.6 89.5h0M281.0 67.1h0M278.9 54.5h0M277.8 45.1h0M282.0 56.1h0M276.8 47.9h0M281.0 87.3h0M277.9 62.3h0M277.8 68.2h0M278.2 63.9h0M277.2 46.9h0M279.1 66.8h0M280.8 41.1h0M280.9 62.5h0M280.6 58.4h0M281.4 45.3h0M281.0 66.9h0M279.7 69.1h0M278.8 51.3h0M280.4 78.2h0M278.0 57.7h0M278.5 67.4h0M278.3 82.5h0M279.3 52.8h0M278.2 55.3h0M281.4 63.9h0M281.5 90.7h0M277.1 80.7h0M277.1 67.8h0M277.8 59.6h0M281.7 73.8h0M276.9 74.7h0M276.6 43.9h0M279.1 83.3h0M277.1 76.9h0M281.9 78.4h0M278.5 66.0h0M278.1 82.1h0M281.4 68.0h0M278.7 48.7h0M277.2 76.8h0M280.9 61.9h0M279.2 65.5h0M279.0 80.4h0M282.0 74.9h0M281.6 60.9h0M277.6 65.9h0M279.1 89.9h0M281.8 91.9h0M279.9 75.8h0M278.1 56.0h0M281.6 56.6h0M278.2 67.0h0M279.3 72.2h0M277.1 61.0h0M279.9 66.4h0M277.3 90.2h0M276.8 103.0h0M278.9 74.5h0M280.7 73.9h0M280.3 56.3h0M278.6 65.8h0M280.8 85.6h0M278.0 100.1h0M278.3 82.5h0M281.1 63.5h0M278.2 53.5h0M281.2 79.9h0M281.9 86.6h0M278.0 60.5h0M277.3 58.9h0M281.3 89.0h0M279.2 56.4h0M277.7 79.7h0M278.2 42.6h0M280.1 46.7h0M276.9 59.8h0M281.1 48.7h0M278.2 74.4h0M277.4 79.2h0M281.0 50.5h0M279.8 40.2h0M277.1 102.0h0M290.0 89.2h0M289.2 86.2h0M286.2 59.8h0M286.6 68.4h0M289.5 113.6h0M289.9 99.4h0M289.2 92.7h0M285.7 98.7h0M289.1 74.5h0M288.6 108.9h0M285.0 116.5h0M285.7 53.3h0M285.3 89.1h0M285.7 87.8h0M288.4 66.9h0M289.6 87.4h0M288.0 114.3h0M288.2 85.9h0M287.0 50.7h0M288.5 91.5h0M289.8 72.8h0M287.7 80.4h0M285.0 101.8h0M285.6 87.5h0M289.1 62.9h0M288.9 58.8h0M287.7 105.8h0M286.5 88.3h0M285.2 46.8h0M285.2 48.4h0M289.7 63.3h0M287.2 80.5h0M285.6 93.3h0M285.6 70.9h0M289.6 90.2h0M285.5 99.5h0M289.3 112.1h0M288.0 61.1h0M287.0 78.5h0M287.7 110.2h0M285.0 75.8h0M284.6 72.7h0M289.6 68.2h0M289.2 82.5h0M286.1 105.9h0M287.7 80.2h0M284.7 94.3h0M285.8 74.5h0M285.8 98.9h0M284.8 104.2h0M285.9 80.2h0M287.6 50.2h0M288.2 97.2h0M288.6 82.1h0M285.4 52.2h0M287.6 81.6h0M285.4 77.2h0M289.0 75.6h0M288.6 67.3h0M289.7 74.7h0M286.4 48.3h0M284.9 82.7h0M285.6 58.6h0M284.9 82.8h0M286.7 73.9h0M284.6 54.1h0M285.9 68.8h0M286.3 97.5h0M289.9 94.2h0M288.1 122.7h0M285.2 52.8h0M286.1 106.8h0M284.8 51.2h0M284.7 103.2h0M288.1 112.4h0M284.8 85.8h0M284.9 88.4h0M286.5 86.1h0M288.8 113.6h0M287.6 101.1h0M286.3 54.1h0M285.9 77.8h0M287.3 108.8h0M288.3 82.1h0M286.8 94.1h0M288.7 69.4h0M287.2 62.5h0M285.3 86.1h0M289.4 73.2h0M288.0 123.5h0M287.0 100.7h0M289.8 43.7h0M286.6 86.5h0M286.9 83.5h0M289.3 85.9h0M285.1 114.4h0M288.7 66.5h0M287.7 95.6h0M286.6 80.6h0M286.8 63.0h0M289.4 104.2h0M289.7 90.7h0M287.8 50.7h0M289.8 84.6h0M286.7 77.9h0M287.0 77.2h0M288.9 122.9h0M288.2 68.8h0M285.8 67.7h0M286.7 84.0h0M288.4 78.9h0M288.7 103.9h0M288.2 97.7h0M289.5 90.8h0M287.0 56.8h0M285.9 85.2h0M288.6 87.0h0M289.9 66.7h0M288.3 38.8h0M284.6 84.6h0M289.0 80.8h0M288.5 84.4h0M289.7 32.1h0M286.3 124.7h0M305.7 72.1h0M303.7 72.2h0M305.4 60.1h0M303.2 58.4h0M301.1 74.5h0M303.6 72.3h0M303.9 73.3h0M305.8 67.9h0M303.1 82.8h0M301.6 66.9h0M300.9 49.6h0M305.1 67.0h0M301.1 67.3h0M303.8 44.8h0M302.6 77.0h0M305.8 74.2h0M303.1 64.4h0M300.7 63.8h0M303.8 40.6h0M302.2 58.0h0M302.0 58.2h0M303.5 33.4h0M300.9 41.6h0M304.9 64.8h0M301.0 42.6h0M303.6 43.8h0M302.8 92.5h0M305.1 72.5h0M302.6 60.8h0M300.5 55.3h0M301.4 67.6h0M302.1 54.2h0M304.0 60.7h0M301.8 73.4h0M304.8 61.3h0M304.2 66.3h0M305.6 83.1h0M303.5 48.8h0M302.7 72.0h0M305.6 60.0h0M305.5 78.9h0M305.3 67.6h0M301.1 78.4h0M302.8 60.5h0M304.1 60.4h0M305.6 58.0h0M302.8 56.4h0M304.8 60.9h0M302.1 51.0h0M301.0 67.2h0M301.6 50.8h0M301.4 59.3h0M301.2 55.4h0M304.0 67.3h0M305.5 48.1h0M304.5 62.5h0M303.2 62.3h0M301.6 89.4h0M303.5 84.7h0M301.6 54.3h0M304.6 53.2h0M301.6 64.2h0M302.0 49.8h0M302.1 60.8h0M305.1 44.5h0M303.1 72.9h0M302.5 38.0h0M305.5 50.7h0M302.1 42.4h0M303.7 51.0h0M300.8 56.5h0M305.7 59.6h0M301.4 50.3h0M301.7 48.9h0M304.4 55.8h0M303.9 67.1h0M304.4 45.8h0M302.1 65.9h0M303.8 59.4h0M302.1 65.0h0M301.5 56.1h0M305.3 69.1h0M304.1 73.2h0M304.6 59.0h0M303.9 48.9h0M302.0 52.8h0M301.1 51.1h0M300.7 66.3h0M303.4 55.4h0M303.6 65.1h0M303.7 54.8h0M305.8 70.1h0M300.6 44.9h0M302.6 89.5h0M303.3 60.2h0M302.6 59.9h0M305.1 79.2h0M301.9 43.9h0M302.4 54.0h0M302.8 66.0h0M301.1 56.6h0M302.2 41.8h0M305.9 59.6h0M304.0 57.8h0M303.0 70.3h0M302.6 79.3h0M304.7 46.1h0M301.8 56.3h0M302.4 44.2h0M301.8 77.5h0M301.0 63.8h0M302.1 53.6h0M305.3 66.0h0M303.9 62.0h0M304.0 71.6h0M302.0 42.7h0M303.7 55.7h0M303.8 62.2h0M302.8 51.7h0M305.5 58.4h0M301.1 55.1h0M305.1 62.2h0M305.7 59.7h0M303.5 53.2h0M300.8 67.5h0M302.2 47.3h0M300.7 76.3h0M302.4 80.8h0M303.5 55.0h0M304.8 79.5h0M305.6 74.7h0M301.9 67.9h0M300.8 53.3h0M304.8 47.8h0M300.8 85.2h0M301.6 59.9h0M302.4 79.1h0M300.9 45.3h0M303.8 58.7h0M304.7 54.9h0M305.1 56.5h0M303.6 68.7h0M301.0 43.8h0M301.2 70.2h0M303.4 35.8h0M301.7 50.0h0M300.9 66.3h0M301.8 77.3h0M303.7 61.8h0M304.9 43.8h0M303.9 61.1h0M301.2 88.4h0M302.9 70.5h0M302.0 66.5h0M302.2 30.9h0M302.8 40.9h0M301.2 48.3h0M303.5 54.8h0M301.6 58.9h0M301.2 60.0h0M304.8 64.7h0M303.6 60.1h0M303.4 35.6h0M305.7 61.9h0M303.7 68.7h0M302.3 73.2h0M304.7 70.0h0M305.3 62.7h0M302.4 46.8h0M301.6 63.3h0M304.7 88.9h0M303.1 88.2h0M321.3 70.7h0M316.5 55.9h0M318.1 77.6h0M317.8 57.2h0M318.4 68.1h0M316.8 65.6h0M318.4 62.0h0M317.6 50.9h0M317.7 36.5h0M321.5 72.2h0M321.6 52.4h0M319.3 57.7h0M321.0 42.1h0M321.2 51.8h0M320.5 76.1h0M317.7 47.8h0M317.9 67.4h0M318.6 47.0h0M318.0 76.8h0M321.3 54.7h0M318.0 40.1h0M320.9 40.9h0M316.7 58.5h0M318.6 34.9h0M320.3 76.9h0M316.6 68.7h0M320.8 48.0h0M318.1 49.2h0M318.7 55.9h0M318.3 61.0h0M321.1 51.3h0M319.3 63.5h0M316.7 67.7h0M321.1 60.4h0M317.8 37.4h0M317.0 53.1h0M320.4 46.0h0M320.3 49.7h0M317.5 82.3h0M319.7 55.4h0M318.4 57.7h0M318.7 49.5h0M320.4 65.7h0M316.9 69.9h0M320.7 73.6h0M321.8 54.9h0M319.9 71.1h0M320.1 56.7h0M318.1 73.6h0M320.3 38.0h0M321.5 79.3h0M317.4 72.2h0M317.7 75.3h0M321.8 84.8h0M318.0 64.0h0M321.3 64.9h0M320.9 49.3h0M321.2 55.4h0M320.7 67.3h0M319.8 28.0h0M321.2 75.1h0M319.4 52.4h0M318.0 59.6h0M317.6 41.4h0M317.9 56.6h0M319.9 49.1h0M320.9 39.7h0M319.1 50.2h0M320.6 62.0h0M320.2 39.8h0M318.9 55.0h0M319.5 70.1h0M318.6 78.1h0M319.5 55.8h0M316.9 66.1h0M321.7 35.0h0M320.9 45.8h0M316.9 66.1h0M319.7 57.6h0M320.8 46.3h0M318.8 53.6h0M320.4 38.1h0M318.4 35.4h0M317.0 62.0h0M319.8 43.8h0M319.1 59.8h0M318.2 45.7h0M318.4 52.1h0M320.1 66.4h0M316.9 63.9h0M320.0 49.7h0M320.3 72.4h0M321.4 64.4h0M317.7 73.3h0M319.9 65.5h0M318.0 48.8h0M319.3 53.4h0M319.7 84.2h0M316.9 61.3h0M317.9 62.5h0M319.0 47.7h0M320.6 58.6h0M317.4 42.7h0M321.5 72.1h0M318.6 68.2h0M318.2 72.3h0M318.7 48.4h0M318.6 54.0h0M317.2 53.0h0M319.4 62.2h0M317.9 52.6h0M316.8 36.7h0M321.2 48.4h0M317.8 59.2h0M318.8 46.4h0M318.0 55.9h0M318.6 62.0h0M321.1 58.9h0M321.7 43.0h0M321.7 54.4h0M318.8 49.1h0M318.1 68.1h0M320.7 68.7h0M317.1 59.2h0M318.1 45.1h0M319.8 69.4h0M316.8 40.9h0M316.7 50.2h0M318.5 61.8h0M319.2 57.0h0M321.4 79.6h0M317.8 58.5h0M321.3 45.5h0M320.8 63.2h0M320.3 61.3h0M319.5 42.2h0M319.0 36.2h0M320.2 62.8h0M316.9 47.0h0M321.1 53.6h0M318.0 64.4h0M320.3 68.2h0M318.9 63.0h0M318.9 61.5h0M321.7 71.5h0M321.7 45.3h0M321.1 56.0h0M318.1 36.7h0M320.6 64.9h0M320.4 45.3h0M317.5 65.1h0M321.0 46.6h0M320.9 53.0h0M317.1 74.8h0M316.6 32.3h0M320.9 59.7h0M318.4 70.1h0M318.9 55.9h0M320.2 47.0h0M316.7 80.3h0M320.5 54.6h0M320.0 62.5h0M321.5 44.1h0M318.5 47.0h0M319.4 66.7h0M321.8 86.9h0M318.0 32.3h0M335.9 60.0h0M335.1 57.0h0M335.6 52.0h0M334.9 60.9h0M332.4 62.6h0M337.1 67.3h0M333.8 60.9h0M335.3 62.7h0M333.0 62.3h0M337.8 41.1h0M336.8 49.4h0M334.1 57.4h0M333.0 66.2h0M336.7 61.1h0M334.5 69.9h0M336.7 37.6h0M332.6 61.6h0M334.5 69.7h0M335.3 65.4h0M332.8 52.1h0M336.3 76.4h0M335.0 55.6h0M335.8 54.0h0M335.4 47.9h0M333.6 65.6h0M337.6 68.1h0M337.7 52.0h0M334.5 58.0h0M337.1 39.8h0M345.2 79.1h0M343.6 80.2h0M342.3 57.2h0M345.5 61.3h0M343.1 112.9h0M341.8 78.9h0M343.1 54.8h0M345.2 83.8h0M342.5 74.5h0M344.8 70.6h0M344.1 63.5h0M342.3 67.9h0M344.5 56.8h0M343.4 65.7h0M343.4 69.7h0M345.6 86.4h0M343.7 54.1h0M343.5 74.2h0M341.3 62.6h0M342.6 71.5h0M343.4 72.4h0M343.0 99.8h0M341.4 82.1h0M343.4 67.7h0M341.4 84.5h0M341.1 58.1h0M343.2 72.8h0M340.8 95.6h0M341.8 97.1h0M340.8 94.7h0M345.6 97.9h0M341.0 61.6h0M344.6 87.7h0M341.2 103.4h0M341.7 60.8h0M344.7 88.4h0M343.9 76.7h0M341.1 87.0h0M344.2 52.0h0M345.6 75.4h0M342.9 76.5h0M341.7 91.9h0M340.8 95.1h0M342.6 85.6h0M343.2 103.8h0M343.7 63.8h0M345.3 70.1h0M345.0 58.1h0M341.9 66.0h0M345.2 51.8h0M344.9 96.5h0M343.5 84.5h0M345.1 56.5h0M340.4 86.6h0M345.1 93.1h0M344.5 65.0h0M344.9 89.4h0M343.5 70.8h0M343.2 68.7h0M345.2 69.7h0M342.1 95.4h0M342.4 73.0h0M342.5 86.5h0M345.4 58.0h0M345.2 61.7h0M341.8 97.4h0M344.0 58.7h0M345.5 104.1h0M343.8 69.9h0M345.0 70.2h0M342.7 99.9h0M341.0 61.7h0M341.2 87.2h0M344.1 52.2h0M341.4 61.3h0M340.8 79.5h0M340.7 77.3h0M342.0 66.2h0M344.9 70.0h0M342.0 76.1h0M340.8 86.4h0M341.4 95.2h0M343.4 91.6h0M343.8 81.7h0M342.0 84.5h0M341.9 55.5h0M341.9 76.3h0M345.3 72.7h0M343.6 91.6h0M345.0 64.5h0M344.6 64.3h0M342.8 80.0h0M345.5 85.0h0M344.1 58.8h0M341.0 109.0h0M343.4 67.4h0M345.7 64.1h0M342.2 73.7h0M344.4 62.7h0M341.4 110.6h0M345.7 112.9h0M351.3 73.9h0M348.8 61.7h0M351.8 51.1h0M349.0 80.7h0M348.7 51.1h0M352.1 76.4h0M351.7 71.4h0M353.2 81.6h0M348.7 75.4h0M348.7 56.6h0M353.6 79.1h0M350.0 58.6h0M350.5 75.0h0M352.8 66.7h0M352.1 59.1h0M348.6 62.9h0M351.8 55.6h0M351.6 64.8h0M351.2 57.7h0M350.4 60.9h0M349.6 60.1h0M352.4 54.5h0M353.6 66.5h0M348.8 53.3h0M350.7 65.9h0M353.0 64.8h0M348.9 77.9h0M352.4 49.1h0M349.8 77.8h0M350.1 64.2h0M352.2 73.3h0M352.5 65.0h0M353.2 88.5h0M348.7 55.6h0M348.5 51.9h0M352.7 76.2h0M352.1 67.3h0M350.4 76.3h0M349.7 76.0h0M352.9 67.4h0M353.3 68.3h0M352.6 67.2h0M352.3 56.3h0M349.9 73.6h0M353.6 62.7h0M349.8 49.8h0M352.7 59.8h0M353.0 65.3h0M353.0 66.2h0M351.7 75.0h0M352.7 61.5h0M352.2 58.5h0M349.9 68.3h0M349.0 61.1h0M353.7 59.2h0M352.7 63.1h0M348.8 76.7h0M353.3 85.3h0M350.0 85.8h0M348.8 101.0h0M366.8 69.9h0M369.3 72.8h0M368.8 97.2h0M365.8 68.4h0M369.6 69.3h0M367.9 64.5h0M365.1 71.6h0M366.3 46.5h0M368.4 55.4h0M366.8 52.0h0M369.4 70.7h0M367.3 48.7h0M369.1 87.8h0M366.2 69.4h0M365.4 79.3h0M364.6 74.1h0M368.2 74.6h0M364.6 47.4h0M364.7 67.0h0M366.8 91.1h0M366.4 98.2h0M368.0 86.2h0M368.9 66.1h0M366.7 66.2h0M365.2 80.2h0M366.3 53.8h0M368.0 75.9h0M368.9 82.9h0M367.5 48.3h0M364.4 68.6h0M367.9 62.8h0M368.4 80.4h0M368.7 56.5h0M367.5 58.8h0M367.3 85.9h0M369.3 66.3h0M368.9 66.0h0M365.2 44.4h0M369.0 72.2h0M366.2 45.3h0M364.7 73.4h0M366.0 77.7h0M369.3 67.5h0M367.2 82.7h0M367.2 67.4h0M366.3 78.4h0M364.9 47.0h0M364.9 72.4h0M366.5 61.6h0M367.9 58.1h0M365.2 78.7h0M367.5 51.3h0M367.2 47.1h0M368.7 72.4h0M365.3 63.9h0M367.4 63.0h0M364.8 73.8h0M368.5 61.2h0M367.5 96.6h0M365.0 94.2h0M385.2 41.6h0M380.4 60.7h0M382.0 72.0h0M384.4 66.6h0M381.9 49.6h0M380.3 68.8h0M380.6 84.1h0M385.5 68.8h0M383.6 74.3h0M382.8 60.4h0M383.0 58.1h0M383.0 56.5h0M385.1 55.6h0M381.5 59.1h0M385.1 77.0h0M381.1 82.8h0M383.9 71.1h0M381.9 62.0h0M384.5 76.2h0M382.8 53.9h0M383.3 61.1h0M383.8 71.1h0M381.9 74.9h0M385.0 81.3h0M380.3 76.8h0M385.0 40.6h0M385.4 59.1h0M381.1 56.3h0M380.8 72.4h0M383.9 53.4h0M385.4 62.7h0M385.6 77.9h0M384.6 70.5h0M384.6 59.0h0M383.9 56.3h0M383.1 60.7h0M380.5 66.3h0M384.6 45.6h0M380.8 51.9h0M383.4 54.2h0M385.2 46.1h0M382.1 54.3h0M381.1 38.7h0M384.0 62.7h0M383.1 76.4h0M381.9 46.8h0M385.1 82.0h0M380.8 69.3h0M382.6 44.7h0M380.9 52.4h0M380.4 56.7h0M384.3 74.7h0M383.2 78.1h0M383.1 53.9h0M383.3 64.8h0M383.9 67.9h0M381.2 69.6h0M380.8 51.3h0M383.5 57.6h0M381.5 57.3h0M384.4 62.7h0M381.9 61.4h0M380.6 67.4h0M384.2 80.8h0M380.9 58.7h0M380.7 74.3h0M382.6 66.4h0M382.5 43.1h0M383.0 52.1h0M381.3 73.6h0M380.6 79.2h0M383.5 74.3h0M385.3 68.0h0M383.5 56.9h0M380.2 54.7h0M381.5 49.5h0M381.1 54.5h0M380.5 51.5h0M382.3 56.6h0M385.0 68.6h0M384.2 66.3h0M381.8 66.0h0M385.3 55.2h0M383.1 74.9h0M384.2 67.6h0M382.7 79.8h0M385.0 51.4h0M382.9 53.3h0M381.8 67.6h0M384.5 63.0h0M380.9 64.9h0M383.6 62.3h0M384.0 73.1h0M385.2 72.7h0M381.8 68.2h0M382.2 68.1h0M380.4 58.1h0M381.0 85.0h0M384.7 69.8h0M383.4 43.4h0M380.4 70.4h0M383.3 48.3h0M381.8 63.1h0M382.6 68.8h0M383.1 76.9h0M384.0 66.1h0M382.2 81.7h0M381.7 70.2h0M382.1 66.7h0M384.9 71.3h0M380.7 70.5h0M381.7 51.2h0M381.3 44.2h0M383.3 57.1h0M381.8 43.0h0M385.3 60.5h0M385.2 36.7h0M381.1 74.1h0M384.9 72.1h0M381.3 87.0h0M383.0 48.7h0M380.4 55.1h0M382.2 85.6h0M383.9 74.3h0M380.8 67.5h0M380.4 63.7h0M382.1 57.0h0M381.9 45.3h0M381.8 89.3h0M384.8 58.4h0M382.7 72.6h0M384.8 85.3h0M384.8 53.0h0M380.5 50.7h0M382.1 52.8h0M385.1 75.1h0M383.0 60.0h0M383.2 85.5h0M382.3 65.2h0M381.0 58.2h0M380.7 62.1h0M384.6 57.9h0M385.6 63.1h0M381.6 58.5h0M383.8 59.4h0M385.0 59.5h0M380.9 59.4h0M381.7 54.1h0M384.4 79.0h0M384.5 50.3h0M380.7 37.7h0M381.0 57.3h0M380.9 66.2h0M383.3 61.0h0M385.5 69.4h0M382.5 71.5h0M383.1 88.9h0M382.9 76.8h0M385.1 81.2h0M381.3 64.9h0M384.4 68.4h0M383.4 67.3h0M381.2 78.4h0M382.5 52.3h0M380.7 89.2h0M382.2 34.9h0M397.5 103.7h0M398.6 52.6h0M400.1 44.7h0M399.9 36.8h0M397.8 102.9h0M397.4 72.6h0M396.4 76.0h0M398.8 70.4h0M401.2 92.4h0M396.8 83.8h0M400.2 71.6h0M401.3 39.2h0M396.9 79.4h0M400.5 77.9h0M398.3 50.4h0M396.8 52.1h0M398.2 43.5h0M398.0 73.9h0M396.2 24.3h0M397.9 86.8h0M396.7 110.2h0M396.8 51.6h0M397.8 36.2h0M398.5 55.2h0M399.6 93.7h0M396.5 96.9h0M400.9 84.6h0M399.4 85.2h0M397.0 65.5h0M397.3 66.6h0M396.8 67.8h0M398.4 76.4h0M400.7 73.9h0M399.5 51.6h0M396.5 80.4h0M399.6 59.2h0M397.2 63.1h0M399.8 59.7h0M398.4 33.6h0M396.7 91.7h0M399.7 59.0h0M400.3 89.2h0M396.7 52.6h0M401.3 96.3h0M399.7 47.7h0M398.3 36.8h0M397.5 82.5h0M398.2 52.6h0M400.2 58.1h0M397.7 87.9h0M398.7 68.6h0M396.9 54.3h0M396.2 46.1h0M398.4 109.8h0M398.5 103.0h0M401.0 118.0h0M413.6 74.4h0M413.7 67.6h0M417.4 48.8h0M416.5 49.4h0M412.9 77.9h0M417.4 93.7h0M413.0 67.9h0M415.7 101.9h0M415.2 76.7h0M415.2 52.8h0M416.6 93.3h0M414.4 72.3h0M415.6 41.6h0M414.3 98.6h0M412.3 67.0h0M416.4 99.4h0M415.2 49.4h0M416.8 89.6h0M412.3 99.5h0M413.6 66.5h0M414.2 84.0h0M414.8 65.2h0M412.9 77.9h0M416.3 31.8h0M414.9 78.2h0M415.9 74.8h0M414.2 76.8h0M414.0 63.4h0M415.5 76.8h0M412.8 37.6h0M417.0 49.8h0M414.8 69.8h0M416.4 46.9h0M415.7 77.8h0M414.8 92.7h0M414.3 61.0h0M414.8 69.2h0M416.9 80.9h0M415.7 31.7h0M416.5 69.3h0M413.1 58.6h0M414.0 65.0h0M415.5 52.6h0M415.2 103.9h0M415.7 73.1h0M415.4 57.5h0M415.1 65.6h0M417.1 86.8h0M414.3 52.8h0M413.2 43.1h0M414.3 70.8h0M415.3 90.1h0M412.8 57.4h0M412.4 81.0h0M414.9 86.0h0M416.5 76.2h0M415.3 86.8h0M417.4 69.9h0M416.3 63.1h0M413.7 86.0h0M413.4 49.4h0M413.2 68.2h0M413.5 63.7h0M415.1 70.9h0M413.3 82.9h0M413.3 66.7h0M413.9 79.1h0M413.8 81.8h0M416.9 56.2h0M412.9 57.2h0M413.1 51.1h0M413.4 62.1h0M414.2 72.2h0M416.8 100.6h0M415.0 54.0h0M413.8 66.4h0M416.6 40.7h0M417.4 48.1h0M412.1 54.0h0M416.3 46.7h0M417.4 93.3h0M415.4 72.5h0M416.3 82.7h0M415.8 99.5h0M416.6 30.6h0M412.3 102.2h0M420.6 73.7h0M424.8 42.7h0M423.1 59.2h0M421.8 73.5h0M424.3 59.4h0M420.5 71.3h0M421.1 44.8h0M424.2 85.6h0M422.1 64.5h0M424.9 49.4h0M423.6 74.7h0M420.9 56.1h0M424.2 51.1h0M420.2 53.1h0M420.5 52.2h0M420.3 68.4h0M424.6 51.8h0M423.3 84.1h0M423.2 91.3h0M422.6 47.1h0M423.3 76.7h0M420.2 57.7h0M425.4 49.8h0M422.0 59.1h0M420.5 75.8h0M421.7 44.7h0M420.7 62.4h0M422.8 66.3h0M422.4 66.5h0M420.5 66.0h0M420.5 83.0h0M423.9 58.0h0M420.7 59.8h0M424.9 36.7h0M440.5 83.8h0M438.2 45.7h0M437.1 74.0h0M438.4 53.3h0M439.5 51.6h0M438.7 73.4h0M436.0 69.1h0M439.0 65.8h0M436.4 69.1h0M437.7 95.0h0M440.1 72.2h0M440.3 100.3h0M440.2 95.5h0M441.2 74.9h0M436.4 96.1h0M438.2 67.8h0M436.4 80.0h0M441.4 66.6h0M440.5 72.1h0M439.7 92.1h0M437.8 85.2h0M436.8 105.3h0M437.8 62.4h0M436.9 66.4h0M438.0 62.4h0M436.0 63.3h0M436.8 54.7h0M437.4 94.0h0M437.9 95.3h0M437.5 53.7h0M440.1 62.5h0M436.0 69.2h0M440.3 92.3h0M438.8 114.9h0M440.7 66.9h0M436.8 77.0h0M441.3 104.8h0M437.1 76.7h0M436.1 86.5h0M436.5 86.6h0M440.0 52.5h0M441.1 89.8h0M438.0 73.4h0M440.2 109.7h0M436.3 58.5h0M438.3 68.8h0M439.5 57.6h0M440.3 80.7h0M438.2 107.8h0M440.6 76.3h0M436.6 90.2h0M439.0 81.4h0M437.1 90.3h0M439.6 78.3h0M436.4 89.5h0M438.9 88.8h0M439.1 101.7h0M437.3 58.0h0M437.0 97.4h0M436.7 112.1h0M439.1 72.7h0M440.7 83.8h0M439.2 85.3h0M441.1 83.0h0M437.9 83.6h0M440.8 79.7h0M440.8 78.2h0M440.3 90.8h0M439.9 93.6h0M441.0 85.1h0M436.4 62.1h0M437.1 87.2h0M439.3 76.7h0M440.8 92.5h0M441.3 77.9h0M436.3 85.9h0M436.2 70.2h0M439.3 47.8h0M438.9 73.4h0M440.9 94.5h0M440.4 72.2h0M441.1 84.2h0M438.2 76.1h0M440.8 78.9h0M439.6 62.5h0M439.2 74.5h0M436.5 71.0h0M439.1 100.2h0M440.6 108.1h0M439.7 102.3h0M436.7 88.7h0M437.0 113.2h0M438.7 96.2h0M438.8 106.6h0M440.3 69.9h0M439.2 68.6h0M440.8 69.5h0M437.2 93.2h0M437.3 51.6h0M441.2 91.8h0M440.0 87.5h0M438.0 81.0h0M439.5 77.3h0M437.6 87.3h0M441.0 73.6h0M438.6 68.1h0M437.4 88.8h0M441.3 66.0h0M436.6 96.2h0M437.3 69.7h0M441.2 81.5h0M438.7 68.9h0M439.6 100.8h0M438.2 83.0h0M436.3 88.1h0M436.5 82.9h0M437.8 77.8h0M438.1 67.3h0M439.0 113.3h0M436.9 76.5h0M438.3 93.9h0M440.5 82.1h0M436.4 66.8h0M436.3 75.6h0M438.4 56.9h0M438.4 51.6h0M439.0 74.4h0M440.1 64.5h0M438.1 61.4h0M437.1 79.6h0M437.3 61.9h0M439.5 80.2h0M436.7 91.7h0M441.1 90.9h0M436.6 75.1h0M436.4 81.7h0M437.5 68.2h0M440.2 46.3h0M438.5 47.0h0M454.6 39.8h0M455.1 59.6h0M456.0 51.7h0M453.1 43.9h0M452.5 50.2h0M455.8 54.5h0M452.9 38.9h0M453.2 53.9h0M456.7 52.5h0M455.8 42.0h0M452.4 48.2h0M452.0 57.2h0M454.5 73.0h0M454.5 70.3h0M455.4 49.7h0M454.5 53.8h0M456.9 59.7h0M452.7 50.3h0M454.2 46.3h0M452.5 64.9h0M453.1 46.2h0M455.9 57.3h0M453.9 56.9h0M456.7 42.2h0M454.9 63.7h0M456.1 52.3h0M453.4 53.8h0M453.4 48.3h0M455.4 66.8h0M453.5 72.0h0M452.6 56.2h0M453.8 53.1h0M456.6 43.2h0M456.0 54.5h0M452.5 49.3h0M453.5 53.3h0M453.8 56.9h0M455.0 53.4h0M455.2 56.3h0M454.9 58.3h0M455.1 58.1h0M455.7 46.6h0M457.0 55.6h0M455.8 54.4h0M454.3 57.2h0M454.1 33.3h0M455.1 61.1h0M457.1 36.3h0M454.8 72.4h0M454.2 24.5h0M464.3 52.0h0M461.2 53.3h0M462.1 62.1h0M462.5 65.4h0M463.1 63.1h0M465.1 73.0h0M460.1 55.5h0M464.6 49.3h0M462.7 58.8h0M464.8 59.8h0M461.0 57.0h0M460.0 60.9h0M461.4 74.5h0M463.6 52.3h0M460.5 47.9h0M465.1 52.5h0M460.8 68.5h0M461.2 55.3h0M462.1 69.0h0M462.0 58.7h0M463.1 63.0h0M462.2 50.4h0M461.6 68.3h0M460.4 53.3h0M460.1 42.0h0M461.1 46.7h0M460.6 62.4h0M462.8 78.8h0M462.8 37.6h0M460.3 53.1h0M463.9 55.9h0M463.3 67.1h0M460.1 59.9h0M463.7 61.2h0M461.7 74.8h0M461.8 69.8h0M459.9 52.8h0M463.9 63.7h0M460.4 72.5h0M460.0 39.9h0M462.4 69.1h0M460.0 59.6h0M460.1 71.0h0M464.0 58.5h0M463.0 63.9h0M460.2 50.4h0M460.7 63.0h0M463.3 67.4h0M462.9 47.0h0M461.7 80.7h0M460.0 70.7h0M460.0 58.2h0M461.9 81.3h0M461.4 63.0h0M461.7 64.9h0M464.3 63.2h0M462.1 43.5h0M460.0 35.9h0M463.8 82.9h0M462.7 52.1h0M464.7 63.8h0M460.9 59.1h0M463.7 50.3h0M463.2 67.9h0M460.0 67.7h0M462.7 58.5h0M463.0 61.4h0M463.7 52.8h0M460.5 51.9h0M461.6 49.5h0M461.2 65.6h0M461.5 71.4h0M464.8 42.8h0M465.1 46.6h0M461.4 69.1h0M461.3 48.6h0M462.6 46.4h0M461.0 53.3h0M464.8 71.3h0M464.9 47.4h0M463.5 52.5h0M464.8 50.1h0M465.2 54.6h0M462.4 72.2h0M462.9 80.4h0M461.2 48.3h0M463.5 50.6h0M463.2 62.1h0M460.9 54.4h0M464.4 54.5h0M460.7 59.2h0M465.2 58.6h0M460.3 70.6h0M462.3 52.2h0M462.4 81.3h0M461.8 58.3h0M461.7 50.0h0M462.0 57.1h0M461.3 60.3h0M462.8 35.1h0M464.2 56.7h0M460.2 48.3h0M462.8 49.5h0M460.6 68.7h0M461.2 76.3h0M464.6 70.2h0M461.7 64.9h0M463.3 55.0h0M460.4 57.5h0M464.6 84.0h0M464.9 65.2h0M461.5 65.5h0M465.2 51.3h0M461.7 55.2h0M460.0 56.9h0M460.1 42.5h0M461.5 75.8h0M461.8 41.2h0M464.1 67.6h0M460.3 68.5h0M464.4 75.6h0M463.9 60.4h0M464.0 52.6h0M459.9 65.3h0M464.7 71.6h0M460.1 62.3h0M463.4 65.4h0M462.1 62.0h0M464.8 43.1h0M462.7 41.3h0M460.2 61.4h0M464.1 35.2h0M461.4 60.5h0M463.9 51.3h0M463.4 63.5h0M462.6 61.0h0M460.8 48.9h0M463.0 51.2h0M462.1 67.7h0M464.2 52.4h0M461.5 68.4h0M460.6 79.6h0M463.1 67.8h0M460.0 57.8h0M462.3 63.5h0M461.0 48.2h0M462.0 45.5h0M463.3 61.1h0M460.1 67.2h0M462.9 72.0h0M463.2 45.9h0M463.6 71.8h0M460.6 60.6h0M462.1 83.4h0M464.2 56.8h0M461.0 59.2h0M461.0 52.6h0M462.7 67.9h0M464.6 52.5h0M464.2 66.8h0M461.1 63.1h0M462.8 76.0h0M461.3 59.9h0M461.5 61.3h0M462.0 68.4h0M464.4 80.5h0M464.3 39.2h0M480.7 39.9h0M480.6 46.2h0M478.5 64.1h0M480.7 49.2h0M478.8 72.6h0M477.1 51.1h0M475.9 44.0h0M478.0 52.3h0M479.9 40.8h0M477.9 49.9h0M477.4 53.8h0M478.5 56.1h0M478.6 54.8h0M476.4 56.6h0M479.1 52.5h0M480.1 54.0h0M477.4 54.6h0M475.9 43.8h0M478.4 50.6h0M478.0 55.3h0M478.4 69.5h0M480.1 53.4h0M477.7 63.9h0M476.4 59.2h0M476.4 70.9h0M476.3 64.3h0M480.9 67.5h0M480.4 74.6h0M478.4 58.9h0M479.1 77.3h0M477.4 67.7h0M475.8 49.8h0M478.2 60.5h0M481.1 42.6h0M478.4 55.2h0M479.4 55.7h0M478.3 45.5h0M478.2 60.6h0M481.2 76.6h0M480.8 80.2h0M478.9 94.0h0M485.5 72.0h0M488.8 55.6h0M485.3 53.0h0M488.0 64.1h0M484.6 76.3h0M485.0 58.9h0M485.7 97.1h0M484.8 73.8h0M487.6 62.2h0M487.3 59.1h0M484.5 80.9h0M487.6 101.0h0M487.9 59.0h0M484.6 63.2h0M489.0 62.3h0M484.3 55.9h0M486.8 48.1h0M485.1 72.6h0M487.0 52.0h0M484.8 87.1h0M489.1 68.5h0M486.9 45.8h0M485.1 55.8h0M487.0 61.8h0M487.5 71.3h0M488.8 64.7h0M485.2 35.4h0M485.7 54.3h0M485.6 88.6h0M487.0 109.0h0M489.2 49.2h0M487.3 63.4h0M486.2 98.8h0M484.6 82.7h0M484.5 64.0h0M488.3 70.8h0M488.0 83.2h0M488.6 80.3h0M488.5 99.9h0M484.0 31.2h0M487.8 93.6h0M488.0 35.3h0M486.6 88.1h0M487.3 56.6h0M488.9 59.0h0M488.2 65.6h0M485.8 57.7h0M486.0 86.3h0M486.5 49.0h0M484.2 32.3h0M484.1 79.4h0M487.5 76.7h0M487.6 64.6h0M486.6 58.9h0M486.2 59.6h0M488.2 82.6h0M487.1 72.3h0M488.4 56.8h0M486.7 91.1h0M488.3 77.4h0M488.8 79.9h0M484.5 87.6h0M484.5 89.2h0M484.0 49.9h0M485.1 69.9h0M487.9 83.8h0M484.1 55.4h0M488.5 67.8h0M487.9 102.7h0M486.5 76.4h0M487.7 63.7h0M487.9 75.6h0M487.6 56.4h0M487.2 66.6h0M485.8 69.7h0M486.6 61.0h0M485.5 47.3h0M486.2 84.0h0M488.5 50.2h0M485.1 44.5h0M484.8 81.8h0M487.8 106.2h0M486.2 77.4h0M486.8 53.2h0M488.2 94.7h0M484.2 70.0h0M484.8 59.7h0M484.7 66.4h0M487.6 57.4h0M485.9 54.0h0M486.8 83.4h0M486.8 61.4h0M488.3 61.1h0M483.8 84.1h0M485.7 70.4h0M485.2 59.6h0M486.0 85.6h0M484.5 63.7h0M486.5 83.5h0M485.4 50.0h0M485.5 78.9h0M486.2 66.7h0M488.5 68.7h0M488.0 77.4h0M488.2 49.2h0M487.1 64.1h0M487.4 63.5h0M484.7 73.9h0M485.0 59.7h0M485.3 80.5h0M488.8 63.8h0M487.4 78.0h0M483.9 31.8h0M486.4 42.8h0M486.9 78.5h0M486.4 51.8h0M487.5 75.2h0M485.0 115.6h0M486.7 84.1h0M486.8 60.4h0M485.8 66.1h0M486.7 79.7h0M487.5 92.1h0M486.0 94.6h0M488.0 42.9h0M484.5 96.5h0M489.1 73.7h0M485.9 78.5h0M487.2 95.3h0M486.5 37.9h0M483.9 71.1h0M488.1 86.6h0M487.1 45.5h0M485.2 64.6h0M484.7 97.0h0M485.9 61.8h0M486.5 91.4h0M484.8 51.2h0M484.7 68.1h0M485.8 57.1h0M489.1 57.4h0M487.4 67.2h0M488.4 40.2h0M488.9 112.6h0M488.0 71.8h0M484.5 65.4h0M486.8 33.6h0M486.4 48.0h0M487.1 83.3h0M485.0 69.1h0M485.1 38.9h0M484.5 52.1h0M487.9 80.9h0M486.1 67.5h0M487.5 43.8h0M485.7 73.5h0M487.2 66.5h0M487.3 63.9h0M488.1 59.9h0M487.3 93.8h0M485.2 58.4h0M487.8 86.0h0M488.2 76.7h0M486.6 70.2h0M484.8 83.0h0M487.7 67.0h0M487.1 48.6h0M488.5 90.1h0M487.5 71.8h0M484.2 32.9h0M488.4 89.3h0M486.1 67.0h0M485.5 69.3h0M484.5 83.5h0M484.0 88.9h0M486.1 58.7h0M485.5 102.4h0M487.2 36.3h0M485.9 94.4h0M484.4 111.1h0M484.8 33.9h0M504.5 56.3h0M501.7 59.2h0M501.6 52.3h0M503.7 51.8h0M500.3 41.1h0M503.9 51.4h0M504.4 63.2h0M503.1 41.9h0M504.3 48.6h0M500.8 62.4h0M501.3 47.0h0M501.9 48.4h0M500.5 53.9h0M500.3 54.4h0M503.0 49.5h0M502.9 48.8h0M500.4 52.2h0M503.3 48.8h0M502.6 31.9h0M513.0 60.4h0M509.4 65.7h0M511.0 54.4h0M509.5 61.9h0M507.8 60.9h0M510.7 51.7h0M508.5 49.8h0M510.7 59.1h0M509.8 62.1h0M510.8 46.5h0M511.6 50.4h0M512.3 71.2h0M509.2 77.8h0M512.2 72.1h0M512.4 68.2h0M510.3 49.9h0M510.9 81.7h0M509.6 56.2h0M512.2 80.9h0M508.6 58.4h0M508.1 64.9h0M512.2 55.0h0M512.3 63.0h0M511.5 54.2h0M510.4 69.6h0M508.6 61.8h0M512.7 43.0h0M509.5 95.0h0" stroke="#e82430" stroke-opacity="0.85" stroke-width="1.8" stroke-linecap="round" fill="none"/>
<path d="M50.4 61.4h0M46.3 64.4h0M46.7 64.2h0M47.3 74.8h0M46.4 66.9h0M50.4 56.7h0M46.2 74.4h0M62.9 52.9h0M64.3 60.8h0M61.9 56.4h0M64.7 60.4h0M61.8 70.0h0M66.8 50.8h0M65.2 72.9h0M65.8 68.1h0M61.5 53.8h0M63.7 44.1h0M65.4 65.1h0M63.3 74.5h0M62.7 51.3h0M66.9 71.9h0M64.2 65.0h0M65.5 55.1h0M64.8 64.8h0M62.0 62.1h0M62.3 67.5h0M65.5 54.3h0M66.5 52.2h0M66.0 53.1h0M63.8 70.0h0M66.2 65.8h0M64.3 56.6h0M66.7 58.6h0M66.0 51.2h0M63.9 68.9h0M66.4 66.9h0M63.6 42.9h0M65.2 75.2h0M63.7 66.4h0M66.0 53.4h0M66.0 56.5h0M64.1 53.7h0M65.9 77.9h0M63.9 77.7h0M114.1 50.7h0M128.1 107.4h0M126.3 111.0h0M125.7 103.9h0M142.3 69.6h0M141.3 69.5h0M144.4 79.8h0M142.4 72.1h0M143.0 71.2h0M143.4 64.9h0M146.5 77.8h0M145.0 69.4h0M146.4 82.2h0M144.2 76.5h0M145.4 68.7h0M143.8 65.5h0M145.1 75.7h0M145.5 85.5h0M167.2 108.7h0M170.2 109.3h0M168.0 108.7h0M165.3 125.1h0M184.9 92.0h0M198.7 75.6h0M198.1 78.2h0M197.9 70.1h0M199.4 89.1h0M198.3 67.8h0M197.7 64.8h0M199.4 76.9h0M201.7 76.7h0M202.1 73.6h0M201.0 69.1h0M197.7 66.0h0M201.8 67.1h0M199.7 74.4h0M198.3 81.7h0M197.7 88.7h0M198.8 117.0h0M233.2 69.3h0M232.8 64.5h0M232.1 67.9h0M234.1 60.9h0M232.0 72.4h0M230.5 80.0h0M234.0 71.4h0M230.9 67.2h0M247.1 67.6h0M246.8 72.5h0M246.1 71.9h0M248.4 71.9h0M245.8 73.5h0M247.9 70.8h0M247.4 77.5h0M247.1 71.5h0M246.3 74.4h0M249.9 57.2h0M244.8 66.4h0M244.8 62.5h0M247.3 60.1h0M246.5 63.7h0M248.0 75.0h0M248.6 58.4h0M248.2 71.5h0M249.3 66.0h0M249.1 68.4h0M249.7 56.9h0M246.7 62.1h0M245.6 65.5h0M244.9 54.1h0M247.0 51.2h0M262.4 78.3h0M261.5 69.3h0M264.9 69.4h0M264.7 68.5h0M265.7 72.4h0M263.2 79.8h0M264.9 74.4h0M263.9 80.0h0M265.4 65.3h0M264.1 75.1h0M263.0 81.4h0M294.2 102.8h0M294.9 106.2h0M297.9 102.0h0M294.3 91.9h0M295.0 104.0h0M297.8 93.0h0M295.1 101.3h0M297.7 97.5h0M294.8 94.0h0M295.4 95.1h0M296.1 98.7h0M294.1 103.0h0M292.8 94.2h0M296.0 105.0h0M297.7 94.5h0M296.1 89.6h0M308.9 73.0h0M311.2 70.8h0M308.5 70.3h0M312.1 65.9h0M311.1 78.3h0M310.2 73.9h0M310.2 77.1h0M311.0 73.0h0M310.0 69.6h0M310.0 75.8h0M313.2 78.2h0M312.7 67.7h0M312.0 81.2h0M311.1 76.3h0M309.6 71.3h0M313.3 75.1h0M313.1 75.0h0M313.9 68.4h0M309.3 81.0h0M309.9 63.4h0M325.2 73.5h0M326.3 78.5h0M325.3 70.7h0M325.7 75.4h0M327.8 72.6h0M328.7 79.3h0M328.7 75.1h0M329.6 79.9h0M326.3 71.0h0M329.4 76.2h0M326.2 76.3h0M329.8 74.9h0M327.9 84.4h0M325.7 71.8h0M329.4 76.0h0M326.2 67.4h0M324.8 86.3h0M357.7 72.4h0M374.7 76.6h0M392.0 74.5h0M392.0 67.4h0M388.8 66.1h0M392.7 68.6h0M389.7 63.1h0M389.6 49.3h0M391.3 67.9h0M389.5 65.3h0M390.7 66.2h0M389.1 51.6h0M388.4 55.0h0M392.9 59.9h0M388.4 75.7h0M388.9 50.8h0M392.8 56.1h0M388.4 67.3h0M388.4 54.2h0M391.6 83.6h0M407.3 67.5h0M407.0 68.8h0M404.6 66.0h0M445.6 95.5h0M448.5 100.7h0M445.1 97.6h0M448.3 96.3h0M448.4 96.3h0M447.4 104.3h0M445.4 97.7h0M449.3 92.2h0M448.7 97.9h0M447.3 100.0h0M446.2 100.3h0M445.0 106.8h0M468.3 62.2h0M468.3 59.5h0M469.8 58.4h0M469.8 60.6h0M471.6 50.1h0M471.1 59.8h0M472.5 52.5h0M469.2 66.4h0M472.9 53.7h0M468.4 70.1h0M468.1 54.0h0M469.6 60.2h0M468.2 60.4h0M471.8 59.0h0M472.4 60.8h0M472.0 69.4h0M469.3 52.3h0M470.2 55.1h0M468.5 53.6h0M468.5 70.7h0M494.8 65.8h0M493.4 57.1h0M496.0 44.8h0M493.0 53.4h0M494.2 45.7h0M495.1 51.0h0M491.9 54.4h0M492.3 53.3h0M493.6 56.8h0M496.8 50.9h0M492.2 59.7h0" stroke="#4254c4" stroke-opacity="0.85" stroke-width="1.8" stroke-linecap="round" fill="none"/>
<path d="M47.0 64.9h0M48.2 72.7h0M47.0 58.3h0M45.7 55.8h0M50.6 63.9h0M46.4 68.1h0M65.5 59.4h0M61.6 71.0h0M63.0 61.7h0M64.6 63.1h0M65.7 71.4h0M62.8 70.8h0M61.7 75.2h0M65.9 68.4h0M64.0 60.9h0M66.5 55.0h0M61.9 62.4h0M65.1 72.4h0M62.2 73.9h0M63.3 57.7h0M65.7 59.5h0M65.7 67.4h0M64.9 58.0h0M66.0 73.3h0M65.3 71.5h0M66.7 57.2h0M62.2 67.1h0M66.4 61.2h0M65.8 60.9h0M65.9 64.1h0M63.1 62.0h0M66.6 59.6h0M65.7 56.0h0M62.7 54.8h0M62.7 62.0h0M65.2 55.9h0M65.7 53.7h0M66.6 69.8h0M61.9 54.4h0M63.3 60.1h0M65.8 54.8h0M61.6 62.6h0M63.7 79.6h0M63.3 78.6h0M110.6 48.4h0M128.4 107.5h0M126.9 107.8h0M127.1 108.8h0M144.3 65.9h0M141.7 74.5h0M141.6 63.2h0M144.3 74.0h0M146.3 76.8h0M144.1 76.4h0M145.3 71.7h0M144.6 74.1h0M145.3 79.9h0M143.5 72.0h0M142.3 67.9h0M143.5 75.4h0M146.5 77.4h0M142.6 91.3h0M167.9 111.3h0M166.1 111.8h0M167.0 108.0h0M184.4 89.6h0M182.8 91.0h0M197.8 72.2h0M197.1 65.4h0M199.8 75.0h0M197.0 79.5h0M197.4 73.4h0M199.1 71.4h0M197.8 72.2h0M198.7 68.7h0M197.4 71.6h0M199.5 71.4h0M200.8 77.0h0M201.5 74.8h0M201.5 77.6h0M197.1 85.4h0M201.9 93.1h0M230.8 68.4h0M232.3 76.8h0M229.8 63.8h0M232.9 70.6h0M232.6 61.6h0M231.9 62.6h0M233.1 71.8h0M232.5 68.8h0M232.6 78.8h0M247.9 65.7h0M246.2 63.8h0M248.6 69.3h0M247.1 69.1h0M246.0 61.5h0M246.9 68.3h0M246.3 67.8h0M249.6 77.7h0M247.2 69.0h0M245.5 68.0h0M247.2 65.1h0M245.6 65.5h0M246.4 57.5h0M246.6 58.7h0M245.9 64.1h0M244.8 54.2h0M249.6 61.7h0M248.3 75.2h0M248.8 71.6h0M245.0 57.1h0M247.7 52.2h0M247.4 74.8h0M249.9 51.8h0M245.4 51.6h0M263.6 72.3h0M265.2 79.6h0M261.2 73.1h0M265.0 81.8h0M263.0 65.3h0M262.3 72.1h0M262.4 73.4h0M260.8 73.3h0M264.2 80.3h0M266.0 69.3h0M295.1 89.4h0M294.3 106.1h0M295.5 98.8h0M295.7 109.4h0M295.8 104.7h0M295.0 99.6h0M292.9 101.1h0M294.4 105.2h0M294.4 106.4h0M296.1 98.9h0M293.1 103.3h0M292.6 105.2h0M296.5 96.8h0M293.4 104.3h0M296.4 98.7h0M295.6 94.4h0M294.5 116.3h0M313.1 74.6h0M313.8 82.3h0M310.1 68.3h0M308.9 70.1h0M309.4 65.1h0M310.6 74.5h0M313.3 78.1h0M309.3 81.2h0M312.2 77.3h0M312.4 74.4h0M312.2 64.9h0M313.6 71.7h0M309.2 74.5h0M312.4 74.0h0M308.6 80.1h0M308.9 67.3h0M311.8 72.4h0M308.6 75.6h0M313.7 85.2h0M313.2 86.6h0M325.4 64.4h0M326.9 68.3h0M325.6 77.2h0M326.9 67.3h0M327.9 72.6h0M329.5 75.4h0M326.1 68.1h0M328.2 70.0h0M325.4 76.0h0M328.2 71.4h0M324.9 66.1h0M327.6 78.9h0M326.6 70.6h0M326.5 77.8h0M327.7 75.1h0M327.9 85.1h0M329.7 86.3h0M359.6 70.6h0M373.9 75.3h0M388.4 51.1h0M393.1 59.8h0M393.4 46.1h0M393.1 54.3h0M390.9 61.4h0M391.3 64.6h0M391.4 68.3h0M392.7 73.6h0M391.5 64.6h0M393.3 63.4h0M389.9 69.5h0M391.7 52.8h0M390.5 49.9h0M390.0 84.2h0M389.3 53.0h0M391.2 80.6h0M388.9 83.9h0M407.5 64.8h0M406.0 64.7h0M407.4 68.8h0M408.2 65.2h0M448.6 98.3h0M447.0 99.2h0M444.6 98.4h0M446.7 93.7h0M444.0 92.2h0M446.1 94.8h0M446.0 94.8h0M445.2 99.5h0M447.4 99.8h0M448.6 88.8h0M447.9 101.3h0M447.3 118.0h0M470.7 62.8h0M468.8 57.2h0M469.7 49.0h0M470.4 54.2h0M470.6 59.8h0M472.3 64.3h0M472.2 59.3h0M468.3 58.9h0M471.8 55.8h0M473.0 60.6h0M468.6 61.2h0M469.9 53.6h0M469.7 58.3h0M470.1 54.9h0M468.9 60.6h0M471.0 50.7h0M470.4 62.5h0M469.2 57.5h0M470.8 74.2h0M496.7 52.5h0M492.0 57.8h0M496.0 51.0h0M493.0 43.2h0M493.7 47.0h0M497.0 42.9h0M493.3 56.4h0M495.0 64.1h0M496.4 54.1h0M493.8 52.2h0M494.2 56.7h0M496.8 38.1h0" stroke="#4254c4" stroke-opacity="0.85" stroke-width="1.8" stroke-linecap="round" fill="none"/>
<path d="M49.9 66.9h0M50.5 55.4h0M48.3 68.6h0M46.5 65.5h0M49.2 67.0h0M49.8 66.4h0M62.3 55.0h0M63.6 51.0h0M66.3 58.1h0M62.7 52.2h0M65.3 53.9h0M64.7 76.2h0M64.8 68.8h0M63.3 57.8h0M66.4 54.7h0M63.7 57.8h0M62.8 46.1h0M62.3 70.7h0M62.5 58.5h0M66.7 49.9h0M64.1 68.1h0M66.4 49.4h0M62.5 63.8h0M65.7 47.6h0M63.4 61.6h0M65.1 72.0h0M65.9 61.6h0M65.5 58.7h0M64.7 51.2h0M65.7 68.9h0M66.7 46.6h0M62.1 54.7h0M62.8 55.0h0M62.5 49.1h0M64.1 64.0h0M65.3 69.6h0M65.8 59.7h0M65.9 67.2h0M65.0 57.9h0M64.7 48.0h0M61.5 63.7h0M62.1 40.0h0M64.7 77.9h0M62.6 96.0h0M113.5 57.3h0M129.2 107.3h0M127.1 104.1h0M129.2 106.7h0M144.0 69.2h0M144.2 74.0h0M145.3 75.5h0M144.0 69.8h0M143.3 80.6h0M145.7 68.3h0M144.1 65.4h0M146.3 79.4h0M142.3 74.8h0M142.4 82.0h0M145.0 79.6h0M145.0 80.7h0M146.5 75.0h0M167.3 109.6h0M166.6 113.3h0M165.8 109.4h0M169.0 110.1h0M183.9 91.9h0M183.6 90.7h0M200.4 67.9h0M197.7 74.8h0M199.4 83.5h0M199.8 73.6h0M197.2 76.9h0M197.8 77.1h0M200.9 68.5h0M197.3 87.7h0M200.4 82.1h0M201.7 79.1h0M201.8 70.6h0M199.3 74.0h0M199.0 68.6h0M198.0 65.3h0M198.6 103.0h0M230.3 68.6h0M230.4 66.4h0M233.1 66.5h0M232.1 68.6h0M231.3 72.2h0M230.3 73.4h0M233.2 61.2h0M231.5 66.8h0M249.8 59.4h0M247.0 69.1h0M244.8 74.0h0M249.1 63.1h0M247.0 78.2h0M250.1 78.7h0M247.6 62.2h0M247.0 64.1h0M249.5 71.0h0M245.9 69.8h0M247.3 67.4h0M247.2 69.4h0M247.4 56.8h0M245.0 62.8h0M245.3 79.8h0M247.6 71.4h0M247.4 69.6h0M248.5 67.0h0M245.9 68.3h0M247.4 50.7h0M249.6 68.9h0M249.0 74.0h0M244.8 82.8h0M245.9 50.7h0M263.8 76.6h0M263.5 73.7h0M265.1 72.4h0M261.9 76.6h0M264.0 71.9h0M261.9 76.7h0M262.7 70.5h0M264.5 74.0h0M263.4 65.6h0M265.3 74.4h0M260.9 81.1h0M294.4 104.0h0M295.3 94.4h0M296.2 103.9h0M297.9 92.5h0M295.7 115.6h0M293.8 104.8h0M296.9 90.1h0M294.2 111.2h0M295.7 109.1h0M295.6 88.9h0M292.7 87.9h0M295.3 109.6h0M294.3 86.1h0M294.3 100.5h0M297.0 104.7h0M292.8 99.6h0M295.8 116.3h0M308.5 71.3h0M311.6 70.0h0M312.5 68.6h0M311.0 73.3h0M309.2 76.9h0M313.6 63.1h0M308.6 80.7h0M308.8 74.9h0M311.8 79.8h0M312.3 73.2h0M309.0 76.2h0M313.2 75.6h0M313.2 69.5h0M313.5 70.6h0M313.5 86.1h0M311.0 79.2h0M311.3 75.6h0M310.5 76.4h0M311.6 86.3h0M329.7 88.0h0M328.2 71.9h0M329.0 73.3h0M327.7 87.3h0M325.6 84.4h0M324.7 76.8h0M326.0 77.0h0M329.3 78.3h0M326.6 65.0h0M329.2 81.7h0M329.4 74.5h0M327.0 72.9h0M328.9 78.5h0M327.0 72.5h0M329.6 84.8h0M328.2 69.7h0M329.3 63.7h0M361.0 66.2h0M359.8 66.2h0M372.5 74.4h0M392.2 59.5h0M390.1 63.5h0M389.7 71.5h0M392.1 62.2h0M391.2 64.5h0M393.5 68.0h0M390.6 58.3h0M388.7 64.7h0M393.5 69.3h0M391.6 72.2h0M388.9 59.4h0M393.0 55.2h0M392.8 65.4h0M391.5 70.8h0M389.4 61.2h0M391.6 78.1h0M390.7 44.3h0M409.3 67.8h0M407.8 66.0h0M406.3 69.2h0M444.0 88.0h0M446.0 92.9h0M444.2 101.8h0M446.4 95.2h0M444.0 95.1h0M448.8 96.3h0M445.8 101.1h0M446.7 98.9h0M448.4 94.9h0M448.8 97.5h0M444.6 94.4h0M448.9 107.6h0M468.8 51.4h0M471.5 71.2h0M472.0 60.1h0M468.8 63.8h0M469.0 54.2h0M471.6 60.6h0M468.1 57.5h0M470.2 67.7h0M472.4 69.3h0M470.4 56.8h0M472.0 59.3h0M472.6 48.1h0M468.4 54.8h0M473.0 56.1h0M469.8 66.2h0M469.7 66.6h0M471.7 59.7h0M470.2 55.8h0M472.1 65.4h0M469.7 74.6h0M496.6 52.8h0M494.8 54.4h0M494.8 56.3h0M493.1 38.5h0M494.6 48.6h0M495.2 43.5h0M495.7 53.7h0M497.1 50.6h0M493.2 59.3h0M493.7 43.6h0M493.7 52.2h0M494.5 67.3h0" stroke="#4254c4" stroke-opacity="0.85" stroke-width="1.8" stroke-linecap="round" fill="none"/>
<path d="M430.0 52.7h0M431.2 45.1h0M430.5 68.1h0M430.9 40.7h0M430.9 87.4h0M429.4 68.4h0M432.2 53.5h0M429.1 65.9h0M428.0 67.1h0M429.2 38.7h0M433.2 49.0h0M429.5 41.2h0M432.8 38.9h0M428.9 46.7h0M431.2 55.7h0M428.9 26.1h0M432.2 49.0h0M433.0 30.3h0M430.6 51.5h0M429.9 62.4h0M428.4 44.4h0M429.8 29.4h0M432.8 60.7h0M432.9 45.9h0M429.3 30.8h0M431.4 43.2h0M431.1 58.1h0M431.4 66.3h0M431.0 23.3h0M428.1 33.0h0M430.0 46.0h0M433.3 48.7h0M430.9 50.7h0M428.5 56.6h0M430.6 30.4h0M431.0 70.8h0M432.8 67.1h0M431.1 38.7h0M429.5 51.9h0M433.2 43.4h0M432.7 49.0h0M431.1 46.5h0M433.1 37.6h0M428.2 49.5h0M432.1 32.5h0M430.0 50.3h0M432.5 49.7h0M430.0 47.2h0M428.2 65.1h0M432.0 60.4h0M428.6 52.6h0M429.3 75.0h0M431.2 54.7h0M429.9 61.1h0M430.7 44.5h0M428.3 34.8h0M431.1 55.9h0M433.2 29.1h0M432.1 29.4h0M428.8 43.2h0M430.5 44.0h0M433.3 50.1h0M428.9 54.6h0M431.5 48.6h0M432.9 58.2h0M428.7 60.3h0M430.1 44.9h0M429.4 59.0h0M433.2 24.8h0M432.2 48.3h0M428.8 57.8h0M428.0 68.0h0M430.6 40.6h0M432.9 46.5h0M431.4 68.1h0M431.0 64.3h0M428.8 43.5h0M432.7 45.0h0M430.4 48.1h0M428.9 68.4h0M429.2 64.2h0M429.0 60.0h0M430.9 54.3h0M431.5 59.4h0M431.6 68.8h0M431.8 80.1h0M433.4 64.0h0M432.5 50.1h0M430.6 64.0h0M432.0 53.3h0M428.7 49.6h0M429.4 49.1h0M430.2 83.3h0M432.1 33.0h0M431.5 32.4h0M433.3 51.6h0M429.3 70.6h0M430.1 37.4h0M428.6 58.0h0M429.8 64.0h0M432.8 76.5h0M431.8 67.1h0M430.0 77.3h0M432.0 32.2h0M431.3 51.8h0M431.2 58.8h0M428.4 54.2h0M429.6 52.7h0M431.5 58.9h0M432.7 29.5h0M430.9 36.9h0M429.3 51.0h0M432.2 52.8h0M432.9 50.4h0M431.8 61.2h0M432.9 38.6h0M430.7 50.2h0M429.7 51.5h0M432.6 82.4h0M428.6 51.7h0M429.2 40.8h0M431.4 83.7h0M430.0 81.4h0M432.4 105.0h0" stroke="#8858c0" stroke-opacity="0.85" stroke-width="1.8" stroke-linecap="round" fill="none"/>
<path d="M431.9 51.8h0M433.3 59.5h0M429.9 71.2h0M431.7 45.7h0M430.7 61.7h0M431.3 45.7h0M431.8 44.5h0M429.2 42.5h0M431.4 30.7h0M431.5 45.5h0M431.7 43.2h0M428.2 50.6h0M432.6 42.7h0M430.1 37.2h0M433.2 47.5h0M431.7 62.4h0M432.2 59.2h0M431.8 54.6h0M428.4 75.9h0M429.9 26.0h0M430.2 50.7h0M431.7 59.2h0M432.1 62.5h0M433.1 65.3h0M429.2 45.9h0M429.1 38.1h0M428.1 56.7h0M429.5 46.3h0M433.2 47.6h0M429.5 59.2h0M430.2 51.6h0M432.4 79.3h0M430.4 31.0h0M430.3 43.2h0M430.2 46.2h0M430.0 80.1h0M432.9 55.1h0M433.2 50.6h0M429.5 47.2h0M430.8 48.7h0M432.8 72.7h0M430.0 37.8h0M432.9 41.1h0M429.1 51.9h0M430.8 39.3h0M430.8 35.7h0M431.1 76.4h0M433.2 73.7h0M432.8 55.0h0M429.9 63.8h0M428.8 46.4h0M430.7 39.8h0M430.3 50.6h0M428.9 53.1h0M428.4 64.4h0M432.4 55.6h0M432.1 38.8h0M429.9 65.1h0M433.1 44.6h0M431.0 46.1h0M432.8 34.2h0M431.5 44.1h0M430.2 39.6h0M432.9 74.6h0M429.7 45.0h0M428.7 34.6h0M429.0 35.4h0M430.1 39.3h0M430.8 46.2h0M431.0 41.0h0M430.9 47.0h0M430.1 45.0h0M430.6 50.6h0M430.4 56.3h0M428.6 21.7h0M428.8 46.7h0M432.6 50.7h0M431.2 52.4h0M429.8 35.2h0M433.1 25.7h0M432.6 63.6h0M432.8 74.2h0M429.8 76.6h0M430.9 48.7h0M432.7 37.0h0M433.1 46.7h0M431.2 44.6h0M432.1 61.2h0M428.9 38.7h0M431.7 21.2h0M431.0 45.8h0M432.9 36.5h0M431.8 60.4h0M428.7 55.3h0M430.1 29.9h0M431.4 39.6h0M432.4 50.0h0M430.8 47.3h0M429.7 50.4h0M428.2 57.5h0M428.8 52.7h0M432.1 47.4h0M429.8 37.9h0M430.4 52.4h0M428.7 33.3h0M431.2 32.7h0M432.2 42.1h0M428.1 45.4h0M432.0 69.7h0M432.8 42.7h0M429.0 55.1h0M432.9 73.2h0M433.0 55.7h0M431.1 66.2h0M431.0 37.0h0M431.4 59.9h0M430.1 43.2h0M428.1 62.9h0M428.9 20.1h0M432.6 54.4h0M431.3 31.3h0M428.5 81.1h0M432.8 83.1h0M431.3 109.0h0" stroke="#8858c0" stroke-opacity="0.85" stroke-width="1.8" stroke-linecap="round" fill="none"/>
<path d="M432.3 74.2h0M431.7 43.9h0M433.1 52.4h0M428.0 33.0h0M432.7 62.0h0M431.6 66.5h0M430.7 48.9h0M431.2 69.8h0M432.4 39.9h0M429.1 41.7h0M433.1 72.9h0M431.7 35.8h0M433.0 48.5h0M433.4 50.9h0M430.1 74.0h0M432.0 48.6h0M433.3 57.5h0M429.8 73.0h0M430.2 78.2h0M432.4 65.7h0M429.9 54.3h0M431.1 52.8h0M432.2 33.8h0M431.2 43.7h0M431.4 81.8h0M433.4 48.8h0M429.5 56.4h0M431.3 47.6h0M428.1 72.1h0M432.4 37.7h0M432.6 65.9h0M432.7 54.0h0M430.1 52.5h0M428.1 46.7h0M428.1 34.1h0M431.2 23.6h0M430.0 51.2h0M433.3 44.0h0M428.9 55.2h0M429.2 22.4h0M429.5 47.1h0M432.5 41.3h0M429.4 58.7h0M431.0 49.7h0M432.7 70.5h0M430.6 45.5h0M430.5 58.3h0M430.4 31.9h0M433.3 47.7h0M431.5 53.0h0M429.8 54.6h0M431.8 70.5h0M432.6 45.7h0M432.6 52.1h0M431.7 69.5h0M430.3 57.1h0M431.5 62.5h0M429.1 48.4h0M431.4 40.9h0M429.2 63.0h0M429.3 36.8h0M431.3 62.5h0M432.8 49.3h0M432.2 57.8h0M429.5 52.9h0M431.8 60.8h0M429.6 49.8h0M431.0 28.4h0M433.3 53.5h0M430.8 24.9h0M429.7 79.0h0M428.3 60.7h0M428.7 42.9h0M429.8 22.2h0M430.4 51.9h0M428.7 54.0h0M431.4 56.7h0M431.1 60.7h0M430.7 45.2h0M430.5 38.4h0M432.9 51.3h0M432.9 42.6h0M428.1 55.0h0M432.9 84.8h0M431.7 45.4h0M430.2 45.2h0M429.4 52.7h0M429.3 47.2h0M432.1 65.4h0M429.3 59.6h0M430.4 77.3h0M431.4 49.4h0M429.1 62.4h0M431.1 64.1h0M433.2 38.8h0M429.1 76.0h0M430.0 42.0h0M429.8 48.6h0M430.0 40.7h0M432.3 38.5h0M432.0 55.4h0M432.4 47.2h0M432.5 53.4h0M430.4 87.7h0M428.7 56.7h0M432.0 72.6h0M428.3 65.5h0M428.9 57.7h0M432.7 50.4h0M429.2 89.2h0M431.6 66.3h0M432.3 51.9h0M429.5 21.2h0M432.6 60.6h0M428.2 79.5h0M429.1 57.4h0M433.1 31.9h0M433.4 58.5h0M431.6 45.8h0M430.2 55.3h0M432.5 80.5h0M431.5 21.0h0M432.9 102.0h0" stroke="#8858c0" stroke-opacity="0.85" stroke-width="1.8" stroke-linecap="round" fill="none"/>
<path d="M32.5 104.0h0M32.8 104.0h0M40.3 99.0h0M40.2 101.0h0M40.3 103.0h0M39.9 106.0h0M40.6 111.0h0M56.4 17.0h0M56.4 19.0h0M56.5 20.0h0M55.8 93.0h0M56.0 94.0h0M64.4 96.0h0M71.8 9.0h0M72.2 16.0h0M72.2 20.0h0M71.9 94.0h0M87.7 93.0h0M104.1 93.0h0M103.6 95.0h0M104.3 98.0h0M104.4 101.0h0M119.6 86.0h0M136.0 100.0h0M136.0 105.0h0M136.0 110.0h0M135.7 115.0h0M135.6 120.0h0M136.3 125.0h0M136.2 131.0h0M151.4 85.0h0M175.4 106.0h0M191.5 103.0h0M191.6 108.0h0M199.3 103.0h0M200.0 117.0h0M215.8 33.0h0M215.4 108.0h0M223.4 25.0h0M239.1 17.0h0M239.2 98.0h0M255.2 19.0h0M255.8 27.0h0M255.4 124.0h0M270.9 97.0h0M303.6 21.0h0M350.8 101.0h0M350.6 105.0h0M351.3 111.0h0M367.2 113.0h0M399.1 118.0h0M430.3 102.0h0M431.1 105.0h0M430.4 109.0h0M446.8 118.0h0M463.1 100.7h0M462.8 107.5h0M478.4 94.0h0M510.5 12.6h0M510.4 95.0h0" stroke="#808080" stroke-opacity="0.45" stroke-width="1.7" stroke-linecap="round" fill="none"/>
<path d="M32.30 29V50M32.30 72V88M31.10 29h2.4M31.10 88h2.4" stroke="#d42020" stroke-width="0.6" fill="none"/>
<rect x="29.10" y="50" width="6.4" height="22.00" fill="#fff" fill-opacity="0.55" stroke="#d42020" stroke-width="0.7"/>
<path d="M29.10 60h6.4" stroke="#d42020" stroke-width="0.7"/>
<path d="M40.27 28V50M40.27 64V95M39.07 28h2.4M39.07 95h2.4" stroke="#d42020" stroke-width="0.6" fill="none"/>
<rect x="37.07" y="50" width="6.4" height="14.00" fill="#fff" fill-opacity="0.12" stroke="#d42020" stroke-width="0.7"/>
<path d="M37.07 57h6.4" stroke="#d42020" stroke-width="0.7"/>
<path d="M48.24 54V58M48.24 72V76M47.04 54h2.4M47.04 76h2.4" stroke="#2a3a9a" stroke-width="0.6" fill="none"/>
<rect x="45.04" y="58" width="6.4" height="14.00" fill="#fff" fill-opacity="0.55" stroke="#2a3a9a" stroke-width="0.7"/>
<path d="M45.04 65h6.4" stroke="#2a3a9a" stroke-width="0.7"/>
<path d="M56.20 22V44M56.20 60V94M55.00 22h2.4M55.00 94h2.4" stroke="#d42020" stroke-width="0.6" fill="none"/>
<rect x="53.00" y="44" width="6.4" height="16.00" fill="#fff" fill-opacity="0.12" stroke="#d42020" stroke-width="0.7"/>
<path d="M53.00 52h6.4" stroke="#d42020" stroke-width="0.7"/>
<path d="M64.17 39V56M64.17 71V80M62.97 39h2.4M62.97 80h2.4" stroke="#2a3a9a" stroke-width="0.6" fill="none"/>
<rect x="60.97" y="56" width="6.4" height="15.00" fill="#fff" fill-opacity="0.55" stroke="#2a3a9a" stroke-width="0.7"/>
<path d="M60.97 63h6.4" stroke="#2a3a9a" stroke-width="0.7"/>
<path d="M72.14 30V47M72.14 65V88M70.94 30h2.4M70.94 88h2.4" stroke="#d42020" stroke-width="0.6" fill="none"/>
<rect x="68.94" y="47" width="6.4" height="18.00" fill="#fff" fill-opacity="0.3" stroke="#d42020" stroke-width="0.7"/>
<path d="M68.94 56h6.4" stroke="#d42020" stroke-width="0.7"/>
<path d="M80.11 34V48M80.11 64V86M78.91 34h2.4M78.91 86h2.4" stroke="#d42020" stroke-width="0.6" fill="none"/>
<rect x="76.91" y="48" width="6.4" height="16.00" fill="#fff" fill-opacity="0.55" stroke="#d42020" stroke-width="0.7"/>
<path d="M76.91 56h6.4" stroke="#d42020" stroke-width="0.7"/>
<path d="M88.08 30V47M88.08 63V90M86.88 30h2.4M86.88 90h2.4" stroke="#d42020" stroke-width="0.6" fill="none"/>
<rect x="84.88" y="47" width="6.4" height="16.00" fill="#fff" fill-opacity="0.12" stroke="#d42020" stroke-width="0.7"/>
<path d="M84.88 55h6.4" stroke="#d42020" stroke-width="0.7"/>
<path d="M96.04 26V44M96.04 60V84M94.84 26h2.4M94.84 84h2.4" stroke="#d42020" stroke-width="0.6" fill="none"/>
<rect x="92.84" y="44" width="6.4" height="16.00" fill="#fff" fill-opacity="0.3" stroke="#d42020" stroke-width="0.7"/>
<path d="M92.84 52h6.4" stroke="#d42020" stroke-width="0.7"/>
<path d="M104.01 27V45M104.01 61V85M102.81 27h2.4M102.81 85h2.4" stroke="#d42020" stroke-width="0.6" fill="none"/>
<rect x="100.81" y="45" width="6.4" height="16.00" fill="#fff" fill-opacity="0.3" stroke="#d42020" stroke-width="0.7"/>
<path d="M100.81 53h6.4" stroke="#d42020" stroke-width="0.7"/>
<path d="M111.98 32V45M111.98 59V63M110.78 32h2.4M110.78 63h2.4" stroke="#2a3a9a" stroke-width="0.6" fill="none"/>
<rect x="108.78" y="45" width="6.4" height="14.00" fill="#fff" fill-opacity="0.55" stroke="#2a3a9a" stroke-width="0.7"/>
<path d="M108.78 50h6.4" stroke="#2a3a9a" stroke-width="0.7"/>
<path d="M119.95 33V53M119.95 65V78M118.75 33h2.4M118.75 78h2.4" stroke="#d42020" stroke-width="0.6" fill="none"/>
<rect x="116.75" y="53" width="6.4" height="12.00" fill="#fff" fill-opacity="0.55" stroke="#d42020" stroke-width="0.7"/>
<path d="M116.75 58h6.4" stroke="#d42020" stroke-width="0.7"/>
<path d="M127.92 98V103M127.92 112V114M126.72 98h2.4M126.72 114h2.4" stroke="#2a3a9a" stroke-width="0.6" fill="none"/>
<rect x="124.72" y="103" width="6.4" height="9.00" fill="#fff" fill-opacity="0.55" stroke="#2a3a9a" stroke-width="0.7"/>
<path d="M124.72 107h6.4" stroke="#2a3a9a" stroke-width="0.7"/>
<path d="M135.88 27V55M135.88 72V98M134.68 27h2.4M134.68 98h2.4" stroke="#d42020" stroke-width="0.6" fill="none"/>
<rect x="132.68" y="55" width="6.4" height="17.00" fill="#fff" fill-opacity="0.12" stroke="#d42020" stroke-width="0.7"/>
<path d="M132.68 62h6.4" stroke="#d42020" stroke-width="0.7"/>
<path d="M143.85 58V63M143.85 82V94M142.65 58h2.4M142.65 94h2.4" stroke="#2a3a9a" stroke-width="0.6" fill="none"/>
<rect x="140.65" y="63" width="6.4" height="19.00" fill="#fff" fill-opacity="0.55" stroke="#2a3a9a" stroke-width="0.7"/>
<path d="M140.65 72h6.4" stroke="#2a3a9a" stroke-width="0.7"/>
<path d="M151.82 24V41M151.82 57V64M150.62 24h2.4M150.62 64h2.4" stroke="#d42020" stroke-width="0.6" fill="none"/>
<rect x="148.62" y="41" width="6.4" height="16.00" fill="#fff" fill-opacity="0.55" stroke="#d42020" stroke-width="0.7"/>
<path d="M148.62 48h6.4" stroke="#d42020" stroke-width="0.7"/>
<path d="M159.79 57V72M159.79 88V108M158.59 57h2.4M158.59 108h2.4" stroke="#d42020" stroke-width="0.6" fill="none"/>
<rect x="156.59" y="72" width="6.4" height="16.00" fill="#fff" fill-opacity="0.3" stroke="#d42020" stroke-width="0.7"/>
<path d="M156.59 80h6.4" stroke="#d42020" stroke-width="0.7"/>
<path d="M167.76 75V100M167.76 121V133M166.56 75h2.4M166.56 133h2.4" stroke="#2a3a9a" stroke-width="0.6" fill="none"/>
<rect x="164.56" y="100" width="6.4" height="21.00" fill="#fff" fill-opacity="0.55" stroke="#2a3a9a" stroke-width="0.7"/>
<path d="M164.56 109h6.4" stroke="#2a3a9a" stroke-width="0.7"/>
<path d="M175.72 64V75M175.72 85V100M174.52 64h2.4M174.52 100h2.4" stroke="#d42020" stroke-width="0.6" fill="none"/>
<rect x="172.52" y="75" width="6.4" height="10.00" fill="#fff" fill-opacity="0.3" stroke="#d42020" stroke-width="0.7"/>
<path d="M172.52 80h6.4" stroke="#d42020" stroke-width="0.7"/>
<path d="M183.69 87V88M183.69 94V95M182.49 87h2.4M182.49 95h2.4" stroke="#2a3a9a" stroke-width="0.6" fill="none"/>
<rect x="180.49" y="88" width="6.4" height="6.00" fill="#fff" fill-opacity="0.55" stroke="#2a3a9a" stroke-width="0.7"/>
<path d="M180.49 91h6.4" stroke="#2a3a9a" stroke-width="0.7"/>
<path d="M191.66 33V58M191.66 74V100M190.46 33h2.4M190.46 100h2.4" stroke="#d42020" stroke-width="0.6" fill="none"/>
<rect x="188.46" y="58" width="6.4" height="16.00" fill="#fff" fill-opacity="0.12" stroke="#d42020" stroke-width="0.7"/>
<path d="M188.46 66h6.4" stroke="#d42020" stroke-width="0.7"/>
<path d="M199.63 55V63M199.63 85V95M198.43 55h2.4M198.43 95h2.4" stroke="#2a3a9a" stroke-width="0.6" fill="none"/>
<rect x="196.43" y="63" width="6.4" height="22.00" fill="#fff" fill-opacity="0.55" stroke="#2a3a9a" stroke-width="0.7"/>
<path d="M196.43 74h6.4" stroke="#2a3a9a" stroke-width="0.7"/>
<path d="M207.60 41V60M207.60 72V95M206.40 41h2.4M206.40 95h2.4" stroke="#d42020" stroke-width="0.6" fill="none"/>
<rect x="204.40" y="60" width="6.4" height="12.00" fill="#fff" fill-opacity="0.55" stroke="#d42020" stroke-width="0.7"/>
<path d="M204.40 66h6.4" stroke="#d42020" stroke-width="0.7"/>
<path d="M215.56 36V57M215.56 71V100M214.36 36h2.4M214.36 100h2.4" stroke="#d42020" stroke-width="0.6" fill="none"/>
<rect x="212.36" y="57" width="6.4" height="14.00" fill="#fff" fill-opacity="0.12" stroke="#d42020" stroke-width="0.7"/>
<path d="M212.36 64h6.4" stroke="#d42020" stroke-width="0.7"/>
<path d="M223.53 38V65M223.53 88V118M222.33 38h2.4M222.33 118h2.4" stroke="#d42020" stroke-width="0.6" fill="none"/>
<rect x="220.33" y="65" width="6.4" height="23.00" fill="#fff" fill-opacity="0.55" stroke="#d42020" stroke-width="0.7"/>
<path d="M220.33 76h6.4" stroke="#d42020" stroke-width="0.7"/>
<path d="M231.50 58V63M231.50 73V80M230.30 58h2.4M230.30 80h2.4" stroke="#2a3a9a" stroke-width="0.6" fill="none"/>
<rect x="228.30" y="63" width="6.4" height="10.00" fill="#fff" fill-opacity="0.55" stroke="#2a3a9a" stroke-width="0.7"/>
<path d="M228.30 68h6.4" stroke="#2a3a9a" stroke-width="0.7"/>
<path d="M239.47 20V42M239.47 58V88M238.27 20h2.4M238.27 88h2.4" stroke="#d42020" stroke-width="0.6" fill="none"/>
<rect x="236.27" y="42" width="6.4" height="16.00" fill="#fff" fill-opacity="0.12" stroke="#d42020" stroke-width="0.7"/>
<path d="M236.27 50h6.4" stroke="#d42020" stroke-width="0.7"/>
<path d="M247.44 50V58M247.44 72V83M246.24 50h2.4M246.24 83h2.4" stroke="#2a3a9a" stroke-width="0.6" fill="none"/>
<rect x="244.24" y="58" width="6.4" height="14.00" fill="#fff" fill-opacity="0.55" stroke="#2a3a9a" stroke-width="0.7"/>
<path d="M244.24 65h6.4" stroke="#2a3a9a" stroke-width="0.7"/>
<path d="M255.40 36V57M255.40 73V111M254.20 36h2.4M254.20 111h2.4" stroke="#d42020" stroke-width="0.6" fill="none"/>
<rect x="252.20" y="57" width="6.4" height="16.00" fill="#fff" fill-opacity="0.3" stroke="#d42020" stroke-width="0.7"/>
<path d="M252.20 65h6.4" stroke="#d42020" stroke-width="0.7"/>
<path d="M263.37 62V67M263.37 77V82M262.17 62h2.4M262.17 82h2.4" stroke="#2a3a9a" stroke-width="0.6" fill="none"/>
<rect x="260.17" y="67" width="6.4" height="10.00" fill="#fff" fill-opacity="0.55" stroke="#2a3a9a" stroke-width="0.7"/>
<path d="M260.17 72h6.4" stroke="#2a3a9a" stroke-width="0.7"/>
<path d="M271.34 32V51M271.34 65V90M270.14 32h2.4M270.14 90h2.4" stroke="#d42020" stroke-width="0.6" fill="none"/>
<rect x="268.14" y="51" width="6.4" height="14.00" fill="#fff" fill-opacity="0.3" stroke="#d42020" stroke-width="0.7"/>
<path d="M268.14 58h6.4" stroke="#d42020" stroke-width="0.7"/>
<path d="M279.31 38V63M279.31 77V104M278.11 38h2.4M278.11 104h2.4" stroke="#d42020" stroke-width="0.6" fill="none"/>
<rect x="276.11" y="63" width="6.4" height="14.00" fill="#fff" fill-opacity="0.12" stroke="#d42020" stroke-width="0.7"/>
<path d="M276.11 70h6.4" stroke="#d42020" stroke-width="0.7"/>
<path d="M287.28 31V66M287.28 83V126M286.08 31h2.4M286.08 126h2.4" stroke="#d42020" stroke-width="0.6" fill="none"/>
<rect x="284.08" y="66" width="6.4" height="17.00" fill="#fff" fill-opacity="0.3" stroke="#d42020" stroke-width="0.7"/>
<path d="M284.08 74h6.4" stroke="#d42020" stroke-width="0.7"/>
<path d="M295.24 86V92M295.24 108V125M294.04 86h2.4M294.04 125h2.4" stroke="#2a3a9a" stroke-width="0.6" fill="none"/>
<rect x="292.04" y="92" width="6.4" height="16.00" fill="#fff" fill-opacity="0.55" stroke="#2a3a9a" stroke-width="0.7"/>
<path d="M292.04 100h6.4" stroke="#2a3a9a" stroke-width="0.7"/>
<path d="M303.21 28V51M303.21 65V93M302.01 28h2.4M302.01 93h2.4" stroke="#d42020" stroke-width="0.6" fill="none"/>
<rect x="300.01" y="51" width="6.4" height="14.00" fill="#fff" fill-opacity="0.12" stroke="#d42020" stroke-width="0.7"/>
<path d="M300.01 58h6.4" stroke="#d42020" stroke-width="0.7"/>
<path d="M311.18 62V68M311.18 80V88M309.98 62h2.4M309.98 88h2.4" stroke="#2a3a9a" stroke-width="0.6" fill="none"/>
<rect x="307.98" y="68" width="6.4" height="12.00" fill="#fff" fill-opacity="0.55" stroke="#2a3a9a" stroke-width="0.7"/>
<path d="M307.98 74h6.4" stroke="#2a3a9a" stroke-width="0.7"/>
<path d="M319.15 25V49M319.15 63V88M317.95 25h2.4M317.95 88h2.4" stroke="#d42020" stroke-width="0.6" fill="none"/>
<rect x="315.95" y="49" width="6.4" height="14.00" fill="#fff" fill-opacity="0.12" stroke="#d42020" stroke-width="0.7"/>
<path d="M315.95 56h6.4" stroke="#d42020" stroke-width="0.7"/>
<path d="M327.12 62V68M327.12 80V88M325.92 62h2.4M325.92 88h2.4" stroke="#2a3a9a" stroke-width="0.6" fill="none"/>
<rect x="323.92" y="68" width="6.4" height="12.00" fill="#fff" fill-opacity="0.55" stroke="#2a3a9a" stroke-width="0.7"/>
<path d="M323.92 74h6.4" stroke="#2a3a9a" stroke-width="0.7"/>
<path d="M335.08 27V49M335.08 67V80M333.88 27h2.4M333.88 80h2.4" stroke="#d42020" stroke-width="0.6" fill="none"/>
<rect x="331.88" y="49" width="6.4" height="18.00" fill="#fff" fill-opacity="0.55" stroke="#d42020" stroke-width="0.7"/>
<path d="M331.88 58h6.4" stroke="#d42020" stroke-width="0.7"/>
<path d="M343.05 44V68M343.05 84V116M341.85 44h2.4M341.85 116h2.4" stroke="#d42020" stroke-width="0.6" fill="none"/>
<rect x="339.85" y="68" width="6.4" height="16.00" fill="#fff" fill-opacity="0.3" stroke="#d42020" stroke-width="0.7"/>
<path d="M339.85 76h6.4" stroke="#d42020" stroke-width="0.7"/>
<path d="M351.02 45V55M351.02 75V95M349.82 45h2.4M349.82 95h2.4" stroke="#d42020" stroke-width="0.6" fill="none"/>
<rect x="347.82" y="55" width="6.4" height="20.00" fill="#fff" fill-opacity="0.3" stroke="#d42020" stroke-width="0.7"/>
<path d="M347.82 65h6.4" stroke="#d42020" stroke-width="0.7"/>
<path d="M358.99 64V64M358.99 73V73M357.79 64h2.4M357.79 73h2.4" stroke="#2a3a9a" stroke-width="0.6" fill="none"/>
<rect x="355.79" y="64" width="6.4" height="9.00" fill="#fff" fill-opacity="0.55" stroke="#2a3a9a" stroke-width="0.7"/>
<path d="M355.79 68h6.4" stroke="#2a3a9a" stroke-width="0.7"/>
<path d="M366.96 44V58M366.96 75V100M365.76 44h2.4M365.76 100h2.4" stroke="#d42020" stroke-width="0.6" fill="none"/>
<rect x="363.76" y="58" width="6.4" height="17.00" fill="#fff" fill-opacity="0.3" stroke="#d42020" stroke-width="0.7"/>
<path d="M363.76 66h6.4" stroke="#d42020" stroke-width="0.7"/>
<path d="M374.92 74V74M374.92 78V78M373.72 74h2.4M373.72 78h2.4" stroke="#2a3a9a" stroke-width="0.6" fill="none"/>
<rect x="371.72" y="74" width="6.4" height="4.00" fill="#fff" fill-opacity="0.55" stroke="#2a3a9a" stroke-width="0.7"/>
<path d="M371.72 76h6.4" stroke="#2a3a9a" stroke-width="0.7"/>
<path d="M382.89 31V51M382.89 66V92M381.69 31h2.4M381.69 92h2.4" stroke="#d42020" stroke-width="0.6" fill="none"/>
<rect x="379.69" y="51" width="6.4" height="15.00" fill="#fff" fill-opacity="0.12" stroke="#d42020" stroke-width="0.7"/>
<path d="M379.69 58h6.4" stroke="#d42020" stroke-width="0.7"/>
<path d="M390.86 43V60M390.86 75V86M389.66 43h2.4M389.66 86h2.4" stroke="#2a3a9a" stroke-width="0.6" fill="none"/>
<rect x="387.66" y="60" width="6.4" height="15.00" fill="#fff" fill-opacity="0.55" stroke="#2a3a9a" stroke-width="0.7"/>
<path d="M387.66 67h6.4" stroke="#2a3a9a" stroke-width="0.7"/>
<path d="M398.83 19V46M398.83 64V111M397.63 19h2.4M397.63 111h2.4" stroke="#d42020" stroke-width="0.6" fill="none"/>
<rect x="395.63" y="46" width="6.4" height="18.00" fill="#fff" fill-opacity="0.3" stroke="#d42020" stroke-width="0.7"/>
<path d="M395.63 55h6.4" stroke="#d42020" stroke-width="0.7"/>
<path d="M406.80 56V63M406.80 71V73M405.60 56h2.4M405.60 73h2.4" stroke="#2a3a9a" stroke-width="0.6" fill="none"/>
<rect x="403.60" y="63" width="6.4" height="8.00" fill="#fff" fill-opacity="0.55" stroke="#2a3a9a" stroke-width="0.7"/>
<path d="M403.60 67h6.4" stroke="#2a3a9a" stroke-width="0.7"/>
<path d="M414.76 28V56M414.76 74V104M413.56 28h2.4M413.56 104h2.4" stroke="#d42020" stroke-width="0.6" fill="none"/>
<rect x="411.56" y="56" width="6.4" height="18.00" fill="#fff" fill-opacity="0.3" stroke="#d42020" stroke-width="0.7"/>
<path d="M411.56 65h6.4" stroke="#d42020" stroke-width="0.7"/>
<path d="M422.73 26V44M422.73 60V110M421.53 26h2.4M421.53 110h2.4" stroke="#d42020" stroke-width="0.6" fill="none"/>
<rect x="419.53" y="44" width="6.4" height="16.00" fill="#fff" fill-opacity="0.55" stroke="#d42020" stroke-width="0.7"/>
<path d="M419.53 52h6.4" stroke="#d42020" stroke-width="0.7"/>
<path d="M430.70 18V45M430.70 59V90M429.50 18h2.4M429.50 90h2.4" stroke="#6a40a8" stroke-width="0.6" fill="none"/>
<rect x="427.50" y="45" width="6.4" height="14.00" fill="#fff" fill-opacity="0.3" stroke="#6a40a8" stroke-width="0.7"/>
<path d="M427.50 52h6.4" stroke="#6a40a8" stroke-width="0.7"/>
<path d="M438.67 45V70M438.67 86V117M437.47 45h2.4M437.47 117h2.4" stroke="#d42020" stroke-width="0.6" fill="none"/>
<rect x="435.47" y="70" width="6.4" height="16.00" fill="#fff" fill-opacity="0.12" stroke="#d42020" stroke-width="0.7"/>
<path d="M435.47 78h6.4" stroke="#d42020" stroke-width="0.7"/>
<path d="M446.64 85V87M446.64 106V112M445.44 85h2.4M445.44 112h2.4" stroke="#2a3a9a" stroke-width="0.6" fill="none"/>
<rect x="443.44" y="87" width="6.4" height="19.00" fill="#fff" fill-opacity="0.55" stroke="#2a3a9a" stroke-width="0.7"/>
<path d="M443.44 96h6.4" stroke="#2a3a9a" stroke-width="0.7"/>
<path d="M454.60 18V33M454.60 57V76M453.40 18h2.4M453.40 76h2.4" stroke="#d42020" stroke-width="0.6" fill="none"/>
<rect x="451.40" y="33" width="6.4" height="24.00" fill="#fff" fill-opacity="0.3" stroke="#d42020" stroke-width="0.7"/>
<path d="M451.40 45h6.4" stroke="#d42020" stroke-width="0.7"/>
<path d="M462.57 29V50M462.57 64V88M461.37 29h2.4M461.37 88h2.4" stroke="#d42020" stroke-width="0.6" fill="none"/>
<rect x="459.37" y="50" width="6.4" height="14.00" fill="#fff" fill-opacity="0.12" stroke="#d42020" stroke-width="0.7"/>
<path d="M459.37 57h6.4" stroke="#d42020" stroke-width="0.7"/>
<path d="M470.54 45V50M470.54 64V76M469.34 45h2.4M469.34 76h2.4" stroke="#2a3a9a" stroke-width="0.6" fill="none"/>
<rect x="467.34" y="50" width="6.4" height="14.00" fill="#fff" fill-opacity="0.55" stroke="#2a3a9a" stroke-width="0.7"/>
<path d="M467.34 57h6.4" stroke="#2a3a9a" stroke-width="0.7"/>
<path d="M478.51 31V40M478.51 55V86M477.31 31h2.4M477.31 86h2.4" stroke="#d42020" stroke-width="0.6" fill="none"/>
<rect x="475.31" y="40" width="6.4" height="15.00" fill="#fff" fill-opacity="0.55" stroke="#d42020" stroke-width="0.7"/>
<path d="M475.31 48h6.4" stroke="#d42020" stroke-width="0.7"/>
<path d="M486.48 27V56M486.48 75V117M485.28 27h2.4M485.28 117h2.4" stroke="#d42020" stroke-width="0.6" fill="none"/>
<rect x="483.28" y="56" width="6.4" height="19.00" fill="#fff" fill-opacity="0.12" stroke="#d42020" stroke-width="0.7"/>
<path d="M483.28 65h6.4" stroke="#d42020" stroke-width="0.7"/>
<path d="M494.44 26V39M494.44 58.5V73M493.24 26h2.4M493.24 73h2.4" stroke="#2a3a9a" stroke-width="0.6" fill="none"/>
<rect x="491.24" y="39" width="6.4" height="19.50" fill="#fff" fill-opacity="0.55" stroke="#2a3a9a" stroke-width="0.7"/>
<path d="M491.24 48h6.4" stroke="#2a3a9a" stroke-width="0.7"/>
<path d="M502.41 28V37M502.41 56.6V70M501.21 28h2.4M501.21 70h2.4" stroke="#d42020" stroke-width="0.6" fill="none"/>
<rect x="499.21" y="37" width="6.4" height="19.60" fill="#fff" fill-opacity="0.55" stroke="#d42020" stroke-width="0.7"/>
<path d="M499.21 46h6.4" stroke="#d42020" stroke-width="0.7"/>
<path d="M510.38 33V45M510.38 67V87M509.18 33h2.4M509.18 87h2.4" stroke="#d42020" stroke-width="0.6" fill="none"/>
<rect x="507.18" y="45" width="6.4" height="22.00" fill="#fff" fill-opacity="0.55" stroke="#d42020" stroke-width="0.7"/>
<path d="M507.18 55h6.4" stroke="#d42020" stroke-width="0.7"/>
<path d="M27.5 3.0H515.0" stroke="#b8b8b8" stroke-width="1.6" fill="none"/><path d="M515.4 3.0V139.2" stroke="#b4b4b4" stroke-width="1.1" fill="none"/>
<path d="M27.5 3.0V139.2H515.0" stroke="#a2a2a2" stroke-width="1.2" fill="none"/>
<path d="M24.9 122.75H27.5" stroke="#333" stroke-width="0.9"/>
<text x="24.6" y="125.05" font-family="DejaVu Sans, sans-serif" font-size="6.4" text-anchor="end" fill="#1a1a1a" stroke="#1a1a1a" stroke-width="0.2">6</text>
<path d="M24.9 83.00H27.5" stroke="#333" stroke-width="0.9"/>
<text x="24.6" y="85.30" font-family="DejaVu Sans, sans-serif" font-size="6.4" text-anchor="end" fill="#1a1a1a" stroke="#1a1a1a" stroke-width="0.2">8</text>
<path d="M24.9 43.25H27.5" stroke="#333" stroke-width="0.9"/>
<text x="24.6" y="45.55" font-family="DejaVu Sans, sans-serif" font-size="6.4" text-anchor="end" fill="#1a1a1a" stroke="#1a1a1a" stroke-width="0.2">10</text>
<path d="M24.9 3.50H27.5" stroke="#333" stroke-width="0.9"/>
<text x="24.6" y="5.80" font-family="DejaVu Sans, sans-serif" font-size="6.4" text-anchor="end" fill="#1a1a1a" stroke="#1a1a1a" stroke-width="0.2">12</text>
<path d="M32.30 139.2v2.4M40.27 139.2v2.4M48.24 139.2v2.4M56.20 139.2v2.4M64.17 139.2v2.4M72.14 139.2v2.4M80.11 139.2v2.4M88.08 139.2v2.4M96.04 139.2v2.4M104.01 139.2v2.4M111.98 139.2v2.4M119.95 139.2v2.4M127.92 139.2v2.4M135.88 139.2v2.4M143.85 139.2v2.4M151.82 139.2v2.4M159.79 139.2v2.4M167.76 139.2v2.4M175.72 139.2v2.4M183.69 139.2v2.4M191.66 139.2v2.4M199.63 139.2v2.4M207.60 139.2v2.4M215.56 139.2v2.4M223.53 139.2v2.4M231.50 139.2v2.4M239.47 139.2v2.4M247.44 139.2v2.4M255.40 139.2v2.4M263.37 139.2v2.4M271.34 139.2v2.4M279.31 139.2v2.4M287.28 139.2v2.4M295.24 139.2v2.4M303.21 139.2v2.4M311.18 139.2v2.4M319.15 139.2v2.4M327.12 139.2v2.4M335.08 139.2v2.4M343.05 139.2v2.4M351.02 139.2v2.4M358.99 139.2v2.4M366.96 139.2v2.4M374.92 139.2v2.4M382.89 139.2v2.4M390.86 139.2v2.4M398.83 139.2v2.4M406.80 139.2v2.4M414.76 139.2v2.4M422.73 139.2v2.4M430.70 139.2v2.4M438.67 139.2v2.4M446.64 139.2v2.4M454.60 139.2v2.4M462.57 139.2v2.4M470.54 139.2v2.4M478.51 139.2v2.4M486.48 139.2v2.4M494.44 139.2v2.4M502.41 139.2v2.4M510.38 139.2v2.4" stroke="#333" stroke-width="0.9"/>
<text transform="translate(34.00,143.7) rotate(-90)" font-family="DejaVu Sans, sans-serif" font-size="6.1" text-anchor="end" fill="#1a1a1a" stroke="#1a1a1a" stroke-width="0.32">ACC.Tumor (<tspan font-style="italic">n</tspan> = 79)</text>
<text transform="translate(41.97,143.7) rotate(-90)" font-family="DejaVu Sans, sans-serif" font-size="6.1" text-anchor="end" fill="#1a1a1a" stroke="#1a1a1a" stroke-width="0.32">BLCA.Tumor (<tspan font-style="italic">n</tspan> = 408)</text>
<text transform="translate(49.94,143.7) rotate(-90)" font-family="DejaVu Sans, sans-serif" font-size="6.1" text-anchor="end" fill="#1a1a1a" stroke="#1a1a1a" stroke-width="0.32">BLCA.Normal (<tspan font-style="italic">n</tspan> = 19)</text>
<text transform="translate(57.90,143.7) rotate(-90)" font-family="DejaVu Sans, sans-serif" font-size="6.1" text-anchor="end" fill="#1a1a1a" stroke="#1a1a1a" stroke-width="0.32">BRCA.Tumor (<tspan font-style="italic">n</tspan> = 1093)</text>
<text transform="translate(65.87,143.7) rotate(-90)" font-family="DejaVu Sans, sans-serif" font-size="6.1" text-anchor="end" fill="#1a1a1a" stroke="#1a1a1a" stroke-width="0.32">BRCA.Normal (<tspan font-style="italic">n</tspan> = 112)</text>
<text transform="translate(73.84,143.7) rotate(-90)" font-family="DejaVu Sans, sans-serif" font-size="6.1" text-anchor="end" fill="#1a1a1a" stroke="#1a1a1a" stroke-width="0.32">BRCA-Basal.Tumor (<tspan font-style="italic">n</tspan> = 190)</text>
<text transform="translate(81.81,143.7) rotate(-90)" font-family="DejaVu Sans, sans-serif" font-size="6.1" text-anchor="end" fill="#1a1a1a" stroke="#1a1a1a" stroke-width="0.32">BRCA-Her2.Tumor (<tspan font-style="italic">n</tspan> = 82)</text>
<text transform="translate(89.78,143.7) rotate(-90)" font-family="DejaVu Sans, sans-serif" font-size="6.1" text-anchor="end" fill="#1a1a1a" stroke="#1a1a1a" stroke-width="0.32">BRCA-LumA.Tumor (<tspan font-style="italic">n</tspan> = 564)</text>
<text transform="translate(97.74,143.7) rotate(-90)" font-family="DejaVu Sans, sans-serif" font-size="6.1" text-anchor="end" fill="#1a1a1a" stroke="#1a1a1a" stroke-width="0.32">BRCA-LumB.Tumor (<tspan font-style="italic">n</tspan> = 217)</text>
<text transform="translate(105.71,143.7) rotate(-90)" font-family="DejaVu Sans, sans-serif" font-size="6.1" text-anchor="end" fill="#1a1a1a" stroke="#1a1a1a" stroke-width="0.32">CESC.Tumor (<tspan font-style="italic">n</tspan> = 304)</text>
<text transform="translate(113.68,143.7) rotate(-90)" font-family="DejaVu Sans, sans-serif" font-size="6.1" text-anchor="end" fill="#1a1a1a" stroke="#1a1a1a" stroke-width="0.32">CESC.Normal (<tspan font-style="italic">n</tspan> = 3)</text>
<text transform="translate(121.65,143.7) rotate(-90)" font-family="DejaVu Sans, sans-serif" font-size="6.1" text-anchor="end" fill="#1a1a1a" stroke="#1a1a1a" stroke-width="0.32">CHOL.Tumor (<tspan font-style="italic">n</tspan> = 36)</text>
<text transform="translate(129.62,143.7) rotate(-90)" font-family="DejaVu Sans, sans-serif" font-size="6.1" text-anchor="end" fill="#1a1a1a" stroke="#1a1a1a" stroke-width="0.32">CHOL.Normal (<tspan font-style="italic">n</tspan> = 9)</text>
<text transform="translate(137.58,143.7) rotate(-90)" font-family="DejaVu Sans, sans-serif" font-size="6.1" text-anchor="end" fill="#1a1a1a" stroke="#1a1a1a" stroke-width="0.32">COAD.Tumor (<tspan font-style="italic">n</tspan> = 457)</text>
<text transform="translate(145.55,143.7) rotate(-90)" font-family="DejaVu Sans, sans-serif" font-size="6.1" text-anchor="end" fill="#1a1a1a" stroke="#1a1a1a" stroke-width="0.32">COAD.Normal (<tspan font-style="italic">n</tspan> = 41)</text>
<text transform="translate(153.52,143.7) rotate(-90)" font-family="DejaVu Sans, sans-serif" font-size="6.1" text-anchor="end" fill="#1a1a1a" stroke="#1a1a1a" stroke-width="0.32">DLBC.Tumor (<tspan font-style="italic">n</tspan> = 48)</text>
<text transform="translate(161.49,143.7) rotate(-90)" font-family="DejaVu Sans, sans-serif" font-size="6.1" text-anchor="end" fill="#1a1a1a" stroke="#1a1a1a" stroke-width="0.32">ESCA.Tumor (<tspan font-style="italic">n</tspan> = 184)</text>
<text transform="translate(169.46,143.7) rotate(-90)" font-family="DejaVu Sans, sans-serif" font-size="6.1" text-anchor="end" fill="#1a1a1a" stroke="#1a1a1a" stroke-width="0.32">ESCA.Normal (<tspan font-style="italic">n</tspan> = 11)</text>
<text transform="translate(177.42,143.7) rotate(-90)" font-family="DejaVu Sans, sans-serif" font-size="6.1" text-anchor="end" fill="#1a1a1a" stroke="#1a1a1a" stroke-width="0.32">GBM.Tumor (<tspan font-style="italic">n</tspan> = 153)</text>
<text transform="translate(185.39,143.7) rotate(-90)" font-family="DejaVu Sans, sans-serif" font-size="6.1" text-anchor="end" fill="#1a1a1a" stroke="#1a1a1a" stroke-width="0.32">GBM.Normal (<tspan font-style="italic">n</tspan> = 5)</text>
<text transform="translate(193.36,143.7) rotate(-90)" font-family="DejaVu Sans, sans-serif" font-size="6.1" text-anchor="end" fill="#1a1a1a" stroke="#1a1a1a" stroke-width="0.32">HNSC.Tumor (<tspan font-style="italic">n</tspan> = 520)</text>
<text transform="translate(201.33,143.7) rotate(-90)" font-family="DejaVu Sans, sans-serif" font-size="6.1" text-anchor="end" fill="#1a1a1a" stroke="#1a1a1a" stroke-width="0.32">HNSC.Normal (<tspan font-style="italic">n</tspan> = 44)</text>
<text transform="translate(209.30,143.7) rotate(-90)" font-family="DejaVu Sans, sans-serif" font-size="6.1" text-anchor="end" fill="#1a1a1a" stroke="#1a1a1a" stroke-width="0.32">HNSC-HPV+.Tumor (<tspan font-style="italic">n</tspan> = 97)</text>
<text transform="translate(217.26,143.7) rotate(-90)" font-family="DejaVu Sans, sans-serif" font-size="6.1" text-anchor="end" fill="#1a1a1a" stroke="#1a1a1a" stroke-width="0.32">HNSC-HPV-.Tumor (<tspan font-style="italic">n</tspan> = 421)</text>
<text transform="translate(225.23,143.7) rotate(-90)" font-family="DejaVu Sans, sans-serif" font-size="6.1" text-anchor="end" fill="#1a1a1a" stroke="#1a1a1a" stroke-width="0.32">KICH.Tumor (<tspan font-style="italic">n</tspan> = 66)</text>
<text transform="translate(233.20,143.7) rotate(-90)" font-family="DejaVu Sans, sans-serif" font-size="6.1" text-anchor="end" fill="#1a1a1a" stroke="#1a1a1a" stroke-width="0.32">KICH.Normal (<tspan font-style="italic">n</tspan> = 25)</text>
<text transform="translate(241.17,143.7) rotate(-90)" font-family="DejaVu Sans, sans-serif" font-size="6.1" text-anchor="end" fill="#1a1a1a" stroke="#1a1a1a" stroke-width="0.32">KIRC.Tumor (<tspan font-style="italic">n</tspan> = 533)</text>
<text transform="translate(249.14,143.7) rotate(-90)" font-family="DejaVu Sans, sans-serif" font-size="6.1" text-anchor="end" fill="#1a1a1a" stroke="#1a1a1a" stroke-width="0.32">KIRC.Normal (<tspan font-style="italic">n</tspan> = 72)</text>
<text transform="translate(257.10,143.7) rotate(-90)" font-family="DejaVu Sans, sans-serif" font-size="6.1" text-anchor="end" fill="#1a1a1a" stroke="#1a1a1a" stroke-width="0.32">KIRP.Tumor (<tspan font-style="italic">n</tspan> = 290)</text>
<text transform="translate(265.07,143.7) rotate(-90)" font-family="DejaVu Sans, sans-serif" font-size="6.1" text-anchor="end" fill="#1a1a1a" stroke="#1a1a1a" stroke-width="0.32">KIRP.Normal (<tspan font-style="italic">n</tspan> = 32)</text>
<text transform="translate(273.04,143.7) rotate(-90)" font-family="DejaVu Sans, sans-serif" font-size="6.1" text-anchor="end" fill="#1a1a1a" stroke="#1a1a1a" stroke-width="0.32">LAML.Tumor (<tspan font-style="italic">n</tspan> = 173)</text>
<text transform="translate(281.01,143.7) rotate(-90)" font-family="DejaVu Sans, sans-serif" font-size="6.1" text-anchor="end" fill="#1a1a1a" stroke="#1a1a1a" stroke-width="0.32">LGG.Tumor (<tspan font-style="italic">n</tspan> = 516)</text>
<text transform="translate(288.98,143.7) rotate(-90)" font-family="DejaVu Sans, sans-serif" font-size="6.1" text-anchor="end" fill="#1a1a1a" stroke="#1a1a1a" stroke-width="0.32">LIHC.Tumor (<tspan font-style="italic">n</tspan> = 371)</text>
<text transform="translate(296.94,143.7) rotate(-90)" font-family="DejaVu Sans, sans-serif" font-size="6.1" text-anchor="end" fill="#1a1a1a" stroke="#1a1a1a" stroke-width="0.32">LIHC.Normal (<tspan font-style="italic">n</tspan> = 50)</text>
<text transform="translate(304.91,143.7) rotate(-90)" font-family="DejaVu Sans, sans-serif" font-size="6.1" text-anchor="end" fill="#1a1a1a" stroke="#1a1a1a" stroke-width="0.32">LUAD.Tumor (<tspan font-style="italic">n</tspan> = 515)</text>
<text transform="translate(312.88,143.7) rotate(-90)" font-family="DejaVu Sans, sans-serif" font-size="6.1" text-anchor="end" fill="#1a1a1a" stroke="#1a1a1a" stroke-width="0.32">LUAD.Normal (<tspan font-style="italic">n</tspan> = 59)</text>
<text transform="translate(320.85,143.7) rotate(-90)" font-family="DejaVu Sans, sans-serif" font-size="6.1" text-anchor="end" fill="#1a1a1a" stroke="#1a1a1a" stroke-width="0.32">LUSC.Tumor (<tspan font-style="italic">n</tspan> = 501)</text>
<text transform="translate(328.82,143.7) rotate(-90)" font-family="DejaVu Sans, sans-serif" font-size="6.1" text-anchor="end" fill="#1a1a1a" stroke="#1a1a1a" stroke-width="0.32">LUSC.Normal (<tspan font-style="italic">n</tspan> = 51)</text>
<text transform="translate(336.78,143.7) rotate(-90)" font-family="DejaVu Sans, sans-serif" font-size="6.1" text-anchor="end" fill="#1a1a1a" stroke="#1a1a1a" stroke-width="0.32">MESO.Tumor (<tspan font-style="italic">n</tspan> = 87)</text>
<text transform="translate(344.75,143.7) rotate(-90)" font-family="DejaVu Sans, sans-serif" font-size="6.1" text-anchor="end" fill="#1a1a1a" stroke="#1a1a1a" stroke-width="0.32">OV.Tumor (<tspan font-style="italic">n</tspan> = 303)</text>
<text transform="translate(352.72,143.7) rotate(-90)" font-family="DejaVu Sans, sans-serif" font-size="6.1" text-anchor="end" fill="#1a1a1a" stroke="#1a1a1a" stroke-width="0.32">PAAD.Tumor (<tspan font-style="italic">n</tspan> = 178)</text>
<text transform="translate(360.69,143.7) rotate(-90)" font-family="DejaVu Sans, sans-serif" font-size="6.1" text-anchor="end" fill="#1a1a1a" stroke="#1a1a1a" stroke-width="0.32">PAAD.Normal (<tspan font-style="italic">n</tspan> = 4)</text>
<text transform="translate(368.66,143.7) rotate(-90)" font-family="DejaVu Sans, sans-serif" font-size="6.1" text-anchor="end" fill="#1a1a1a" stroke="#1a1a1a" stroke-width="0.32">PCPG.Tumor (<tspan font-style="italic">n</tspan> = 179)</text>
<text transform="translate(376.62,143.7) rotate(-90)" font-family="DejaVu Sans, sans-serif" font-size="6.1" text-anchor="end" fill="#1a1a1a" stroke="#1a1a1a" stroke-width="0.32">PCPG.Normal (<tspan font-style="italic">n</tspan> = 3)</text>
<text transform="translate(384.59,143.7) rotate(-90)" font-family="DejaVu Sans, sans-serif" font-size="6.1" text-anchor="end" fill="#1a1a1a" stroke="#1a1a1a" stroke-width="0.32">PRAD.Tumor (<tspan font-style="italic">n</tspan> = 497)</text>
<text transform="translate(392.56,143.7) rotate(-90)" font-family="DejaVu Sans, sans-serif" font-size="6.1" text-anchor="end" fill="#1a1a1a" stroke="#1a1a1a" stroke-width="0.32">PRAD.Normal (<tspan font-style="italic">n</tspan> = 52)</text>
<text transform="translate(400.53,143.7) rotate(-90)" font-family="DejaVu Sans, sans-serif" font-size="6.1" text-anchor="end" fill="#1a1a1a" stroke="#1a1a1a" stroke-width="0.32">READ.Tumor (<tspan font-style="italic">n</tspan> = 166)</text>
<text transform="translate(408.50,143.7) rotate(-90)" font-family="DejaVu Sans, sans-serif" font-size="6.1" text-anchor="end" fill="#1a1a1a" stroke="#1a1a1a" stroke-width="0.32">READ.Normal (<tspan font-style="italic">n</tspan> = 10)</text>
<text transform="translate(416.46,143.7) rotate(-90)" font-family="DejaVu Sans, sans-serif" font-size="6.1" text-anchor="end" fill="#1a1a1a" stroke="#1a1a1a" stroke-width="0.32">SARC.Tumor (<tspan font-style="italic">n</tspan> = 259)</text>
<text transform="translate(424.43,143.7) rotate(-90)" font-family="DejaVu Sans, sans-serif" font-size="6.1" text-anchor="end" fill="#1a1a1a" stroke="#1a1a1a" stroke-width="0.32">SKCM.Tumor (<tspan font-style="italic">n</tspan> = 103)</text>
<text transform="translate(432.40,143.7) rotate(-90)" font-family="DejaVu Sans, sans-serif" font-size="6.1" text-anchor="end" fill="#1a1a1a" stroke="#1a1a1a" stroke-width="0.32">SKCM.Metastasis (<tspan font-style="italic">n</tspan> = 368)</text>
<text transform="translate(440.37,143.7) rotate(-90)" font-family="DejaVu Sans, sans-serif" font-size="6.1" text-anchor="end" fill="#1a1a1a" stroke="#1a1a1a" stroke-width="0.32">STAD.Tumor (<tspan font-style="italic">n</tspan> = 415)</text>
<text transform="translate(448.34,143.7) rotate(-90)" font-family="DejaVu Sans, sans-serif" font-size="6.1" text-anchor="end" fill="#1a1a1a" stroke="#1a1a1a" stroke-width="0.32">STAD.Normal (<tspan font-style="italic">n</tspan> = 35)</text>
<text transform="translate(456.30,143.7) rotate(-90)" font-family="DejaVu Sans, sans-serif" font-size="6.1" text-anchor="end" fill="#1a1a1a" stroke="#1a1a1a" stroke-width="0.32">TGCT.Tumor (<tspan font-style="italic">n</tspan> = 150)</text>
<text transform="translate(464.27,143.7) rotate(-90)" font-family="DejaVu Sans, sans-serif" font-size="6.1" text-anchor="end" fill="#1a1a1a" stroke="#1a1a1a" stroke-width="0.32">THCA.Tumor (<tspan font-style="italic">n</tspan> = 501)</text>
<text transform="translate(472.24,143.7) rotate(-90)" font-family="DejaVu Sans, sans-serif" font-size="6.1" text-anchor="end" fill="#1a1a1a" stroke="#1a1a1a" stroke-width="0.32">THCA.Normal (<tspan font-style="italic">n</tspan> = 59)</text>
<text transform="translate(480.21,143.7) rotate(-90)" font-family="DejaVu Sans, sans-serif" font-size="6.1" text-anchor="end" fill="#1a1a1a" stroke="#1a1a1a" stroke-width="0.32">THYM.Tumor (<tspan font-style="italic">n</tspan> = 120)</text>
<text transform="translate(488.18,143.7) rotate(-90)" font-family="DejaVu Sans, sans-serif" font-size="6.1" text-anchor="end" fill="#1a1a1a" stroke="#1a1a1a" stroke-width="0.32">UCEC.Tumor (<tspan font-style="italic">n</tspan> = 545)</text>
<text transform="translate(496.14,143.7) rotate(-90)" font-family="DejaVu Sans, sans-serif" font-size="6.1" text-anchor="end" fill="#1a1a1a" stroke="#1a1a1a" stroke-width="0.32">UCEC.Normal (<tspan font-style="italic">n</tspan> = 35)</text>
<text transform="translate(504.11,143.7) rotate(-90)" font-family="DejaVu Sans, sans-serif" font-size="6.1" text-anchor="end" fill="#1a1a1a" stroke="#1a1a1a" stroke-width="0.32">UCS.Tumor (<tspan font-style="italic">n</tspan> = 57)</text>
<text transform="translate(512.08,143.7) rotate(-90)" font-family="DejaVu Sans, sans-serif" font-size="6.1" text-anchor="end" fill="#1a1a1a" stroke="#1a1a1a" stroke-width="0.32">UVM.Tumor (<tspan font-style="italic">n</tspan> = 80)</text>
<text x="60.04" y="15.1" font-family="DejaVu Sans, sans-serif" font-size="7.2" font-weight="bold" letter-spacing="0.36" text-anchor="middle" fill="#0a0a0a">***</text>
<text x="123.78" y="15.1" font-family="DejaVu Sans, sans-serif" font-size="7.2" font-weight="bold" letter-spacing="0.36" text-anchor="middle" fill="#0a0a0a">***</text>
<text x="139.72" y="15.1" font-family="DejaVu Sans, sans-serif" font-size="7.2" font-weight="bold" letter-spacing="0.36" text-anchor="middle" fill="#0a0a0a">***</text>
<text x="163.62" y="15.1" font-family="DejaVu Sans, sans-serif" font-size="7.2" font-weight="bold" letter-spacing="0.36" text-anchor="middle" fill="#0a0a0a">***</text>
<text x="179.56" y="15.1" font-family="DejaVu Sans, sans-serif" font-size="7.2" font-weight="bold" letter-spacing="0.36" text-anchor="middle" fill="#0a0a0a">**</text>
<text x="195.49" y="15.1" font-family="DejaVu Sans, sans-serif" font-size="7.2" font-weight="bold" letter-spacing="0.36" text-anchor="middle" fill="#0a0a0a">***</text>
<text x="211.43" y="15.1" font-family="DejaVu Sans, sans-serif" font-size="7.2" font-weight="bold" letter-spacing="0.36" text-anchor="middle" fill="#0a0a0a">**</text>
<text x="227.37" y="15.1" font-family="DejaVu Sans, sans-serif" font-size="7.2" font-weight="bold" letter-spacing="0.36" text-anchor="middle" fill="#0a0a0a">**</text>
<text x="243.30" y="15.1" font-family="DejaVu Sans, sans-serif" font-size="7.2" font-weight="bold" letter-spacing="0.36" text-anchor="middle" fill="#0a0a0a">***</text>
<text x="291.11" y="15.1" font-family="DejaVu Sans, sans-serif" font-size="7.2" font-weight="bold" letter-spacing="0.36" text-anchor="middle" fill="#0a0a0a">***</text>
<text x="307.05" y="15.1" font-family="DejaVu Sans, sans-serif" font-size="7.2" font-weight="bold" letter-spacing="0.36" text-anchor="middle" fill="#0a0a0a">***</text>
<text x="322.98" y="15.1" font-family="DejaVu Sans, sans-serif" font-size="7.2" font-weight="bold" letter-spacing="0.36" text-anchor="middle" fill="#0a0a0a">***</text>
<text x="386.73" y="15.1" font-family="DejaVu Sans, sans-serif" font-size="7.2" font-weight="bold" letter-spacing="0.36" text-anchor="middle" fill="#0a0a0a">***</text>
<text x="402.66" y="15.1" font-family="DejaVu Sans, sans-serif" font-size="7.2" font-weight="bold" letter-spacing="0.36" text-anchor="middle" fill="#0a0a0a">*</text>
<text x="426.57" y="15.1" font-family="DejaVu Sans, sans-serif" font-size="7.2" font-weight="bold" letter-spacing="0.36" text-anchor="middle" fill="#0a0a0a">***</text>
<text x="442.50" y="15.1" font-family="DejaVu Sans, sans-serif" font-size="7.2" font-weight="bold" letter-spacing="0.36" text-anchor="middle" fill="#0a0a0a">***</text>
<text x="490.31" y="15.1" font-family="DejaVu Sans, sans-serif" font-size="7.2" font-weight="bold" letter-spacing="0.36" text-anchor="middle" fill="#0a0a0a">***</text>
<text transform="translate(9.3,70.8) rotate(-90)" font-family="DejaVu Sans, sans-serif" font-size="7.74" text-anchor="middle" fill="#1a1a1a" stroke="#1a1a1a" stroke-width="0.18">NPM1 expression level (log<tspan font-size="5.3" dy="1.6">2</tspan><tspan dy="-1.6"> TPM)</tspan></text>
</svg>
<a class="src" href="#">http://timer.cistrome.org/</a>
</body></html>
